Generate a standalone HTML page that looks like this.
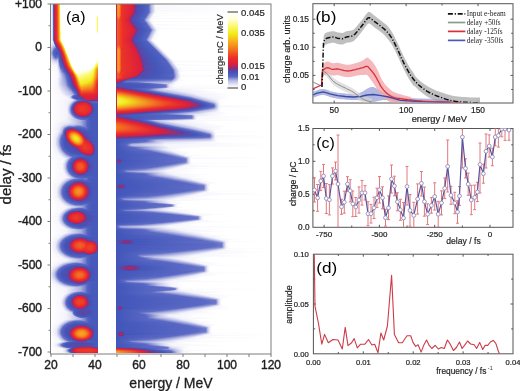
<!DOCTYPE html>
<html><head><meta charset="utf-8"><title>figure</title>
<style>
html,body{margin:0;padding:0;background:#fff}
body{width:520px;height:391px;overflow:hidden;position:relative;font-family:"Liberation Sans",Arial,sans-serif}
#hm{position:absolute;left:51px;top:4px;width:220px;height:349px;filter:blur(0.6px)}
#hm i{display:block;height:1px}
#ov{position:absolute;left:0;top:0}
</style></head><body>
<div id="hm">
<i style="background:linear-gradient(90deg,#ffffff 0px,#d0d2ee 1.5px,#485abc 2.5px,#b82559 3.5px,#e12436 4.5px,#eb2f29 5.5px,#f05224 6.5px,#f5d41d 8.5px,#ffffff 9.5px,#ffffff 64.5px,#bb2557 65.5px,#f6911f 66.5px,#f7a01f 67.5px,#f6911f 68.5px,#ec3428 70.5px,#dd1f3b 81.5px,#c32350 82.5px,#683d9a 84.5px,#514cad 86.5px,#4559bb 91.5px,#5565c2 97.5px,#b6bae4 100.5px,#f9f9fd 104.5px,#ffffff 220px)"></i>
<i style="background:linear-gradient(90deg,#ffffff 0px,#d0d2ee 1.5px,#485abc 2.5px,#b82559 3.5px,#e12436 4.5px,#eb2f29 5.5px,#f05224 6.5px,#f5d41d 8.5px,#fffffc 9.5px,#ffffff 64.5px,#bb2557 65.5px,#f68f1f 66.5px,#f79f1f 67.5px,#f68f1f 68.5px,#ec3428 70.5px,#dd1f3b 81.5px,#c32350 82.5px,#683d9a 84.5px,#514cad 86.5px,#4559bb 91.5px,#5565c2 97.5px,#b6bae4 100.5px,#f9f9fd 104.5px,#ffffff 220px)"></i>
<i style="background:linear-gradient(90deg,#ffffff 0px,#d0d2ee 1.5px,#485bbd 2.5px,#b72559 3.5px,#e12436 4.5px,#eb2f29 5.5px,#f05124 6.5px,#f5d31d 8.5px,#fffffa 9.5px,#ffffff 64.5px,#bb2557 65.5px,#f58e1f 66.5px,#f79e1f 67.5px,#f58e1f 68.5px,#ec3428 70.5px,#dd1f3b 81.5px,#c32350 82.5px,#683d9a 84.5px,#514cad 86.5px,#4559bb 91.5px,#5565c2 97.5px,#b6bae4 100.5px,#f9f9fd 104.5px,#ffffff 220px)"></i>
<i style="background:linear-gradient(90deg,#ffffff 0px,#d1d3ee 1.5px,#495bbd 2.5px,#b7255a 3.5px,#e12336 4.5px,#eb2f29 5.5px,#f05124 6.5px,#f5d21d 8.5px,#fffff7 9.5px,#ffffff 17.5px,#ffffff 64.5px,#bb2557 65.5px,#f58d1f 66.5px,#f69c1f 67.5px,#f58d1f 68.5px,#ec3428 70.5px,#dd1f3b 81.5px,#c32350 82.5px,#683d9a 84.5px,#514cad 86.5px,#4559bb 91.5px,#5565c2 97.5px,#b6bae4 100.5px,#f9f9fd 104.5px,#ffffff 220px)"></i>
<i style="background:linear-gradient(90deg,#ffffff 0px,#d1d3ee 1.5px,#495bbd 2.5px,#b6265a 3.5px,#e12336 4.5px,#eb2f29 5.5px,#f05124 6.5px,#f5d11d 8.5px,#fffff4 9.5px,#ffffff 11.5px,#ffffff 64.5px,#bb2557 65.5px,#f58b1f 66.5px,#f69b1f 67.5px,#f58b1f 68.5px,#ec3428 70.5px,#dd1f3b 81.5px,#c32350 82.5px,#683d9a 84.5px,#514cad 86.5px,#4559bb 91.5px,#5565c2 97.5px,#b6bae4 100.5px,#f9f9fd 104.5px,#ffffff 220px)"></i>
<i style="background:linear-gradient(90deg,#ffffff 0px,#d2d3ee 1.5px,#495bbd 2.5px,#b6265b 3.5px,#e12336 4.5px,#eb2f2a 5.5px,#ef5025 6.5px,#f5d01d 8.5px,#fffff2 9.5px,#ffffff 11.5px,#ffffff 64.5px,#bb2557 65.5px,#f58a1f 66.5px,#f69a1f 67.5px,#f58a1f 68.5px,#ec3428 70.5px,#dd1f3b 81.5px,#c32350 82.5px,#683d9a 84.5px,#514cad 86.5px,#4559bb 91.5px,#5565c2 97.5px,#b6bae4 100.5px,#f9f9fd 104.5px,#ffffff 220px)"></i>
<i style="background:linear-gradient(90deg,#ffffff 0px,#d2d4ef 1.5px,#495cbd 2.5px,#b5265b 3.5px,#e12336 4.5px,#eb2e2a 5.5px,#ef5025 6.5px,#f5cf1d 8.5px,#ffffef 9.5px,#ffffff 10.5px,#ffffff 64.5px,#bb2557 65.5px,#f5891f 66.5px,#f6981f 67.5px,#f5891f 68.5px,#ec3428 70.5px,#dd1f3b 81.5px,#c32350 82.5px,#683d9a 84.5px,#514cad 86.5px,#4559bb 91.5px,#5565c2 97.5px,#b6bae4 100.5px,#f9f9fd 104.5px,#ffffff 220px)"></i>
<i style="background:linear-gradient(90deg,#ffffff 0px,#d2d4ef 1.5px,#4a5cbd 2.5px,#b5265c 3.5px,#e12336 4.5px,#eb2e2a 5.5px,#ef4f25 6.5px,#f5ce1d 8.5px,#ffffec 9.5px,#ffffff 10.5px,#ffffff 64.5px,#bb2557 65.5px,#f58720 66.5px,#f6971f 67.5px,#f58720 68.5px,#ec3428 70.5px,#dd1f3b 81.5px,#c32350 82.5px,#683d9a 84.5px,#514cad 86.5px,#4559bb 91.5px,#5565c2 97.5px,#b6bae4 100.5px,#f9f9fd 104.5px,#ffffff 220px)"></i>
<i style="background:linear-gradient(90deg,#ffffff 0px,#d3d4ef 1.5px,#4a5cbd 2.5px,#b4265c 3.5px,#e02336 4.5px,#ea2e2a 5.5px,#ef4f25 6.5px,#f5cd1d 8.5px,#ffffe9 9.5px,#ffffff 10.5px,#ffffff 64.5px,#bb2557 65.5px,#f58620 66.5px,#f6951f 67.5px,#f58620 68.5px,#ec3428 70.5px,#dc1e3c 81.5px,#813084 83.5px,#5e44a2 84.5px,#4458bb 90.5px,#5967c3 97.5px,#bcc0e6 100.5px,#f2f2fb 103.5px,#ffffff 106.5px,#ffffff 220px)"></i>
<i style="background:linear-gradient(90deg,#ffffff 0px,#d3d5ef 1.5px,#4a5cbe 2.5px,#b3265c 3.5px,#e02336 4.5px,#ea2e2a 5.5px,#ef4f25 6.5px,#f5cc1d 8.5px,#ffffe7 9.5px,#ffffff 10.5px,#ffffff 64.5px,#bb2557 65.5px,#f58520 66.5px,#f6941f 67.5px,#f58520 68.5px,#ec3328 70.5px,#dd1f3b 80.5px,#c6224e 81.5px,#6a3b98 83.5px,#5649a9 84.5px,#4357bb 89.5px,#5564c2 96.5px,#929ad7 98.5px,#b5b9e3 99.5px,#f9f9fd 103.5px,#ffffff 220px)"></i>
<i style="background:linear-gradient(90deg,#ffffff 0px,#d3d5ef 1.5px,#4b5dbe 2.5px,#b3265d 3.5px,#e02337 4.5px,#ea2e2a 5.5px,#ef4e25 6.5px,#f5cc1d 8.5px,#ffffe4 9.5px,#ffffff 10.5px,#ffffff 45.5px,#ffffee 46.5px,#ffffff 47.5px,#ffffff 64.5px,#bb2557 65.5px,#f58320 66.5px,#f6931f 67.5px,#f58320 68.5px,#ec3328 70.5px,#d91f3f 80.5px,#76338e 82.5px,#5748a8 83.5px,#4558bb 89.5px,#5161c0 95.5px,#5f6cc6 96.5px,#a9aedf 98.5px,#e9e9f8 101.5px,#ffffff 103.5px,#ffffff 220px)"></i>
<i style="background:linear-gradient(90deg,#ffffff 0px,#d4d5ef 1.5px,#4b5dbe 2.5px,#b2265d 3.5px,#e02337 4.5px,#ea2e2a 5.5px,#ef4e25 6.5px,#f6cb1d 8.5px,#ffffe1 9.5px,#ffffff 10.5px,#fffffc 45.5px,#ffffda 46.5px,#ffffff 47.5px,#ffffff 64.5px,#bb2557 65.5px,#f58220 66.5px,#f6911f 67.5px,#f58220 68.5px,#ec3328 70.5px,#dd1f3b 79.5px,#ba2558 80.5px,#62419f 82.5px,#4356ba 87.5px,#5766c3 95.5px,#babde5 98.5px,#fcfcfe 102.5px,#ffffff 220px)"></i>
<i style="background:linear-gradient(90deg,#ffffff 0px,#d4d6ef 1.5px,#4b5dbe 2.5px,#b2265e 3.5px,#e02337 4.5px,#ea2e2a 5.5px,#ef4e25 6.5px,#f6ca1d 8.5px,#ffffdf 9.5px,#ffffff 10.5px,#ffffff 44.5px,#ffffe9 45.5px,#fefdb2 46.5px,#ffffff 47.5px,#ffffff 64.5px,#bb2557 65.5px,#f47b20 66.5px,#f58a1f 67.5px,#f47b20 68.5px,#ef4f25 69.5px,#ec3328 70.5px,#dd1f3a 78.5px,#cc2149 79.5px,#6e3995 81.5px,#5649a9 82.5px,#4558bb 88.5px,#5463c1 94.5px,#6874c9 95.5px,#b2b6e2 97.5px,#f7f7fc 101.5px,#ffffff 112.5px,#ffffff 220px)"></i>
<i style="background:linear-gradient(90deg,#ffffff 0px,#d4d6f0 1.5px,#4c5dbe 2.5px,#b1275e 3.5px,#e02337 4.5px,#ea2e2a 5.5px,#ef4d25 6.5px,#f6c91d 8.5px,#ffffdc 9.5px,#ffffff 10.5px,#ffffff 44.5px,#ffffd7 45.5px,#fcf97f 46.5px,#ffffff 47.5px,#ffffff 64.5px,#bb2557 65.5px,#f36e21 66.5px,#f47d20 67.5px,#f36e21 68.5px,#ee4426 69.5px,#eb2e2a 71.5px,#dc1e3c 78.5px,#7b3189 80.5px,#5a46a6 81.5px,#4458bb 87.5px,#5a68c4 94.5px,#a5aadd 96.5px,#f3f3fb 100.5px,#ffffff 102.5px,#ffffff 220px)"></i>
<i style="background:linear-gradient(90deg,#ffffff 0px,#d5d6f0 1.5px,#4c5ebe 2.5px,#b1275f 3.5px,#e02337 4.5px,#ea2e2b 5.5px,#ef4d25 6.5px,#f6c81d 8.5px,#ffffd9 9.5px,#ffffff 10.5px,#ffffff 44.5px,#fffec9 45.5px,#faf669 46.5px,#ffffff 47.5px,#ffffff 64.5px,#bb2557 65.5px,#f16023 66.5px,#f36f21 67.5px,#f16023 68.5px,#ed3c27 69.5px,#dd1f3b 77.5px,#c02453 78.5px,#663e9c 80.5px,#514cae 82.5px,#4659bb 87.5px,#5665c2 93.5px,#b7bbe4 96.5px,#fafafd 100.5px,#ffffff 220px)"></i>
<i style="background:linear-gradient(90deg,#ffffff 0px,#d5d7f0 1.5px,#4c5ebe 2.5px,#b0275f 3.5px,#e02337 4.5px,#ea2e2b 5.5px,#ef4d25 6.5px,#f6c71d 8.5px,#ffffd7 9.5px,#ffffff 10.5px,#ffffff 44.5px,#fffec9 45.5px,#faf669 46.5px,#ffffff 47.5px,#ffffff 64.5px,#bb2557 65.5px,#f15d23 66.5px,#f16023 67.5px,#ec3228 70.5px,#de203a 76.5px,#d32043 77.5px,#723691 79.5px,#5748a8 80.5px,#4558bb 86.5px,#5262c1 92.5px,#6370c7 93.5px,#aeb2e1 95.5px,#f6f6fc 99.5px,#ffffff 103.5px,#ffffff 220px)"></i>
<i style="background:linear-gradient(90deg,#ffffff 0px,#d5d7f0 1.5px,#4d5ebe 2.5px,#b0275f 3.5px,#e02237 4.5px,#ea2d2b 5.5px,#ef4c25 6.5px,#f6c61d 8.5px,#ffffd4 9.5px,#ffffff 10.5px,#ffffff 44.5px,#fffec9 45.5px,#faf669 46.5px,#ffffff 47.5px,#ffffff 64.5px,#bb2557 65.5px,#f15d23 66.5px,#ea2e2a 71.5px,#d42042 77.5px,#733590 79.5px,#5748a8 80.5px,#4558bb 86.5px,#5262c1 92.5px,#626fc7 93.5px,#adb1e0 95.5px,#eaeaf8 98.5px,#ffffff 101.5px,#ffffff 220px)"></i>
<i style="background:linear-gradient(90deg,#ffffff 0px,#d6d7f0 1.5px,#4d5ebf 2.5px,#af2760 3.5px,#e02237 4.5px,#ea2d2b 5.5px,#ef4c25 6.5px,#f6c61d 8.5px,#ffffd1 9.5px,#ffffff 10.5px,#ffffff 44.5px,#fffec9 45.5px,#faf669 46.5px,#ffffff 47.5px,#ffffff 64.5px,#bb2557 65.5px,#f15d23 66.5px,#ea2e2a 71.5px,#dd1f3a 77.5px,#c6224e 78.5px,#693c98 80.5px,#5649a9 81.5px,#4357bb 86.5px,#5564c2 93.5px,#929ad7 95.5px,#b5b9e3 96.5px,#f9f9fd 100.5px,#ffffff 220px)"></i>
<i style="background:linear-gradient(90deg,#ffffff 0px,#d6d8f0 1.5px,#4d5ebf 2.5px,#af2760 3.5px,#e02237 4.5px,#ea2d2b 5.5px,#ef4b25 6.5px,#f6c51d 8.5px,#fffeca 9.5px,#ffffff 10.5px,#ffffff 44.5px,#fffec9 45.5px,#faf669 46.5px,#ffffff 47.5px,#ffffff 64.5px,#bb2557 65.5px,#f15d23 66.5px,#eb2f2a 71.5px,#dd1f3b 78.5px,#6042a1 81.5px,#4457bb 87.5px,#5867c3 94.5px,#bbbee6 97.5px,#f1f1fa 100.5px,#ffffff 103.5px,#ffffff 220px)"></i>
<i style="background:linear-gradient(90deg,#ffffff 0px,#d7d8f0 1.5px,#4e5fbf 2.5px,#ae2761 3.5px,#e02237 4.5px,#e92d2b 5.5px,#ef4b25 6.5px,#f6c41d 8.5px,#fffec4 9.5px,#ffffff 10.5px,#ffffff 44.5px,#fffec9 45.5px,#faf669 46.5px,#ffffff 47.5px,#ffffff 64.5px,#bb2557 65.5px,#f15d23 66.5px,#eb2f29 71.5px,#d91f3e 79.5px,#76338d 81.5px,#5748a8 82.5px,#4558bb 88.5px,#5161c0 94.5px,#5e6cc5 95.5px,#a9aedf 97.5px,#e9e9f7 100.5px,#ffffff 102.5px,#ffffff 220px)"></i>
<i style="background:linear-gradient(90deg,#ffffff 0px,#d7d8f0 1.5px,#4e5fbf 2.5px,#ae2761 3.5px,#e02237 4.5px,#e92d2b 5.5px,#ef4b25 6.5px,#f6c31d 8.5px,#fefdbd 9.5px,#ffffff 10.5px,#ffffff 44.5px,#fffec9 45.5px,#faf669 46.5px,#ffffff 47.5px,#ffffff 64.5px,#bb2557 65.5px,#f15d23 66.5px,#eb2f29 71.5px,#dd1f3b 79.5px,#cb214a 80.5px,#6d3a96 82.5px,#5649a9 83.5px,#4558bb 89.5px,#5463c1 95.5px,#6976c9 96.5px,#b3b7e2 98.5px,#f8f8fd 102.5px,#ffffff 130.5px,#ffffff 220px)"></i>
<i style="background:linear-gradient(90deg,#ffffff 0px,#d7d9f1 1.5px,#4e5fbf 2.5px,#ad2761 3.5px,#e02237 4.5px,#e92d2b 5.5px,#ef4a25 6.5px,#f6c21d 8.5px,#fefdb7 9.5px,#ffffff 10.5px,#ffffff 44.5px,#fffec9 45.5px,#faf669 46.5px,#ffffff 47.5px,#ffffff 64.5px,#bb2557 65.5px,#f15d23 66.5px,#eb2f29 71.5px,#dd1f3b 80.5px,#bb2556 81.5px,#63409e 83.5px,#4c50b2 86.5px,#4659bc 90.5px,#5766c3 96.5px,#b9bde5 99.5px,#fbfbfe 103.5px,#ffffff 220px)"></i>
<i style="background:linear-gradient(90deg,#ffffff 0px,#d8d9f1 1.5px,#4f5fbf 2.5px,#ad2762 3.5px,#e02238 4.5px,#e92d2c 5.5px,#ef4a25 6.5px,#f6c11d 8.5px,#fefcb0 9.5px,#ffffff 10.5px,#ffffff 44.5px,#fffec9 45.5px,#faf669 46.5px,#ffffff 47.5px,#ffffff 64.5px,#bb2557 65.5px,#f15d23 66.5px,#eb2f29 71.5px,#dc1e3c 81.5px,#7b318a 83.5px,#5947a6 84.5px,#4458bb 90.5px,#5a68c4 97.5px,#a5abde 99.5px,#f3f3fb 103.5px,#ffffff 105.5px,#ffffff 220px)"></i>
<i style="background:linear-gradient(90deg,#ffffff 0px,#d8d9f1 1.5px,#4f60bf 2.5px,#ac2862 3.5px,#e02238 4.5px,#e92d2c 5.5px,#ef4a25 6.5px,#f7c01e 8.5px,#fefcaa 9.5px,#ffffff 10.5px,#ffffff 44.5px,#fffec9 45.5px,#faf669 46.5px,#ffffff 47.5px,#ffffff 64.5px,#bb2557 65.5px,#f15d23 66.5px,#ec3028 71.5px,#dd1f3b 81.5px,#d02046 82.5px,#703793 84.5px,#5648a9 85.5px,#4558bb 91.5px,#5363c1 97.5px,#6672c8 98.5px,#b0b5e1 100.5px,#f7f7fc 104.5px,#ffffff 110.5px,#ffffff 220px)"></i>
<i style="background:linear-gradient(90deg,#ffffff 0px,#d8daf1 1.5px,#4f60bf 2.5px,#ac2863 3.5px,#df2238 4.5px,#e92d2c 5.5px,#ef4925 6.5px,#f7c01e 8.5px,#fdfba3 9.5px,#ffffff 10.5px,#ffffff 44.5px,#fffec9 45.5px,#faf669 46.5px,#ffffff 47.5px,#ffffff 64.5px,#bb2557 65.5px,#f15d23 66.5px,#ec3028 71.5px,#dd1f3b 82.5px,#c02452 83.5px,#663e9b 85.5px,#514cae 87.5px,#4659bb 92.5px,#5665c2 98.5px,#b7bbe4 101.5px,#fafafd 105.5px,#ffffff 220px)"></i>
<i style="background:linear-gradient(90deg,#ffffff 0px,#d9daf1 1.5px,#4f60c0 2.5px,#ab2863 3.5px,#df2238 4.5px,#e92d2c 5.5px,#ef4925 6.5px,#f7bf1e 8.5px,#fdfb9d 9.5px,#ffffff 10.5px,#ffffff 44.5px,#fffec9 45.5px,#faf669 46.5px,#ffffff 47.5px,#ffffff 64.5px,#bb2557 65.5px,#f15d23 66.5px,#ec3028 71.5px,#dc1e3c 83.5px,#803086 85.5px,#5c44a3 86.5px,#4458bb 92.5px,#5967c4 99.5px,#bdc0e6 102.5px,#f2f2fb 105.5px,#ffffff 108.5px,#ffffff 220px)"></i>
<i style="background:linear-gradient(90deg,#ffffff 0px,#d9daf1 1.5px,#5060c0 2.5px,#ab2863 3.5px,#df2238 4.5px,#e92c2c 5.5px,#ef4925 6.5px,#f7be1e 8.5px,#fdfa96 9.5px,#ffffff 10.5px,#ffffff 44.5px,#fffec9 45.5px,#faf669 46.5px,#ffffff 47.5px,#ffffff 64.5px,#bb2557 65.5px,#f15d23 66.5px,#ec3028 71.5px,#dc1e3c 83.5px,#6042a1 86.5px,#4457bb 92.5px,#5867c3 99.5px,#bbbee6 102.5px,#f1f1fa 105.5px,#ffffff 108.5px,#ffffff 220px)"></i>
<i style="background:linear-gradient(90deg,#ffffff 0px,#d9dbf1 1.5px,#5061c0 2.5px,#aa2864 3.5px,#df2238 4.5px,#e92c2c 5.5px,#ef4825 6.5px,#f7bd1e 8.5px,#fdfa90 9.5px,#ffffff 10.5px,#ffffff 44.5px,#ffffd9 45.5px,#fcf983 46.5px,#ffffff 47.5px,#ffffff 64.5px,#bb2557 65.5px,#f15d23 66.5px,#ec3028 71.5px,#dd1f3b 82.5px,#d02046 83.5px,#703793 85.5px,#5648a9 86.5px,#4558bb 92.5px,#5363c1 98.5px,#6672c8 99.5px,#b0b5e1 101.5px,#f7f7fc 105.5px,#ffffff 111.5px,#ffffff 220px)"></i>
<i style="background:linear-gradient(90deg,#ffffff 0px,#dadbf2 1.5px,#5061c0 2.5px,#aa2864 3.5px,#df2238 4.5px,#e92c2c 5.5px,#ef4825 6.5px,#f7bc1e 8.5px,#fdf98a 9.5px,#ffffff 10.5px,#ffffff 44.5px,#ffffed 45.5px,#fefdbd 46.5px,#ffffff 47.5px,#ffffff 64.5px,#bb2557 65.5px,#f15d23 66.5px,#ec3028 71.5px,#dc1e3c 82.5px,#6042a1 85.5px,#4457bb 91.5px,#5867c3 98.5px,#bbbee6 101.5px,#f1f1fa 104.5px,#ffffff 107.5px,#ffffff 220px)"></i>
<i style="background:linear-gradient(90deg,#ffffff 0px,#dadbf2 1.5px,#5161c0 2.5px,#a92865 3.5px,#df2238 4.5px,#e92c2c 5.5px,#ef4825 6.5px,#f7bb1e 8.5px,#fcf983 9.5px,#ffffff 10.5px,#ffffff 45.5px,#ffffe1 46.5px,#ffffff 47.5px,#ffffff 64.5px,#bb2557 65.5px,#f15d23 66.5px,#ec3028 71.5px,#dd1f3b 81.5px,#d02046 82.5px,#703793 84.5px,#5648a9 85.5px,#4558bb 91.5px,#5363c1 97.5px,#6672c8 98.5px,#b0b5e1 100.5px,#f7f7fc 104.5px,#ffffff 110.5px,#ffffff 220px)"></i>
<i style="background:linear-gradient(90deg,#ffffff 0px,#dadbf2 1.5px,#5161c0 2.5px,#a92865 3.5px,#df2138 4.5px,#e82c2c 5.5px,#ef4725 6.5px,#f7ba1e 8.5px,#fcf87d 9.5px,#ffffff 10.5px,#ffffff 64.5px,#bb2557 65.5px,#f15d23 66.5px,#ec2f29 71.5px,#dc1e3c 81.5px,#6042a1 84.5px,#4457bb 90.5px,#5867c3 97.5px,#bbbee6 100.5px,#f1f1fa 103.5px,#ffffff 106.5px,#ffffff 220px)"></i>
<i style="background:linear-gradient(90deg,#fefeff 0px,#dbdcf2 1.5px,#5161c0 2.5px,#a82865 3.5px,#df2138 4.5px,#e82c2d 5.5px,#ee4726 6.5px,#f47920 7.5px,#f7ba1e 8.5px,#fcf877 9.5px,#ffffff 10.5px,#ffffff 64.5px,#bb2557 65.5px,#f15d23 66.5px,#eb2f29 71.5px,#dd1f3b 80.5px,#d02046 81.5px,#703793 83.5px,#5648a9 84.5px,#4558bb 90.5px,#5363c1 96.5px,#6672c8 97.5px,#b0b5e1 99.5px,#f7f7fc 103.5px,#ffffff 109.5px,#ffffff 220px)"></i>
<i style="background:linear-gradient(90deg,#fefeff 0px,#dbdcf2 1.5px,#5262c0 2.5px,#a82866 3.5px,#df2138 4.5px,#e82c2d 5.5px,#ee4726 6.5px,#f47820 7.5px,#f7b91e 8.5px,#fbf772 9.5px,#ffffff 10.5px,#ffffff 64.5px,#bb2557 65.5px,#f15d23 66.5px,#eb2f29 71.5px,#dc1e3b 80.5px,#6042a1 83.5px,#4457bb 89.5px,#5867c3 96.5px,#bbbee6 99.5px,#f1f1fa 102.5px,#ffffff 105.5px,#ffffff 220px)"></i>
<i style="background:linear-gradient(90deg,#fdfdfe 0px,#dbdcf2 1.5px,#5262c1 2.5px,#a72966 3.5px,#df2138 4.5px,#e82c2d 5.5px,#ee4626 6.5px,#f47820 7.5px,#f7b81e 8.5px,#fbf76c 9.5px,#ffffff 10.5px,#ffffff 64.5px,#bb2557 65.5px,#f15d23 66.5px,#eb2f29 71.5px,#dd1f3a 79.5px,#d02046 80.5px,#703793 82.5px,#5648a9 83.5px,#4558bb 89.5px,#5363c1 95.5px,#6672c8 96.5px,#b0b5e1 98.5px,#f7f7fc 102.5px,#ffffff 108.5px,#ffffff 220px)"></i>
<i style="background:linear-gradient(90deg,#fdfdfe 0px,#dcddf2 1.5px,#5262c1 2.5px,#a72967 3.5px,#df2138 4.5px,#e82c2d 5.5px,#ee4626 6.5px,#f47720 7.5px,#f7b71e 8.5px,#faf667 9.5px,#ffffff 10.5px,#ffffff 64.5px,#bb2557 65.5px,#f15d23 66.5px,#eb2f29 71.5px,#dc1f3b 79.5px,#6042a1 82.5px,#4457bb 88.5px,#5867c3 95.5px,#bbbee6 98.5px,#f1f1fa 101.5px,#ffffff 104.5px,#ffffff 220px)"></i>
<i style="background:linear-gradient(90deg,#fbfbfe 0px,#dcddf3 1.5px,#5262c1 2.5px,#a62967 3.5px,#df2139 4.5px,#e82c2d 5.5px,#ee4526 6.5px,#f47620 7.5px,#f8b61e 8.5px,#faf662 9.5px,#ffffff 10.5px,#ffffff 64.5px,#bb2557 65.5px,#f15d23 66.5px,#eb2f29 71.5px,#dd203a 78.5px,#d02046 79.5px,#703793 81.5px,#5648a9 82.5px,#4558bb 88.5px,#5363c1 94.5px,#6672c8 95.5px,#b0b5e1 97.5px,#f7f7fc 101.5px,#ffffff 107.5px,#ffffff 220px)"></i>
<i style="background:linear-gradient(90deg,#fafafd 0px,#e8e8f7 1.5px,#5f6dc6 2.5px,#992b72 3.5px,#dd1f3b 4.5px,#ee3e26 6.5px,#f26622 7.5px,#f3e81c 9.5px,#ffffff 10.5px,#ffffff 64.5px,#bb2557 65.5px,#f15d23 66.5px,#eb2f29 71.5px,#de203a 78.5px,#d22044 79.5px,#723692 81.5px,#5748a8 82.5px,#4558bb 88.5px,#5061c0 94.5px,#5c6ac5 95.5px,#a7acde 97.5px,#e8e8f7 100.5px,#ffffff 102.5px,#ffffff 220px)"></i>
<i style="background:linear-gradient(90deg,#f8f8fd 0px,#f5f5fc 1.5px,#9da3db 2.5px,#63409e 3.5px,#cc2149 4.5px,#ec3028 6.5px,#f05124 7.5px,#f6c71d 9.5px,#fefdbb 10.5px,#ffffff 11.5px,#ffffff 64.5px,#bb2557 65.5px,#f15d23 66.5px,#eb2f29 71.5px,#dd1f3b 79.5px,#be2454 80.5px,#653f9d 82.5px,#514cad 84.5px,#4558bb 89.5px,#5061c0 95.5px,#5c6ac5 96.5px,#a7acde 98.5px,#e8e8f7 101.5px,#ffffff 103.5px,#ffffff 220px)"></i>
<i style="background:linear-gradient(90deg,#f5f5fc 0px,#f1f1fa 1.5px,#c3c5e9 2.5px,#4659bc 3.5px,#ab2863 4.5px,#de2139 5.5px,#ee4126 7.5px,#f26a22 8.5px,#f3e71c 10.5px,#ffffff 11.5px,#ffffff 64.5px,#bb2557 65.5px,#f15d23 66.5px,#eb2f29 71.5px,#dc1e3c 80.5px,#78328c 82.5px,#5848a8 83.5px,#4357bb 89.5px,#5061c0 96.5px,#5c6ac5 97.5px,#a7acde 99.5px,#e8e8f7 102.5px,#ffffff 104.5px,#ffffff 220px)"></i>
<i style="background:linear-gradient(90deg,#f2f2fb 0px,#dbdcf2 2.5px,#5968c4 3.5px,#843082 4.5px,#c9224b 5.5px,#e22435 6.5px,#eb2f29 7.5px,#ef4f25 8.5px,#f6c61d 10.5px,#fdfba3 11.5px,#ffffff 12.5px,#ffffff 64.5px,#bb2557 65.5px,#f15d23 66.5px,#eb2f29 71.5px,#dd1f3b 80.5px,#c8224c 81.5px,#6b3b97 83.5px,#5649a9 84.5px,#4457bb 90.5px,#5061c0 97.5px,#5c6ac5 98.5px,#a7acde 100.5px,#e8e8f7 103.5px,#ffffff 105.5px,#ffffff 220px)"></i>
<i style="background:linear-gradient(90deg,#eeeef9 0px,#dadbf2 2.5px,#979ed9 3.5px,#534aab 4.5px,#a12a6b 5.5px,#dd1f3b 6.5px,#ed3b27 8.5px,#f26922 9.5px,#f3e41c 11.5px,#ffffff 12.5px,#ffffff 64.5px,#bb2557 65.5px,#f15d23 66.5px,#eb2f29 71.5px,#dc1e3c 81.5px,#5e43a2 84.5px,#4458bb 91.5px,#5061c0 98.5px,#5c6ac5 99.5px,#a7acde 101.5px,#e8e8f7 104.5px,#ffffff 106.5px,#ffffff 220px)"></i>
<i style="background:linear-gradient(90deg,#eaeaf8 0px,#c1c4e8 3.5px,#4d5ebe 4.5px,#7a328a 5.5px,#b82559 6.5px,#e02237 7.5px,#ea2d2b 8.5px,#ef4925 9.5px,#f6c31d 11.5px,#fdfa8b 12.5px,#ffffff 13.5px,#ffffff 64.5px,#bb2557 65.5px,#f15d23 66.5px,#f15e23 67.5px,#ec3428 70.5px,#dd1f3b 81.5px,#d22044 82.5px,#723692 84.5px,#5748a8 85.5px,#4558bb 92.5px,#5061c0 99.5px,#5c6ac5 100.5px,#a7acde 102.5px,#e8e8f7 105.5px,#ffffff 107.5px,#ffffff 220px)"></i>
<i style="background:linear-gradient(90deg,#e2e2f5 0px,#afb4e1 3.5px,#616ec6 4.5px,#63409e 5.5px,#ce2147 7.5px,#ed3627 9.5px,#f7a61e 11.5px,#f3e41c 12.5px,#ffffff 13.5px,#ffffff 64.5px,#bb2557 65.5px,#f15e23 66.5px,#f36d21 67.5px,#f15e23 68.5px,#ed3c27 69.5px,#e22534 78.5px,#dd1f3b 82.5px,#be2454 83.5px,#653f9d 85.5px,#524cad 87.5px,#4558bb 93.5px,#5061c0 100.5px,#5c6ac5 101.5px,#a7acde 103.5px,#e8e8f7 106.5px,#ffffff 108.5px,#ffffff 220px)"></i>
<i style="background:linear-gradient(90deg,#dadbf2 0px,#7d87d0 4.5px,#4753b6 5.5px,#743590 6.5px,#df2238 8.5px,#e92d2c 9.5px,#ef4e25 10.5px,#f6ca1d 12.5px,#fefdbe 13.5px,#ffffff 14.5px,#ffffff 64.5px,#bb2557 65.5px,#f26c22 66.5px,#f47b20 67.5px,#f26c22 68.5px,#ee4226 69.5px,#ec3028 71.5px,#dc1e3c 83.5px,#78328c 85.5px,#5848a8 86.5px,#4457bb 93.5px,#5061c0 101.5px,#5c6ac5 102.5px,#a7acde 104.5px,#e8e8f7 107.5px,#ffffff 109.5px,#ffffff 220px)"></i>
<i style="background:linear-gradient(90deg,#d2d3ee 0px,#949cd8 2.5px,#707bcb 3.5px,#4d5ebf 5.5px,#5f42a1 6.5px,#872f80 7.5px,#ce2147 8.5px,#ed3727 10.5px,#f8b01e 12.5px,#f5f136 13.5px,#ffffff 14.5px,#ffffff 64.5px,#bb2557 65.5px,#f47920 66.5px,#f58820 67.5px,#f47920 68.5px,#ef4e25 69.5px,#ec3428 70.5px,#dd1f3b 83.5px,#c8224c 84.5px,#6b3b97 86.5px,#5649a9 87.5px,#4457bb 94.5px,#5061c0 102.5px,#5c6ac5 103.5px,#a7acde 105.5px,#e8e8f7 108.5px,#ffffff 110.5px,#ffffff 220px)"></i>
<i style="background:linear-gradient(90deg,#cacdec 0px,#aeb2e1 1.5px,#7c86d0 2.5px,#5867c3 3.5px,#5262c1 5.5px,#4c4fb1 6.5px,#6c3a96 7.5px,#df2238 9.5px,#e92d2b 10.5px,#f05924 11.5px,#f4d51d 13.5px,#ffffe6 14.5px,#ffffff 15.5px,#ffffff 64.5px,#bb2557 65.5px,#f58620 66.5px,#f6951f 67.5px,#f58620 68.5px,#ec3428 70.5px,#dc1e3c 84.5px,#5e43a2 87.5px,#4458bb 95.5px,#5061c0 103.5px,#5c6ac5 104.5px,#a7acde 106.5px,#e8e8f7 109.5px,#ffffff 111.5px,#ffffff 220px)"></i>
<i style="background:linear-gradient(90deg,#c4c7e9 0px,#9ea4db 1.5px,#6874c9 2.5px,#5262c1 3.5px,#4659bc 6.5px,#77338d 8.5px,#d02046 9.5px,#e42831 10.5px,#ee3f26 11.5px,#f7bb1e 13.5px,#fcf874 14.5px,#ffffff 15.5px,#ffffff 64.5px,#bb2557 65.5px,#f58c1f 66.5px,#f69c1f 67.5px,#f58c1f 68.5px,#ec3428 70.5px,#dd1f3b 84.5px,#cd2148 85.5px,#6e3894 87.5px,#5748a8 88.5px,#4558bb 96.5px,#5061c0 104.5px,#5c6ac5 105.5px,#a7acde 107.5px,#e8e8f7 110.5px,#ffffff 112.5px,#ffffff 220px)"></i>
<i style="background:linear-gradient(90deg,#c0c3e8 0px,#5a68c4 2.5px,#4659bc 5.5px,#4d5ebf 6.5px,#4554b7 7.5px,#62419f 8.5px,#a22a6a 9.5px,#e02237 10.5px,#ea2d2b 11.5px,#f3e01c 14.5px,#ffffff 15.5px,#ffffff 64.5px,#bb2557 65.5px,#f58c1f 66.5px,#f69c1f 67.5px,#f58c1f 68.5px,#ec3428 70.5px,#dc1e3c 85.5px,#7d3188 87.5px,#5b45a5 88.5px,#4457bb 96.5px,#5061c0 105.5px,#5c6ac5 106.5px,#a7acde 108.5px,#e8e8f7 111.5px,#ffffff 113.5px,#ffffff 220px)"></i>
<i style="background:linear-gradient(90deg,#bec1e7 0px,#5866c3 2.5px,#4357bb 5.5px,#4659bc 7.5px,#544aab 8.5px,#7e3188 9.5px,#d91f3e 10.5px,#e52930 11.5px,#ef4c25 12.5px,#f6c71d 14.5px,#fefdb6 15.5px,#ffffff 16.5px,#ffffff 64.5px,#bb2557 65.5px,#f58c1f 66.5px,#f69c1f 67.5px,#f58c1f 68.5px,#ec3428 70.5px,#dd1f3b 85.5px,#c32350 86.5px,#683d9a 88.5px,#5649a9 89.5px,#4458bb 97.5px,#5061c0 106.5px,#5c6ac5 107.5px,#a7acde 109.5px,#e8e8f7 112.5px,#ffffff 114.5px,#ffffff 220px)"></i>
<i style="background:linear-gradient(90deg,#bec1e7 0px,#5866c3 2.5px,#4357bb 5.5px,#4a5cbd 7.5px,#4c50b2 8.5px,#6a3b98 9.5px,#bc2456 10.5px,#e22534 11.5px,#ed3527 12.5px,#f8ae1e 14.5px,#f6f23d 15.5px,#ffffff 16.5px,#ffffff 64.5px,#bb2557 65.5px,#f58c1f 66.5px,#f69c1f 67.5px,#f58c1f 68.5px,#ec3428 70.5px,#d71f40 86.5px,#75348f 88.5px,#5748a8 89.5px,#4458bb 98.5px,#5061c0 107.5px,#5c6ac5 108.5px,#a7acde 110.5px,#e8e8f7 113.5px,#ffffff 115.5px,#ffffff 220px)"></i>
<i style="background:linear-gradient(90deg,#c0c3e8 0px,#5a68c4 2.5px,#4659bc 5.5px,#4d5ebf 7.5px,#4455b9 8.5px,#5e43a2 9.5px,#9f2a6d 10.5px,#df2138 11.5px,#e82c2d 12.5px,#f5d21d 15.5px,#ffffdf 16.5px,#ffffff 17.5px,#ffffff 64.5px,#bb2557 65.5px,#f58c1f 66.5px,#f69c1f 67.5px,#f58c1f 68.5px,#ec3428 70.5px,#dc1e3c 86.5px,#b92558 87.5px,#61419f 89.5px,#4d4fb1 93.5px,#4659bc 100.5px,#5061c0 108.5px,#5c6ac5 109.5px,#a7acde 111.5px,#e8e8f7 114.5px,#ffffff 116.5px,#ffffff 220px)"></i>
<i style="background:linear-gradient(90deg,#c4c7e9 0px,#9ea4db 1.5px,#6874c9 2.5px,#5262c1 3.5px,#5262c1 7.5px,#4558bb 8.5px,#5649a9 9.5px,#843082 10.5px,#da1e3e 11.5px,#e52831 12.5px,#ef4725 13.5px,#f7ba1e 15.5px,#fbf772 16.5px,#ffffff 17.5px,#ffffff 64.5px,#bb2557 65.5px,#f58c1f 66.5px,#f69c1f 67.5px,#f58c1f 68.5px,#ec3428 70.5px,#dd1f3b 86.5px,#cd2148 87.5px,#6e3894 89.5px,#5748a8 90.5px,#4457bb 99.5px,#5061c0 109.5px,#5c6ac5 110.5px,#a7acde 112.5px,#e8e8f7 115.5px,#ffffff 117.5px,#ffffff 220px)"></i>
<i style="background:linear-gradient(90deg,#cacdec 0px,#aeb2e1 1.5px,#7c86d0 2.5px,#5867c3 3.5px,#5766c3 7.5px,#485abc 8.5px,#4f4daf 9.5px,#713692 10.5px,#c12351 11.5px,#e22534 12.5px,#ec3428 13.5px,#f3e91c 16.5px,#fffff9 17.5px,#ffffff 64.5px,#bb2557 65.5px,#f58c1f 66.5px,#f69c1f 67.5px,#f58c1f 68.5px,#ec3428 70.5px,#dc1e3c 87.5px,#7d3188 89.5px,#5b45a5 90.5px,#4458bb 100.5px,#5061c0 110.5px,#5c6ac5 111.5px,#a7acde 113.5px,#e8e8f7 116.5px,#ffffff 118.5px,#ffffff 220px)"></i>
<i style="background:linear-gradient(90deg,#d2d3ee 0px,#949cd8 2.5px,#707bcb 3.5px,#5b69c4 4.5px,#5b69c4 5.5px,#707bcb 6.5px,#4a5cbd 8.5px,#4a51b3 9.5px,#663e9c 10.5px,#ad2761 11.5px,#e02237 12.5px,#e92c2c 13.5px,#f5cb1d 16.5px,#fffec9 17.5px,#ffffff 18.5px,#ffffff 64.5px,#bb2557 65.5px,#f58c1f 66.5px,#f69c1f 67.5px,#f58c1f 68.5px,#ec3428 70.5px,#dc1f3b 87.5px,#c32350 88.5px,#683d9a 90.5px,#5648a9 91.5px,#4558bb 101.5px,#5061c0 111.5px,#5c6ac5 112.5px,#a7acde 114.5px,#e8e8f7 117.5px,#ffffff 119.5px,#ffffff 220px)"></i>
<i style="background:linear-gradient(90deg,#dadbf2 0px,#7d87d0 4.5px,#7d87d0 5.5px,#8f97d6 6.5px,#4c5dbe 8.5px,#4454b8 9.5px,#5d44a3 10.5px,#de203a 12.5px,#e6292f 13.5px,#ef4d25 14.5px,#f7b81e 16.5px,#faf667 17.5px,#ffffff 18.5px,#ffffff 64.5px,#bb2557 65.5px,#f58c1f 66.5px,#f69c1f 67.5px,#f58c1f 68.5px,#ec3428 70.5px,#d71f40 88.5px,#75348f 90.5px,#5748a8 91.5px,#4457bb 101.5px,#5061c0 112.5px,#5c6ac5 113.5px,#a7acde 115.5px,#e8e8f7 118.5px,#ffffff 120.5px,#ffffff 220px)"></i>
<i style="background:linear-gradient(90deg,#e2e2f5 0px,#a0a6dc 4.5px,#a0a6dc 5.5px,#afb4e1 6.5px,#4e5fbf 8.5px,#4357ba 9.5px,#5748a8 10.5px,#882f7f 11.5px,#d61f41 12.5px,#e42732 13.5px,#ed3e27 14.5px,#f7a71e 16.5px,#f2eb1c 17.5px,#fffff2 18.5px,#ffffff 20.5px,#ffffff 64.5px,#bb2557 65.5px,#f58c1f 66.5px,#f69c1f 67.5px,#f58c1f 68.5px,#ec3528 70.5px,#dc1e3c 88.5px,#b92558 89.5px,#61419f 91.5px,#4e4eaf 95.5px,#4559bb 103.5px,#5061c0 113.5px,#5c6ac5 114.5px,#a7acde 116.5px,#e8e8f7 119.5px,#ffffff 121.5px,#ffffff 220px)"></i>
<i style="background:linear-gradient(90deg,#eaeaf8 0px,#bbbee5 4.5px,#c1c4e8 6.5px,#5061c0 8.5px,#4659bc 9.5px,#504cae 10.5px,#75348e 11.5px,#c02453 12.5px,#e12436 13.5px,#eb2f29 14.5px,#f6c71d 17.5px,#fefdb9 18.5px,#ffffff 19.5px,#fffffc 45.5px,#ffffe5 46.5px,#ffffff 47.5px,#ffffff 64.5px,#bb2557 65.5px,#f58c1f 66.5px,#f69c1f 67.5px,#f58c1f 68.5px,#ec3528 70.5px,#dd1f3b 88.5px,#c8224c 89.5px,#6b3b97 91.5px,#5748a8 92.5px,#4558bb 103.5px,#5262c1 114.5px,#626fc7 115.5px,#adb1e0 117.5px,#eaeaf8 120.5px,#ffffff 123.5px,#ffffff 220px)"></i>
<i style="background:linear-gradient(90deg,#eeeef9 0px,#ccceec 4.5px,#d1d3ee 6.5px,#5363c1 8.5px,#4852b5 10.5px,#673d9a 11.5px,#de2039 13.5px,#e6292f 14.5px,#f58220 16.5px,#f8b11e 17.5px,#f8f456 18.5px,#ffffff 19.5px,#ffffff 44.5px,#ffffcd 46.5px,#ffffff 47.5px,#ffffff 64.5px,#bb2557 65.5px,#f58c1f 66.5px,#f69c1f 67.5px,#f58c1f 68.5px,#ec3528 70.5px,#dd1f3b 88.5px,#d22044 89.5px,#723692 91.5px,#5748a8 92.5px,#4458bb 103.5px,#5564c2 115.5px,#929ad7 117.5px,#b5b9e3 118.5px,#f9f9fd 122.5px,#ffffff 220px)"></i>
<i style="background:linear-gradient(90deg,#f2f2fb 0px,#dbdcf2 5.5px,#dadbf2 6.5px,#a7acde 7.5px,#5866c3 8.5px,#4356ba 10.5px,#5a46a6 11.5px,#902d79 12.5px,#d71f40 13.5px,#e32633 14.5px,#ed3d27 15.5px,#f69d1f 17.5px,#f4de1d 18.5px,#ffffde 19.5px,#ffffff 20.5px,#ffffff 43.5px,#fffff4 44.5px,#ffffd1 45.5px,#fdfb99 46.5px,#ffffff 47.5px,#ffffff 64.5px,#bb2557 65.5px,#f58c1f 66.5px,#f69c1f 67.5px,#f58c1f 68.5px,#ec3528 70.5px,#dc1e3c 89.5px,#78328c 91.5px,#5848a8 92.5px,#4558bb 104.5px,#5867c3 116.5px,#bbbee6 119.5px,#f1f1fa 122.5px,#ffffff 125.5px,#ffffff 220px)"></i>
<i style="background:linear-gradient(90deg,#f5f5fc 0px,#dfe0f4 6.5px,#b3b7e3 7.5px,#626fc7 8.5px,#4659bc 10.5px,#4e4eb0 11.5px,#7a328a 12.5px,#be2454 13.5px,#e02337 14.5px,#eb2f2a 15.5px,#f8b61e 18.5px,#fdf989 19.5px,#ffffff 20.5px,#ffffff 43.5px,#ffffdf 44.5px,#faf669 46.5px,#ffffff 47.5px,#ffffff 64.5px,#bb2557 65.5px,#f58c1f 66.5px,#f69c1f 67.5px,#f58c1f 68.5px,#ec3528 70.5px,#dc1e3c 89.5px,#5e43a2 92.5px,#4357bb 103.5px,#5161c0 116.5px,#5e6cc5 117.5px,#a9aedf 119.5px,#e9e9f7 122.5px,#ffffff 124.5px,#ffffff 220px)"></i>
<i style="background:linear-gradient(90deg,#f8f8fd 0px,#eeeef9 5.5px,#e3e3f5 6.5px,#babee5 7.5px,#717dcc 8.5px,#5262c1 9.5px,#4653b6 11.5px,#6c3a97 12.5px,#dd203a 14.5px,#e6292f 15.5px,#ef4a25 16.5px,#f7a21f 18.5px,#f5f137 19.5px,#fffff0 20.5px,#ffffff 21.5px,#ffffff 42.5px,#fffff3 43.5px,#fefdbd 44.5px,#fbf76c 45.5px,#f6f23f 46.5px,#ffffff 47.5px,#ffffff 64.5px,#bb2557 65.5px,#f58c1f 66.5px,#f69c1f 67.5px,#f58c1f 68.5px,#ec3528 70.5px,#dc1e3c 89.5px,#be2454 90.5px,#653f9d 92.5px,#544aab 94.5px,#4558bb 105.5px,#5463c1 117.5px,#6976c9 118.5px,#b3b7e2 120.5px,#f8f8fd 124.5px,#ffffff 152.5px,#ffffff 220px)"></i>
<i style="background:linear-gradient(90deg,#fafafd 0px,#f3f3fb 5.5px,#e6e7f7 6.5px,#c1c4e8 7.5px,#808ad1 8.5px,#5564c2 9.5px,#4457bb 11.5px,#5e43a2 12.5px,#d02046 14.5px,#e22435 15.5px,#ed3827 16.5px,#f6901f 18.5px,#f5ce1d 19.5px,#fefdb8 20.5px,#ffffff 21.5px,#ffffff 42.5px,#ffffde 43.5px,#fdf988 44.5px,#f6f241 45.5px,#f3e91c 46.5px,#ffffff 47.5px,#ffffff 64.5px,#bb2557 65.5px,#f58c1f 66.5px,#f69c1f 67.5px,#f58c1f 68.5px,#ed3527 70.5px,#dd1f3b 89.5px,#c8224c 90.5px,#6b3b97 92.5px,#5748a8 93.5px,#4458bb 105.5px,#5766c3 118.5px,#b9bde5 121.5px,#fbfbfe 125.5px,#ffffff 220px)"></i>
<i style="background:linear-gradient(90deg,#fbfbfe 0px,#f7f7fc 5.5px,#eaeaf8 6.5px,#c9cbeb 7.5px,#5867c3 9.5px,#485abc 11.5px,#4f4eaf 12.5px,#76338e 13.5px,#b2265e 14.5px,#de203a 15.5px,#e92c2c 16.5px,#f7a11f 19.5px,#f8f453 20.5px,#fffff6 21.5px,#ffffff 26.5px,#ffffff 41.5px,#ffffed 42.5px,#fefdb7 43.5px,#f9f558 44.5px,#f2ea1c 45.5px,#f5cd1d 46.5px,#ffffff 47.5px,#ffffff 64.5px,#bb2557 65.5px,#f58c1f 66.5px,#f69c1f 67.5px,#f58c1f 68.5px,#ed3527 70.5px,#dd1f3b 89.5px,#d22044 90.5px,#723692 92.5px,#5748a8 93.5px,#4457bb 105.5px,#5061c0 118.5px,#5a68c4 119.5px,#a5abde 121.5px,#f3f3fb 125.5px,#ffffff 127.5px,#ffffff 220px)"></i>
<i style="background:linear-gradient(90deg,#fdfdfe 0px,#f9f9fd 5.5px,#ededf9 6.5px,#d2d4ef 7.5px,#a8aedf 8.5px,#6471c7 9.5px,#4558bb 12.5px,#62419f 13.5px,#c9224b 15.5px,#e22534 16.5px,#ed3727 17.5px,#f58720 19.5px,#f5d41d 20.5px,#fefcad 21.5px,#ffffff 22.5px,#ffffff 40.5px,#fffff2 41.5px,#ffffd6 42.5px,#f4f02c 44.5px,#f5ce1d 45.5px,#f8b21e 46.5px,#ffffff 47.5px,#ffffff 64.5px,#bb2557 65.5px,#f58c1f 66.5px,#f69c1f 67.5px,#f58c1f 68.5px,#ed3527 70.5px,#dc1e3c 90.5px,#78328c 92.5px,#5848a8 93.5px,#4558bb 106.5px,#5363c1 119.5px,#6672c8 120.5px,#b0b5e1 122.5px,#f7f7fc 126.5px,#ffffff 132.5px,#ffffff 220px)"></i>
<i style="background:linear-gradient(90deg,#fdfdfe 0px,#fbfbfe 5.5px,#dbdcf2 7.5px,#b8bbe4 8.5px,#7a85cf 9.5px,#5a68c4 10.5px,#4b5dbe 12.5px,#4e4eb0 13.5px,#723691 14.5px,#dc1f3b 16.5px,#e82b2e 17.5px,#f36d21 19.5px,#f69d1f 20.5px,#f6f243 21.5px,#ffffe5 22.5px,#ffffff 23.5px,#fffffa 39.5px,#ffffda 41.5px,#fdfba1 42.5px,#f8f44f 43.5px,#f4dc1d 44.5px,#f8b21e 45.5px,#f6991f 46.5px,#ffffff 47.5px,#ffffff 64.5px,#bb2557 65.5px,#f58c1f 66.5px,#f69c1f 67.5px,#f58c1f 68.5px,#ed3527 70.5px,#dc1e3c 90.5px,#5e43a2 93.5px,#4458bb 106.5px,#5665c2 120.5px,#b7bbe4 123.5px,#fafafd 127.5px,#ffffff 220px)"></i>
<i style="background:linear-gradient(90deg,#fefeff 0px,#fdfdfe 5.5px,#e3e3f5 7.5px,#c2c4e8 8.5px,#6976c9 10.5px,#4558bb 13.5px,#833084 15.5px,#e12435 17.5px,#ec3028 18.5px,#f47820 20.5px,#f5cd1d 21.5px,#fdf989 22.5px,#ffffff 23.5px,#fffffb 36.5px,#ffffd4 40.5px,#fefcaa 41.5px,#f3ef23 43.5px,#f7a31f 45.5px,#f58e1f 46.5px,#ffffff 47.5px,#ffffff 64.5px,#bb2557 65.5px,#f58c1f 66.5px,#f69c1f 67.5px,#f58c1f 68.5px,#ed3527 70.5px,#dc1e3c 90.5px,#be2454 91.5px,#653f9d 93.5px,#544aaa 95.5px,#4558bb 107.5px,#5061c0 120.5px,#5967c4 121.5px,#bdc0e6 124.5px,#f2f2fb 127.5px,#ffffff 130.5px,#ffffff 220px)"></i>
<i style="background:linear-gradient(90deg,#fefeff 0px,#f5f5fc 6.5px,#e9e9f8 7.5px,#7984cf 10.5px,#5565c2 12.5px,#4a50b3 14.5px,#932d77 16.5px,#d81f3f 17.5px,#ed3c27 19.5px,#f15e23 20.5px,#f6991f 21.5px,#f4f02a 22.5px,#ffffcd 23.5px,#ffffff 24.5px,#fffff9 33.5px,#ffffd2 38.5px,#fcf981 41.5px,#f2e91c 43.5px,#f69b1f 45.5px,#f58620 46.5px,#ffffff 47.5px,#ffffff 64.5px,#bb2557 65.5px,#f58520 66.5px,#f6941f 67.5px,#f58520 68.5px,#ed3527 70.5px,#dc1e3c 90.5px,#78328c 92.5px,#5848a8 93.5px,#4558bb 107.5px,#5564c2 121.5px,#6c78ca 122.5px,#b4b8e3 124.5px,#f8f8fd 128.5px,#ffffff 220px)"></i>
<i style="background:linear-gradient(90deg,#ffffff 0px,#f7f7fc 6.5px,#ededf9 7.5px,#b6bae4 9.5px,#8992d4 10.5px,#5c69c5 12.5px,#4759bc 14.5px,#5549aa 15.5px,#733590 16.5px,#df2238 18.5px,#ee4526 20.5px,#f26822 21.5px,#f7bf1e 22.5px,#f9f55f 23.5px,#ffffe5 24.5px,#ffffff 25.5px,#fffff7 30.5px,#ffffd1 35.5px,#fefdb5 37.5px,#fdfa90 40.5px,#f7f347 42.5px,#f3e21c 43.5px,#f6961f 45.5px,#f58120 46.5px,#ffffff 47.5px,#ffffff 64.5px,#bb2557 65.5px,#f47620 66.5px,#f58520 67.5px,#f47620 68.5px,#ef4b25 69.5px,#ec3528 70.5px,#dc1e3c 89.5px,#78328c 91.5px,#5848a8 92.5px,#4558bb 107.5px,#5363c1 121.5px,#6672c8 122.5px,#b0b5e1 124.5px,#f7f7fc 128.5px,#ffffff 134.5px,#ffffff 220px)"></i>
<i style="background:linear-gradient(90deg,#ffffff 0px,#f9f9fd 6.5px,#dcddf2 8.5px,#989fd9 10.5px,#5a68c4 13.5px,#4256ba 15.5px,#79328b 17.5px,#c5234e 18.5px,#e22534 19.5px,#eb2f29 20.5px,#ef4a25 21.5px,#f58d1f 22.5px,#f3df1c 23.5px,#fdf98a 24.5px,#fffff1 25.5px,#fffffc 26.5px,#fffecb 32.5px,#fefdb5 34.5px,#fdfa90 39.5px,#faf664 41.5px,#f5f13a 42.5px,#f4da1d 43.5px,#f6901f 45.5px,#f47c20 46.5px,#ffffff 47.5px,#ffffff 64.5px,#bb2557 65.5px,#f26722 66.5px,#f47620 67.5px,#f26722 68.5px,#ed3e27 69.5px,#e82c2c 75.5px,#dc1e3c 88.5px,#78328c 90.5px,#5848a8 91.5px,#4458bb 106.5px,#5161c0 121.5px,#5f6dc6 122.5px,#aaafdf 124.5px,#e9e9f8 127.5px,#ffffff 129.5px,#ffffff 220px)"></i>
<i style="background:linear-gradient(90deg,#ffffff 0px,#fafafd 6.5px,#e1e1f4 8.5px,#7f88d0 12.5px,#4a5cbd 15.5px,#4a51b3 16.5px,#63409e 17.5px,#952c75 18.5px,#dc1f3b 19.5px,#ec3228 21.5px,#f16023 22.5px,#f8ab1e 23.5px,#f4f02d 24.5px,#fefca7 25.5px,#ffffe3 26.5px,#fefcae 32.5px,#fcf87e 39.5px,#f8f456 41.5px,#f4f02d 42.5px,#f5d21d 43.5px,#f58a1f 45.5px,#f47720 46.5px,#ffffff 47.5px,#ffffff 64.5px,#bb2557 65.5px,#f15d23 66.5px,#f26522 67.5px,#ed3c27 69.5px,#e32633 80.5px,#dc1e3c 87.5px,#78328c 89.5px,#5848a8 90.5px,#4558bb 106.5px,#5061c0 121.5px,#5a68c4 122.5px,#a4a9dd 124.5px,#f3f3fb 128.5px,#ffffff 130.5px,#ffffff 220px)"></i>
<i style="background:linear-gradient(90deg,#ffffff 0px,#fafafd 6.5px,#e3e3f5 8.5px,#5e6cc6 14.5px,#4659bc 16.5px,#504dae 17.5px,#703893 18.5px,#b1275f 19.5px,#df2139 20.5px,#ed3627 22.5px,#f6c41d 24.5px,#f6f244 25.5px,#fefcac 26.5px,#fefdb7 27.5px,#fbf76f 39.5px,#f7f348 41.5px,#f2ee20 42.5px,#f58520 45.5px,#f37121 46.5px,#ffffff 47.5px,#ffffff 64.5px,#bb2557 65.5px,#f15d23 66.5px,#ec3128 71.5px,#dc1e3c 86.5px,#78328c 88.5px,#5848a8 89.5px,#4458bb 105.5px,#5867c3 122.5px,#bbbee6 125.5px,#f1f1fa 128.5px,#ffffff 131.5px,#ffffff 220px)"></i>
<i style="background:linear-gradient(90deg,#ffffff 0px,#f9f9fd 6.5px,#e4e5f6 8.5px,#6d79cb 14.5px,#5565c2 15.5px,#4356b9 17.5px,#5c45a4 18.5px,#8e2e7b 19.5px,#cf2147 20.5px,#e82c2c 22.5px,#f15b23 23.5px,#f4de1d 25.5px,#faf667 26.5px,#fdfba5 27.5px,#f9f560 39.5px,#f5f13a 41.5px,#f3e81c 42.5px,#f47f20 45.5px,#f26b22 46.5px,#ffffff 47.5px,#ffffff 64.5px,#bb2557 65.5px,#f15d23 66.5px,#ec3028 71.5px,#dc1e3c 85.5px,#78328c 87.5px,#5848a8 88.5px,#4558bb 105.5px,#5665c2 122.5px,#b8bbe4 125.5px,#fafafd 129.5px,#ffffff 220px)"></i>
<i style="background:linear-gradient(90deg,#ffffff 0px,#f9f9fd 6.5px,#e5e5f6 8.5px,#7681ce 14.5px,#5867c3 15.5px,#4559bb 17.5px,#504dae 18.5px,#77338d 19.5px,#b5265c 20.5px,#de2139 21.5px,#e52831 22.5px,#ee3f26 23.5px,#f7bd1e 25.5px,#f4f031 26.5px,#fdfa93 27.5px,#f8f451 39.5px,#f4f02c 41.5px,#f3df1c 42.5px,#f47920 45.5px,#f26522 46.5px,#ffffff 47.5px,#ffffff 64.5px,#bb2557 65.5px,#f15d23 66.5px,#ec3028 71.5px,#dc1e3c 83.5px,#78328c 85.5px,#5848a8 86.5px,#4558bb 104.5px,#5766c3 122.5px,#b9bce5 125.5px,#fbfbfe 129.5px,#ffffff 220px)"></i>
<i style="background:linear-gradient(90deg,#ffffff 0px,#f9f9fd 6.5px,#e5e6f6 8.5px,#a1a7dc 12.5px,#7f89d1 14.5px,#5e6bc5 15.5px,#4753b6 18.5px,#683c99 19.5px,#d81f3f 21.5px,#e92c2c 23.5px,#f4da1d 26.5px,#f9f559 27.5px,#fcf87c 28.5px,#f6f243 39.5px,#f2ee1f 41.5px,#f8b41e 43.5px,#f37321 45.5px,#f15f23 46.5px,#ffffff 47.5px,#ffffff 64.5px,#bb2557 65.5px,#f15d23 66.5px,#eb2f29 71.5px,#dc1e3c 80.5px,#78328c 82.5px,#5848a8 83.5px,#4458bb 102.5px,#5061c0 121.5px,#5967c4 122.5px,#bec1e7 125.5px,#f2f2fb 128.5px,#ffffff 131.5px,#ffffff 220px)"></i>
<i style="background:linear-gradient(90deg,#ffffff 0px,#f8f8fd 6.5px,#d2d3ee 9.5px,#868fd3 14.5px,#6672c8 15.5px,#4357ba 18.5px,#5d44a3 19.5px,#882f7f 20.5px,#c22351 21.5px,#df2238 22.5px,#e52930 23.5px,#ef4e25 24.5px,#f7c01e 26.5px,#f4f02c 27.5px,#fbf76c 28.5px,#f5f134 39.5px,#f3e71c 41.5px,#f36d21 45.5px,#f05a24 46.5px,#ffffff 47.5px,#ffffff 64.5px,#bb2557 65.5px,#ef4e25 66.5px,#e92d2c 70.5px,#d71f40 76.5px,#c22351 77.5px,#6a3b98 79.5px,#4c50b2 80.5px,#4659bc 95.5px,#5665c2 121.5px,#9199d7 123.5px,#b3b7e3 124.5px,#f6f6fc 128.5px,#ffffff 132.5px,#ffffff 220px)"></i>
<i style="background:linear-gradient(90deg,#ffffff 0px,#f7f7fc 6.5px,#d2d3ee 9.5px,#8a93d4 14.5px,#5665c3 16.5px,#4659bc 18.5px,#544aaa 19.5px,#78328c 20.5px,#dd1f3a 22.5px,#e32633 23.5px,#ed3d27 24.5px,#f3e11c 27.5px,#f9f55b 28.5px,#f3ef26 39.5px,#f4de1d 41.5px,#f7a51e 43.5px,#f16023 45.5px,#ef4b25 46.5px,#ffffff 47.5px,#ffffff 64.5px,#bb2557 65.5px,#ec3128 66.5px,#de203a 71.5px,#cd2148 72.5px,#6b3b97 75.5px,#4f4dae 76.5px,#495bbd 78.5px,#6370c7 120.5px,#707bcb 121.5px,#afb4e1 123.5px,#f0f0fa 127.5px,#ffffff 130.5px,#ffffff 220px)"></i>
<i style="background:linear-gradient(90deg,#ffffff 0px,#f7f7fc 6.5px,#d1d3ee 9.5px,#8f97d6 14.5px,#5867c3 16.5px,#485bbd 18.5px,#4c4fb2 19.5px,#9f2a6d 21.5px,#d42042 22.5px,#eb2f29 24.5px,#f5cb1d 27.5px,#f5f136 28.5px,#f7f34b 29.5px,#f2ed1c 39.5px,#f5d31d 41.5px,#f05424 45.5px,#ee3f26 46.5px,#ffffff 47.5px,#ffffff 64.5px,#bb2557 65.5px,#e42732 66.5px,#dd1f3b 69.5px,#c02452 70.5px,#6a3b98 72.5px,#514cad 73.5px,#4659bc 74.5px,#5463c1 77.5px,#6a76c9 104.5px,#828bd2 120.5px,#b6bae4 122.5px,#f7f7fc 127.5px,#ffffff 138.5px,#ffffff 220px)"></i>
<i style="background:linear-gradient(90deg,#ffffff 0px,#f6f6fc 6.5px,#d1d3ee 9.5px,#949bd8 14.5px,#5b69c4 16.5px,#4455b8 19.5px,#8e2e7a 21.5px,#c22351 22.5px,#df2139 23.5px,#e62a2f 24.5px,#f8b61e 27.5px,#f3e91c 28.5px,#f6f23e 29.5px,#f2eb1c 38.5px,#f6c61d 41.5px,#ef4c25 45.5px,#ed3827 46.5px,#ffffff 47.5px,#ffffff 64.5px,#bb2557 65.5px,#d81f3f 66.5px,#9d2b6e 69.5px,#78328c 70.5px,#5549aa 71.5px,#4659bc 72.5px,#6773c8 75.5px,#a0a6dc 119.5px,#dddef3 123.5px,#ffffff 127.5px,#ffffff 220px)"></i>
<i style="background:linear-gradient(90deg,#ffffff 0px,#f6f6fc 6.5px,#d2d3ee 9.5px,#99a0d9 14.5px,#626fc7 16.5px,#4558bb 19.5px,#7e3187 21.5px,#dd1f3b 23.5px,#e22534 24.5px,#ee4226 25.5px,#f5d31d 28.5px,#f4f031 29.5px,#f3e81c 36.5px,#f6c81d 40.5px,#f7a11f 42.5px,#ee4426 45.5px,#ec3128 46.5px,#ffffff 47.5px,#ffffff 64.5px,#992b71 65.5px,#63409e 69.5px,#4752b6 70.5px,#5060c0 72.5px,#616ec6 86.5px,#a6acde 97.5px,#b8bce4 118.5px,#f5f5fc 124.5px,#ffffff 131.5px,#ffffff 220px)"></i>
<i style="background:linear-gradient(90deg,#ffffff 0px,#f5f5fc 6.5px,#bbbee5 11.5px,#9da4db 14.5px,#5766c3 17.5px,#485bbd 19.5px,#534aab 20.5px,#9f2a6d 22.5px,#ce2147 23.5px,#e02237 24.5px,#ec3228 25.5px,#f2ee1c 29.5px,#f4dc1d 35.5px,#f7ba1e 40.5px,#f6961f 42.5px,#ed3c27 45.5px,#ea2e2a 46.5px,#ffffff 47.5px,#ffffff 64.5px,#5947a7 65.5px,#4256ba 69.5px,#5866c3 97.5px,#929ad7 106.5px,#c6c9ea 113.5px,#c8caeb 117.5px,#fdfdfe 124.5px,#ffffff 220px)"></i>
<i style="background:linear-gradient(90deg,#ffffff 0px,#f5f5fc 6.5px,#bdc0e6 11.5px,#a2a8dd 14.5px,#5967c4 17.5px,#4b50b2 20.5px,#8f2d7a 22.5px,#de203a 24.5px,#e92d2c 25.5px,#f4d81d 29.5px,#f4dd1d 31.5px,#f8ac1e 40.5px,#f58b1f 42.5px,#ec3428 45.5px,#e92c2c 46.5px,#ffffff 47.5px,#ffffff 64.5px,#4b50b2 65.5px,#485bbd 92.5px,#6370c7 109.5px,#7f89d1 114.5px,#d4d6ef 117.5px,#ededf9 119.5px,#fefeff 126.5px,#ffffff 220px)"></i>
<i style="background:linear-gradient(90deg,#ffffff 0px,#f6f6fc 6.5px,#d7d9f1 9.5px,#abb0e0 14.5px,#6370c7 17.5px,#4357ba 20.5px,#7a328b 22.5px,#d32044 24.5px,#e52831 25.5px,#ee4426 26.5px,#f7bf1e 29.5px,#f5cd1d 30.5px,#f79f1f 40.5px,#f48120 42.5px,#ec3028 45.5px,#e72b2e 46.5px,#ffffff 47.5px,#ffffff 64.5px,#4d4fb1 65.5px,#485abc 93.5px,#616fc7 112.5px,#6a76c9 114.5px,#858ed2 115.5px,#b4b8e3 116.5px,#e8e8f7 118.5px,#fcfcfe 123.5px,#ffffff 220px)"></i>
<i style="background:linear-gradient(90deg,#ffffff 0px,#f7f7fc 6.5px,#dcddf2 9.5px,#b4b8e3 14.5px,#5d6ac5 18.5px,#4a5cbd 20.5px,#4c50b2 21.5px,#872f80 23.5px,#e02237 25.5px,#ec3128 26.5px,#f7a71e 29.5px,#f7b81e 30.5px,#f6931f 40.5px,#f47720 42.5px,#eb2f29 45.5px,#e72a2e 46.5px,#ffffff 47.5px,#ffffff 64.5px,#4f4daf 65.5px,#475abc 92.5px,#616fc7 112.5px,#6a76c9 114.5px,#858ed2 115.5px,#b4b8e3 116.5px,#e8e8f7 118.5px,#fafafd 122.5px,#ffffff 220px)"></i>
<i style="background:linear-gradient(90deg,#ffffff 0px,#f3f3fb 7.5px,#c0c3e7 13.5px,#b0b4e1 15.5px,#5a68c4 19.5px,#4558bb 21.5px,#6f3894 23.5px,#912d78 24.5px,#d42042 25.5px,#e72a2f 26.5px,#f6911f 29.5px,#f7a41e 30.5px,#f58620 40.5px,#f05624 43.5px,#ea2e2a 45.5px,#e62a2f 46.5px,#ffffff 47.5px,#ffffff 64.5px,#7d3188 65.5px,#4b50b2 72.5px,#485bbd 92.5px,#6370c7 109.5px,#7f89d1 114.5px,#d4d6ef 117.5px,#ebebf8 118.5px,#f9f9fd 125.5px,#ffffff 220px)"></i>
<i style="background:linear-gradient(90deg,#ffffff 0px,#f4f4fb 7.5px,#c5c8ea 13.5px,#a9aedf 16.5px,#5665c3 20.5px,#4455b8 22.5px,#743590 24.5px,#e22435 26.5px,#ec3228 27.5px,#f47c20 29.5px,#f6921f 30.5px,#f47a20 40.5px,#ef4e25 43.5px,#e92d2c 45.5px,#e62930 46.5px,#ffffff 47.5px,#ffffff 64.5px,#bb2557 65.5px,#ac2862 67.5px,#693c99 73.5px,#4357bb 79.5px,#5f6cc6 99.5px,#e5e5f6 116.5px,#f5f5fc 123.5px,#ffffff 209.5px,#ffffff 220px)"></i>
<i style="background:linear-gradient(90deg,#ffffff 0px,#f7f7fc 7.5px,#b6b9e3 16.5px,#5363c1 21.5px,#4951b4 23.5px,#813085 25.5px,#dd1f3b 26.5px,#ee4326 28.5px,#f48020 30.5px,#f36d21 40.5px,#ee4626 43.5px,#e82c2d 45.5px,#e52831 46.5px,#ffffff 47.5px,#ffffff 64.5px,#bb2557 65.5px,#e12336 66.5px,#dc1e3c 69.5px,#6e3995 78.5px,#4357bb 84.5px,#5e6cc6 96.5px,#bcc0e6 107.5px,#e8e8f7 117.5px,#ffffff 154.5px,#ffffff 220px)"></i>
<i style="background:linear-gradient(90deg,#ffffff 0px,#f5f5fc 8.5px,#b6b9e3 17.5px,#7f89d1 20.5px,#5c6ac5 21.5px,#475abc 23.5px,#4b50b2 24.5px,#62409e 25.5px,#b5265b 26.5px,#e22535 27.5px,#ec3028 28.5px,#f36d21 30.5px,#f05924 41.5px,#eb2f29 44.5px,#e42732 46.5px,#ffffff 47.5px,#ffffff 64.5px,#bb2557 65.5px,#ea2d2b 66.5px,#da1e3d 75.5px,#713792 83.5px,#4256ba 89.5px,#626fc7 98.5px,#b9bce5 108.5px,#eeeef9 126.5px,#ffffff 165.5px,#ffffff 220px)"></i>
<i style="background:linear-gradient(90deg,#ffffff 0px,#f8f8fd 8.5px,#b6bae4 18.5px,#969ed9 20.5px,#5967c4 22.5px,#475abc 24.5px,#4c4fb2 25.5px,#892f7e 26.5px,#dd1f3b 27.5px,#ee3e26 29.5px,#f05924 30.5px,#ef4c25 41.5px,#e62930 45.5px,#e32633 46.5px,#ffffff 47.5px,#ffffff 64.5px,#bb2557 65.5px,#ef4825 66.5px,#e72b2e 73.5px,#dc1f3b 80.5px,#6c3a97 89.5px,#4357ba 95.5px,#5f6cc6 103.5px,#b7bae4 113.5px,#eeeef9 131.5px,#ffffff 165.5px,#ffffff 220px)"></i>
<i style="background:linear-gradient(90deg,#ffffff 0px,#f7f7fc 9.5px,#bfc2e7 18.5px,#a8addf 20.5px,#5766c3 23.5px,#4659bb 25.5px,#6a3b98 26.5px,#ba2557 27.5px,#e22435 28.5px,#ee4726 30.5px,#ee3f26 41.5px,#e22535 46.5px,#ffffff 47.5px,#ffffff 64.5px,#bb2557 65.5px,#f26822 66.5px,#e82c2d 78.5px,#d61f41 86.5px,#713792 94.5px,#4455b9 100.5px,#6672c8 109.5px,#b9bde5 119.5px,#efeffa 137.5px,#ffffff 168.5px,#ffffff 220px)"></i>
<i style="background:linear-gradient(90deg,#ffffff 0px,#f5f5fc 10.5px,#bdc1e6 19.5px,#a2a8dd 21.5px,#6471c8 23.5px,#4c5ebe 25.5px,#5549aa 26.5px,#972c74 27.5px,#de203a 28.5px,#ed3827 30.5px,#ea2e2a 42.5px,#e02238 46.5px,#ffffff 47.5px,#ffffff 64.5px,#bb2557 65.5px,#f58720 66.5px,#e82c2c 83.5px,#db1e3d 91.5px,#6e3995 100.5px,#4357bb 106.5px,#5f6dc6 114.5px,#b7bbe4 124.5px,#f3f3fb 143.5px,#ffffff 182.5px,#ffffff 220px)"></i>
<i style="background:linear-gradient(90deg,#ffffff 0px,#f8f8fd 10.5px,#c5c8e9 19.5px,#b4b8e3 21.5px,#5c6ac5 24.5px,#4357ba 26.5px,#75348e 27.5px,#c5234e 28.5px,#e22534 29.5px,#ea2d2b 32.5px,#e12336 44.5px,#dd1f3b 46.5px,#ffffff 47.5px,#ffffff 64.5px,#bb2557 65.5px,#f7a31f 66.5px,#ea2e2a 87.5px,#d51f41 97.5px,#713792 105.5px,#4356ba 111.5px,#6370c7 120.5px,#babde5 130.5px,#f2f2fb 146.5px,#ffffff 181.5px,#ffffff 220px)"></i>
<i style="background:linear-gradient(90deg,#ffffff 0px,#f9f9fd 11.5px,#d0d2ee 19.5px,#c5c8ea 20.5px,#6672c8 22.5px,#485bbd 24.5px,#4256ba 25.5px,#504cae 27.5px,#77338d 28.5px,#c4234f 29.5px,#e22435 30.5px,#e02337 43.5px,#cf2146 46.5px,#ffffff 47.5px,#ffffff 64.5px,#bb2557 65.5px,#f7bf1e 66.5px,#ea2e2a 92.5px,#da1e3e 102.5px,#743590 110.5px,#4357ba 117.5px,#5d6bc5 125.5px,#b8bbe4 135.5px,#f0f0fa 148.5px,#ffffff 176.5px,#ffffff 220px)"></i>
<i style="background:linear-gradient(90deg,#ffffff 0px,#f6f6fc 13.5px,#e2e2f5 18.5px,#c8cbeb 19.5px,#9da3db 20.5px,#626fc7 21.5px,#4659bc 23.5px,#6141a0 29.5px,#de203a 31.5px,#de203a 43.5px,#bf2454 46.5px,#ffffff 47.5px,#ffffff 64.5px,#bb2557 65.5px,#f4d81d 66.5px,#eb2f2a 97.5px,#db1e3d 107.5px,#713792 116.5px,#4457bb 123.5px,#626fc7 131.5px,#c1c4e8 141.5px,#f1f1fa 152.5px,#ffffff 180.5px,#ffffff 220px)"></i>
<i style="background:linear-gradient(90deg,#ffffff 0px,#f9f9fd 14.5px,#e7e7f7 18.5px,#9da3db 20.5px,#626fc7 21.5px,#4659bc 23.5px,#5748a8 29.5px,#5848a8 30.5px,#843082 31.5px,#cd2148 32.5px,#e02237 33.5px,#dc1e3c 43.5px,#b6265a 46.5px,#ffffff 47.5px,#ffffff 64.5px,#bb2557 65.5px,#f2ed1c 66.5px,#ef4f25 95.5px,#e72b2e 104.5px,#d32043 113.5px,#6e3995 122.5px,#4256ba 128.5px,#5e6bc5 136.5px,#bcbfe6 144.5px,#f0f0fa 155.5px,#ffffff 178.5px,#ffffff 220px)"></i>
<i style="background:linear-gradient(90deg,#ffffff 0px,#f6f6fc 16.5px,#e3e3f5 19.5px,#9ca2da 21.5px,#6672c8 22.5px,#485bbd 24.5px,#4256ba 25.5px,#5649a9 30.5px,#5748a8 31.5px,#6e3894 32.5px,#b1275f 33.5px,#de203a 34.5px,#d91f3e 42.5px,#ad2762 46.5px,#ffffff 47.5px,#ffffff 64.5px,#bb2557 65.5px,#f5f135 66.5px,#f2e91c 70.5px,#ee4226 102.5px,#e42731 111.5px,#d71f40 118.5px,#6a3c98 128.5px,#4457bb 134.5px,#5a68c4 140.5px,#b7bae4 147.5px,#eeeef9 158.5px,#ffffff 175.5px,#ffffff 220px)"></i>
<i style="background:linear-gradient(90deg,#ffffff 0px,#f3f3fb 18.5px,#e0e0f4 21.5px,#a8addf 23.5px,#5967c3 25.5px,#4454b8 30.5px,#4852b5 32.5px,#5d44a3 33.5px,#d61f41 35.5px,#c8224c 42.5px,#a32969 46.5px,#ffffff 47.5px,#ffffff 64.5px,#bb2557 65.5px,#f7f347 66.5px,#f2ec1c 72.5px,#ee4726 105.5px,#e82c2d 113.5px,#d91f3f 123.5px,#6b3a97 133.5px,#4355b9 138.5px,#5c6ac5 144.5px,#b9bce5 151.5px,#efeffa 162.5px,#ffffff 173.5px,#ffffff 220px)"></i>
<i style="background:linear-gradient(90deg,#ffffff 0px,#f0f0fa 19.5px,#e4e4f6 21.5px,#a6acde 24.5px,#6b77ca 26.5px,#5161c0 28.5px,#4256ba 34.5px,#8d2e7b 36.5px,#823084 42.5px,#6c3a96 46.5px,#ffffff 47.5px,#ffffff 64.5px,#bb2557 65.5px,#f8f451 66.5px,#f2ea1c 74.5px,#ee4026 110.5px,#e42732 121.5px,#d61f41 128.5px,#673d9a 138.5px,#4356ba 142.5px,#606ec6 148.5px,#b4b8e3 154.5px,#fefeff 168.5px,#ffffff 220px)"></i>
<i style="background:linear-gradient(90deg,#ffffff 0px,#f2f2fb 17.5px,#e1e2f4 20.5px,#b6bae4 22.5px,#5565c2 25.5px,#495bbd 26.5px,#4c4fb1 27.5px,#7f3187 30.5px,#872f80 32.5px,#61419f 35.5px,#4c4fb1 36.5px,#485bbd 38.5px,#5061c0 46.5px,#ffffff 47.5px,#ffffff 64.5px,#bb2557 65.5px,#f8f451 66.5px,#f3e91c 75.5px,#f05124 109.5px,#e72b2e 122.5px,#d91f3e 132.5px,#62419f 142.5px,#4558bb 146.5px,#5a68c4 151.5px,#b4b8e3 158.5px,#e4e4f6 164.5px,#ffffff 169.5px,#ffffff 220px)"></i>
<i style="background:linear-gradient(90deg,#ffffff 0px,#f2f2fb 16.5px,#e2e2f5 19.5px,#b3b7e2 21.5px,#626fc7 23.5px,#4d5ebf 24.5px,#4d4fb1 25.5px,#902d79 27.5px,#cb214a 29.5px,#db1e3d 30.5px,#db1e3d 33.5px,#b2265e 35.5px,#6c3a96 37.5px,#4d4fb1 38.5px,#4d5ebe 40.5px,#5866c3 45.5px,#5866c3 46.5px,#ffffff 47.5px,#ffffff 64.5px,#bb2557 65.5px,#f7f349 66.5px,#f2ea1c 74.5px,#f05824 109.5px,#e82c2d 124.5px,#dc1e3c 135.5px,#62419f 145.5px,#4458bb 149.5px,#606dc6 155.5px,#f5f5fc 167.5px,#ffffff 173.5px,#ffffff 220px)"></i>
<i style="background:linear-gradient(90deg,#ffffff 0px,#f4f4fb 15.5px,#e7e7f7 18.5px,#b6b9e3 20.5px,#606dc6 22.5px,#4a5cbd 23.5px,#5a46a6 24.5px,#b6265b 26.5px,#dc1e3c 27.5px,#e22534 34.5px,#dc1e3c 36.5px,#833083 38.5px,#5a46a6 39.5px,#4558bb 40.5px,#4c5ebe 46.5px,#ffffff 47.5px,#ffffff 64.5px,#bb2557 65.5px,#f5f138 66.5px,#f2e91c 72.5px,#f05624 110.5px,#e82c2d 126.5px,#dc1f3b 137.5px,#663e9c 147.5px,#4356ba 151.5px,#5b69c4 158.5px,#8b94d5 162.5px,#e5e5f6 166.5px,#ffffff 169.5px,#ffffff 220px)"></i>
<i style="background:linear-gradient(90deg,#ffffff 0px,#f3f3fb 15.5px,#ececf9 17.5px,#bec1e7 19.5px,#6773c8 21.5px,#4c5ebe 22.5px,#5947a6 23.5px,#c6224e 25.5px,#df2138 26.5px,#e92d2b 33.5px,#df2138 37.5px,#c6224e 38.5px,#5947a6 40.5px,#4458bb 41.5px,#475abc 46.5px,#ffffff 47.5px,#ffffff 64.5px,#bb2557 65.5px,#f2ee1f 66.5px,#ee4426 115.5px,#e52831 130.5px,#dc1e3c 138.5px,#6a3b98 148.5px,#4356ba 153.5px,#5d6bc5 161.5px,#6975c9 162.5px,#848dd2 163.5px,#aeb2e1 164.5px,#eeeef9 167.5px,#ffffff 170.5px,#ffffff 220px)"></i>
<i style="background:linear-gradient(90deg,#ffffff 0px,#f3f3fb 15.5px,#e4e5f6 17.5px,#abb0e0 19.5px,#7883ce 20.5px,#5463c1 21.5px,#4b50b2 22.5px,#7d3188 23.5px,#c02452 24.5px,#df2238 25.5px,#ec3428 32.5px,#df2238 38.5px,#c02452 39.5px,#7d3188 40.5px,#4b50b2 41.5px,#475abc 45.5px,#475abc 46.5px,#ffffff 47.5px,#ffffff 64.5px,#bb2557 65.5px,#f4db1d 66.5px,#ed3627 117.5px,#d91f3e 138.5px,#6c3a96 148.5px,#4357bb 154.5px,#5967c4 162.5px,#727dcc 163.5px,#bfc2e7 165.5px,#f9f9fd 168.5px,#ffffff 220px)"></i>
<i style="background:linear-gradient(90deg,#ffffff 0px,#f3f3fb 15.5px,#efeffa 16.5px,#bfc2e7 18.5px,#626fc7 20.5px,#4a5cbd 21.5px,#643f9d 22.5px,#dd1f3b 24.5px,#ed3727 29.5px,#eb2e2a 36.5px,#dd1f3b 39.5px,#643f9d 41.5px,#4256ba 42.5px,#475abc 46.5px,#ffffff 47.5px,#ffffff 64.5px,#bb2557 65.5px,#f6c31d 66.5px,#eb2f29 115.5px,#d81f3f 136.5px,#6a3b98 147.5px,#4357bb 153.5px,#5a68c4 162.5px,#737ecd 163.5px,#bfc2e7 165.5px,#f8f8fd 168.5px,#ffffff 220px)"></i>
<i style="background:linear-gradient(90deg,#ffffff 0px,#f3f3fb 15.5px,#ececf9 16.5px,#b7bbe4 18.5px,#5867c3 20.5px,#4357ba 21.5px,#75348e 22.5px,#bf2453 23.5px,#e02237 24.5px,#ed3a27 29.5px,#ec3128 36.5px,#e02237 39.5px,#bf2453 40.5px,#75348e 41.5px,#4653b6 42.5px,#475abc 46.5px,#ffffff 47.5px,#ffffff 64.5px,#bb2557 65.5px,#f7a81e 66.5px,#ea2d2b 109.5px,#d42042 131.5px,#8b2e7d 140.5px,#4256ba 150.5px,#5f6dc6 160.5px,#707bcb 162.5px,#8891d4 163.5px,#afb4e1 164.5px,#f9f9fd 168.5px,#ffffff 220px)"></i>
<i style="background:linear-gradient(90deg,#ffffff 0px,#f3f3fb 15.5px,#eaeaf8 16.5px,#b2b6e2 18.5px,#7a85cf 19.5px,#5665c2 20.5px,#4852b5 21.5px,#813085 22.5px,#cd2148 23.5px,#e12436 24.5px,#ed3c27 30.5px,#ea2e2a 37.5px,#e12436 39.5px,#cd2148 40.5px,#813085 41.5px,#4951b4 42.5px,#475abc 46.5px,#ffffff 47.5px,#ffffff 64.5px,#bb2557 65.5px,#f58c1f 66.5px,#ea2e2a 100.5px,#d61f41 122.5px,#673e9b 140.5px,#4357ba 146.5px,#6673c8 156.5px,#969dd8 162.5px,#f0f0fa 167.5px,#ffffff 170.5px,#ffffff 220px)"></i>
<i style="background:linear-gradient(90deg,#ffffff 0px,#f3f3fb 15.5px,#e9e9f7 16.5px,#aeb3e1 18.5px,#7782ce 19.5px,#5564c2 20.5px,#4852b5 21.5px,#813085 22.5px,#cd2148 23.5px,#e12436 24.5px,#ed3c27 30.5px,#ea2e2a 37.5px,#e12436 39.5px,#cd2148 40.5px,#813085 41.5px,#4a51b4 42.5px,#475abc 46.5px,#ffffff 47.5px,#ffffff 64.5px,#bb2557 65.5px,#f36d21 66.5px,#e92d2c 91.5px,#d42042 111.5px,#693c99 132.5px,#4457bb 141.5px,#616ec6 150.5px,#b7bbe4 161.5px,#d2d4ef 164.5px,#fbfbfe 168.5px,#ffffff 220px)"></i>
<i style="background:linear-gradient(90deg,#ffffff 0px,#f3f3fb 15.5px,#eaeaf8 16.5px,#b2b6e2 18.5px,#7a85cf 19.5px,#5665c2 20.5px,#4357ba 21.5px,#75348e 22.5px,#bf2453 23.5px,#e02237 24.5px,#ed3a27 29.5px,#ec3128 36.5px,#e02237 39.5px,#bf2453 40.5px,#75348e 41.5px,#4951b4 42.5px,#475abc 46.5px,#ffffff 47.5px,#ffffff 64.5px,#bb2557 65.5px,#ef4d25 66.5px,#e62a2f 84.5px,#d51f42 100.5px,#74348f 117.5px,#4357bb 133.5px,#5f6cc6 144.5px,#b5b9e3 154.5px,#dadbf2 163.5px,#ffffff 169.5px,#ffffff 220px)"></i>
<i style="background:linear-gradient(90deg,#ffffff 0px,#f3f3fb 15.5px,#ececf9 16.5px,#b7bbe4 18.5px,#5867c3 20.5px,#4a5cbd 21.5px,#643f9d 22.5px,#dd1f3b 24.5px,#ed3727 29.5px,#eb2e2a 36.5px,#dd1f3b 39.5px,#643f9d 41.5px,#4653b6 42.5px,#475abc 46.5px,#ffffff 47.5px,#ffffff 64.5px,#bb2557 65.5px,#eb2f29 66.5px,#da1e3e 87.5px,#673d9a 108.5px,#4457bb 121.5px,#626fc7 138.5px,#b9bce5 149.5px,#ffffff 170.5px,#ffffff 220px)"></i>
<i style="background:linear-gradient(90deg,#ffffff 0px,#f3f3fb 15.5px,#efeffa 16.5px,#bfc2e7 18.5px,#626fc7 20.5px,#4b50b2 22.5px,#7d3188 23.5px,#c02452 24.5px,#df2238 25.5px,#ec3428 32.5px,#df2238 38.5px,#c02452 39.5px,#7d3188 40.5px,#4b50b2 41.5px,#475abc 43.5px,#475abc 46.5px,#ffffff 47.5px,#ffffff 64.5px,#bb2557 65.5px,#e22534 66.5px,#d81f3f 76.5px,#723691 93.5px,#4457bb 108.5px,#6370c7 127.5px,#a8adde 140.5px,#ececf9 158.5px,#ffffff 174.5px,#ffffff 220px)"></i>
<i style="background:linear-gradient(90deg,#ffffff 0px,#f3f3fb 15.5px,#e4e5f6 17.5px,#abb0e0 19.5px,#7883ce 20.5px,#5665c2 21.5px,#4c5ebe 22.5px,#5947a6 23.5px,#c6224e 25.5px,#df2138 26.5px,#e92d2b 33.5px,#df2138 37.5px,#c6224e 38.5px,#5947a6 40.5px,#4554b7 41.5px,#475abc 46.5px,#ffffff 47.5px,#ffffff 64.5px,#bb2557 65.5px,#c5234f 66.5px,#63409e 85.5px,#4457bb 96.5px,#626fc7 114.5px,#bbbfe6 137.5px,#f1f1fa 156.5px,#ffffff 180.5px,#ffffff 220px)"></i>
<i style="background:linear-gradient(90deg,#ffffff 0px,#f3f3fb 15.5px,#ececf9 17.5px,#bec1e7 19.5px,#6773c8 21.5px,#4a5cbd 23.5px,#5a46a6 24.5px,#b6265b 26.5px,#dc1e3c 27.5px,#e22534 34.5px,#dc1e3c 36.5px,#833083 38.5px,#5a46a6 39.5px,#4653b7 40.5px,#475abc 46.5px,#ffffff 47.5px,#ffffff 64.5px,#803085 65.5px,#4458bb 84.5px,#6370c7 117.5px,#ced0ed 141.5px,#e5e6f6 144.5px,#ffffff 174.5px,#ffffff 220px)"></i>
<i style="background:linear-gradient(90deg,#ffffff 0px,#f3f3fb 15.5px,#e7e7f7 18.5px,#b6b9e3 20.5px,#606dc6 22.5px,#4b5cbe 24.5px,#4d4fb1 25.5px,#902d79 27.5px,#cb214a 29.5px,#db1e3d 30.5px,#db1e3d 33.5px,#b2265e 35.5px,#6c3a96 37.5px,#4d4fb1 38.5px,#475abc 41.5px,#475abc 46.5px,#ffffff 47.5px,#ffffff 64.5px,#5e43a2 65.5px,#4256ba 70.5px,#5967c4 128.5px,#7c86d0 140.5px,#d3d4ef 143.5px,#ebebf8 144.5px,#ffffff 171.5px,#ffffff 220px)"></i>
<i style="background:linear-gradient(90deg,#ffffff 0px,#f3f3fb 15.5px,#e1e1f4 19.5px,#b3b7e2 21.5px,#626fc7 23.5px,#485abc 26.5px,#4c4fb1 27.5px,#7f3187 30.5px,#872f80 32.5px,#61419f 35.5px,#4455b8 37.5px,#475abc 46.5px,#ffffff 47.5px,#ffffff 64.5px,#882f7f 65.5px,#4256ba 73.5px,#5c6ac5 134.5px,#6b77ca 140.5px,#848ed2 141.5px,#b4b8e3 142.5px,#e8e8f7 144.5px,#f6f6fc 146.5px,#ffffff 220px)"></i>
<i style="background:linear-gradient(90deg,#ffffff 0px,#f3f3fb 15.5px,#dadcf2 20.5px,#b6bae4 22.5px,#6f7bcb 24.5px,#5866c3 25.5px,#4256ba 32.5px,#475abc 46.5px,#ffffff 47.5px,#ffffff 64.5px,#bb2557 65.5px,#5b45a4 74.5px,#4256ba 78.5px,#616ec6 136.5px,#6b77ca 140.5px,#848ed2 141.5px,#b4b8e3 142.5px,#e8e8f7 144.5px,#fafafd 146.5px,#ffffff 220px)"></i>
<i style="background:linear-gradient(90deg,#ffffff 0px,#f3f3fb 15.5px,#d0d2ee 22.5px,#a6acde 24.5px,#6b77ca 26.5px,#5967c3 27.5px,#4c5ebe 34.5px,#475abc 46.5px,#ffffff 47.5px,#ffffff 64.5px,#df2238 65.5px,#d32043 68.5px,#6f3894 76.5px,#4458bb 82.5px,#616ec6 130.5px,#7c86d0 140.5px,#d3d4ef 143.5px,#f8f8fd 145.5px,#ffffff 220px)"></i>
<i style="background:linear-gradient(90deg,#ffffff 0px,#f3f3fb 15.5px,#bcbfe6 25.5px,#6e7acb 29.5px,#5968c4 32.5px,#5d6bc5 35.5px,#475abc 38.5px,#475abc 46.5px,#ffffff 47.5px,#ffffff 64.5px,#e62930 65.5px,#d81f3f 72.5px,#693c99 81.5px,#4357ba 86.5px,#5463c1 95.5px,#6774c9 110.5px,#ced0ed 141.5px,#fbfbfe 145.5px,#ffffff 220px)"></i>
<i style="background:linear-gradient(90deg,#ffffff 0px,#efeffa 16.5px,#acb1e0 29.5px,#717dcc 34.5px,#5363c1 36.5px,#475abc 40.5px,#475abc 46.5px,#ffffff 47.5px,#ffffff 64.5px,#eb2f29 65.5px,#dc1e3c 76.5px,#6c3a96 85.5px,#4357ba 90.5px,#5f6dc6 96.5px,#b8bbe4 103.5px,#f8f8fd 141.5px,#ffffff 220px)"></i>
<i style="background:linear-gradient(90deg,#ffffff 0px,#ececf9 17.5px,#acb1e0 29.5px,#717dcc 34.5px,#5363c1 36.5px,#475abc 40.5px,#475abc 46.5px,#ffffff 47.5px,#ffffff 64.5px,#ee4126 65.5px,#e32633 75.5px,#d32043 81.5px,#643f9d 90.5px,#4458bb 94.5px,#6572c8 100.5px,#b5b9e3 106.5px,#ececf9 120.5px,#ffffff 157.5px,#ffffff 220px)"></i>
<i style="background:linear-gradient(90deg,#ffffff 0px,#e7e7f7 18.5px,#acb1e0 29.5px,#717dcc 34.5px,#5363c1 36.5px,#475abc 40.5px,#475abc 46.5px,#ffffff 47.5px,#ffffff 64.5px,#f05224 65.5px,#e82b2d 76.5px,#d61f41 85.5px,#61419f 94.5px,#4455b8 97.5px,#5c6ac5 103.5px,#afb3e1 109.5px,#ededf9 125.5px,#ffffff 161.5px,#ffffff 220px)"></i>
<i style="background:linear-gradient(90deg,#ffffff 0px,#e6e6f6 15.5px,#d5d6f0 21.5px,#acb1e0 29.5px,#717dcc 34.5px,#5363c1 36.5px,#475abc 40.5px,#475abc 46.5px,#ffffff 47.5px,#ffffff 64.5px,#f16123 65.5px,#e82b2d 80.5px,#d81f3f 89.5px,#683d99 97.5px,#4256ba 101.5px,#616ec6 107.5px,#b6bae4 115.5px,#ededf9 130.5px,#ffffff 163.5px,#ffffff 220px)"></i>
<i style="background:linear-gradient(90deg,#ffffff 0px,#ececf9 11.5px,#ccceec 18.5px,#c5c8ea 22.5px,#acb1e0 29.5px,#717dcc 34.5px,#5363c1 36.5px,#475abc 40.5px,#475abc 46.5px,#ffffff 47.5px,#ffffff 64.5px,#f26c22 65.5px,#e82b2e 84.5px,#dd1f3b 92.5px,#653f9c 101.5px,#4457bb 105.5px,#6874c9 112.5px,#b7bae4 120.5px,#eeeef9 136.5px,#ffffff 167.5px,#ffffff 220px)"></i>
<i style="background:linear-gradient(90deg,#ffffff 0px,#ececf9 10.5px,#afb3e1 18.5px,#b3b7e2 21.5px,#8f97d6 26.5px,#959cd8 31.5px,#5363c1 36.5px,#475abc 40.5px,#475abc 46.5px,#ffffff 47.5px,#ffffff 64.5px,#f37421 65.5px,#e82c2c 87.5px,#da1e3e 96.5px,#6c3a96 104.5px,#4554b8 108.5px,#5e6cc5 116.5px,#b7bbe4 125.5px,#f1f1fa 142.5px,#ffffff 176.5px,#ffffff 220px)"></i>
<i style="background:linear-gradient(90deg,#ffffff 0px,#ececf9 9.5px,#b3b6e2 14.5px,#7984cf 17.5px,#6e7acb 20.5px,#7b85cf 22.5px,#626fc7 27.5px,#7d87d0 33.5px,#5363c1 36.5px,#475abc 40.5px,#475abc 46.5px,#ffffff 47.5px,#ffffff 64.5px,#f47820 65.5px,#e72b2e 91.5px,#dc1e3c 99.5px,#683c99 108.5px,#4256ba 113.5px,#616ec6 121.5px,#b6bae4 130.5px,#f1f1fa 146.5px,#ffffff 178.5px,#ffffff 220px)"></i>
<i style="background:linear-gradient(90deg,#ffffff 0px,#efeffa 8.5px,#bdc0e6 12.5px,#6774c8 15.5px,#5060c0 17.5px,#4f60c0 22.5px,#5e6bc5 33.5px,#6b77ca 34.5px,#475abc 38.5px,#475abc 46.5px,#ffffff 47.5px,#ffffff 64.5px,#f47820 65.5px,#e62930 95.5px,#d51f41 103.5px,#723691 111.5px,#4357bb 118.5px,#616ec6 126.5px,#b6bae3 135.5px,#efeffa 149.5px,#ffffff 174.5px,#ffffff 220px)"></i>
<i style="background:linear-gradient(90deg,#ffffff 0px,#ececf9 8.5px,#c1c4e8 11.5px,#a9aedf 12.5px,#5967c4 14.5px,#4457bb 16.5px,#6b3b97 19.5px,#6141a0 22.5px,#4457bb 24.5px,#5967c3 35.5px,#475abc 39.5px,#475abc 46.5px,#ffffff 47.5px,#ffffff 64.5px,#f37521 65.5px,#e52831 98.5px,#d61f41 106.5px,#6d3995 116.5px,#4256ba 122.5px,#606dc6 131.5px,#bcbfe6 141.5px,#efeffa 153.5px,#ffffff 172.5px,#ffffff 220px)"></i>
<i style="background:linear-gradient(90deg,#ffffff 0px,#eaeaf8 8.5px,#b6bae4 11.5px,#5c69c5 13.5px,#4b50b3 15.5px,#aa2864 18.5px,#cd2148 20.5px,#c02453 22.5px,#663e9c 25.5px,#4752b5 26.5px,#5363c1 36.5px,#475abc 40.5px,#475abc 46.5px,#ffffff 47.5px,#ffffff 64.5px,#f36d21 65.5px,#e42732 101.5px,#dc1e3c 108.5px,#663e9b 121.5px,#4357ba 127.5px,#606dc6 136.5px,#b9bde5 145.5px,#efeffa 157.5px,#ffffff 170.5px,#ffffff 220px)"></i>
<i style="background:linear-gradient(90deg,#ffffff 0px,#f0f0fa 7.5px,#c5c7e9 10.5px,#a8addf 11.5px,#747fcd 12.5px,#5161c0 13.5px,#4653b7 14.5px,#a02a6c 16.5px,#d51f42 17.5px,#e62a2f 21.5px,#df2238 24.5px,#cb214a 25.5px,#653f9c 27.5px,#4852b5 28.5px,#495bbd 35.5px,#475abc 46.5px,#ffffff 47.5px,#ffffff 64.5px,#f16223 65.5px,#e42633 102.5px,#d51f41 111.5px,#653f9c 125.5px,#4457bb 132.5px,#6370c7 141.5px,#b7bbe4 149.5px,#fefeff 164.5px,#ffffff 220px)"></i>
<i style="background:linear-gradient(90deg,#ffffff 0px,#efeffa 7.5px,#d6d7f0 9.5px,#c0c3e8 10.5px,#9ba2da 11.5px,#606dc6 12.5px,#4a5cbd 13.5px,#5d44a3 14.5px,#db1e3d 16.5px,#ee4126 20.5px,#ee3e26 23.5px,#e12336 26.5px,#c6224d 27.5px,#803086 28.5px,#504dae 29.5px,#4458bb 35.5px,#475abc 46.5px,#ffffff 47.5px,#ffffff 64.5px,#f05424 65.5px,#e12435 104.5px,#d51f41 112.5px,#6d3996 127.5px,#4357ba 136.5px,#5f6cc6 145.5px,#bbbee6 154.5px,#dbdcf2 159.5px,#fdfdfe 164.5px,#ffffff 220px)"></i>
<i style="background:linear-gradient(90deg,#ffffff 0px,#f2f2fb 6.5px,#cbcdec 9.5px,#b8bce4 10.5px,#939bd7 11.5px,#5867c3 12.5px,#4458bb 13.5px,#6f3894 14.5px,#bb2556 15.5px,#e12436 16.5px,#ee4026 18.5px,#f36e21 21.5px,#f15f23 24.5px,#e6292f 27.5px,#de203a 28.5px,#9a2b71 29.5px,#5b46a5 30.5px,#4356ba 36.5px,#475abc 46.5px,#ffffff 47.5px,#ffffff 64.5px,#ee4326 65.5px,#dc1e3c 109.5px,#673d9b 131.5px,#4457bb 140.5px,#5d6bc5 149.5px,#d5d7f0 160.5px,#fcfcfe 164.5px,#ffffff 220px)"></i>
<i style="background:linear-gradient(90deg,#ffffff 0px,#eeeef9 6.5px,#bec1e7 9.5px,#828bd2 11.5px,#5765c3 12.5px,#4455b8 13.5px,#7b3189 14.5px,#d51f42 15.5px,#ed3827 17.5px,#f58320 20.5px,#f6921f 23.5px,#f47b20 25.5px,#ea2d2b 28.5px,#e02337 29.5px,#a72966 30.5px,#5e43a2 31.5px,#4f4eaf 34.5px,#4558bb 38.5px,#475abc 46.5px,#ffffff 47.5px,#ffffff 64.5px,#ec3028 65.5px,#d71f40 105.5px,#6d3995 130.5px,#4457bb 143.5px,#5e6cc6 153.5px,#9199d7 158.5px,#e8e8f7 162.5px,#ffffff 165.5px,#ffffff 220px)"></i>
<i style="background:linear-gradient(90deg,#ffffff 0px,#eaeaf8 6.5px,#b2b6e2 9.5px,#6c78ca 11.5px,#4455b8 13.5px,#803085 14.5px,#dc1f3b 15.5px,#ee4426 17.5px,#f6991f 20.5px,#f8b11e 22.5px,#f8ad1e 24.5px,#f37221 27.5px,#eb2f29 29.5px,#e12336 30.5px,#a62967 31.5px,#5a46a5 32.5px,#4559bb 39.5px,#475abc 46.5px,#ffffff 47.5px,#ffffff 64.5px,#e6292f 65.5px,#d42042 97.5px,#902d79 113.5px,#4458bb 145.5px,#6370c7 157.5px,#6c78ca 158.5px,#8790d3 159.5px,#b2b6e2 160.5px,#efeffa 163.5px,#ffffff 166.5px,#ffffff 220px)"></i>
<i style="background:linear-gradient(90deg,#ffffff 0px,#efeffa 5.5px,#bcc0e6 8.5px,#5a68c4 11.5px,#4457bb 13.5px,#79328b 14.5px,#dc1e3c 15.5px,#e82b2e 16.5px,#f7a81e 20.5px,#f6c91d 22.5px,#f6cb1d 24.5px,#f6961f 27.5px,#eb2f29 30.5px,#e02238 31.5px,#962c74 32.5px,#5549aa 33.5px,#4659bc 40.5px,#475abc 46.5px,#ffffff 47.5px,#ffffff 64.5px,#e02237 65.5px,#d32043 84.5px,#803085 104.5px,#62419f 119.5px,#4558bb 144.5px,#5a68c4 158.5px,#727ecc 159.5px,#bfc2e7 161.5px,#f9f9fd 164.5px,#ffffff 220px)"></i>
<i style="background:linear-gradient(90deg,#ffffff 0px,#ececf9 5.5px,#b4b8e3 8.5px,#6a76c9 10.5px,#4e5fbf 12.5px,#485bbd 13.5px,#6d3a96 14.5px,#cc2148 15.5px,#e6292f 16.5px,#f8ae1e 20.5px,#f4d71d 22.5px,#f3e01c 24.5px,#f6ca1d 26.5px,#f37521 29.5px,#e82c2c 31.5px,#dd1f3b 32.5px,#7a328a 33.5px,#5549a9 34.5px,#475abc 42.5px,#475abc 46.5px,#ffffff 47.5px,#ffffff 64.5px,#c7224d 65.5px,#803086 92.5px,#4a51b3 112.5px,#485abc 136.5px,#5b69c4 158.5px,#737ecd 159.5px,#bec1e7 161.5px,#f8f8fd 164.5px,#ffffff 220px)"></i>
<i style="background:linear-gradient(90deg,#fefeff 0px,#e8e9f7 5.5px,#a7acde 8.5px,#5d6bc5 10.5px,#4659bc 13.5px,#5a46a6 14.5px,#ae2761 15.5px,#e32633 16.5px,#ed3b27 17.5px,#f8ac1e 20.5px,#f4db1d 22.5px,#f2eb1c 24.5px,#f4dd1d 26.5px,#f68f1f 29.5px,#ee3f26 31.5px,#e42732 32.5px,#b82558 33.5px,#6042a0 34.5px,#4256ba 40.5px,#475abc 46.5px,#ffffff 47.5px,#ffffff 64.5px,#8d2e7b 65.5px,#4d4fb1 96.5px,#4659bc 103.5px,#6370c7 152.5px,#747fcd 158.5px,#8891d4 159.5px,#aeb2e1 160.5px,#f9f9fd 164.5px,#ffffff 220px)"></i>
<i style="background:linear-gradient(90deg,#fefeff 0px,#f0f0fa 4.5px,#bcbfe6 7.5px,#5866c3 10.5px,#4554b7 14.5px,#843082 15.5px,#de2039 16.5px,#ea2e2a 17.5px,#f7a11f 20.5px,#f4d71d 22.5px,#f2ed1c 24.5px,#f3e61c 26.5px,#f7bf1e 28.5px,#f05524 31.5px,#ea2e2a 32.5px,#de2039 33.5px,#843082 34.5px,#5947a6 35.5px,#475abc 42.5px,#475abc 46.5px,#ffffff 47.5px,#ffffff 64.5px,#62419f 65.5px,#4558bb 90.5px,#717dcc 124.5px,#838cd2 146.5px,#9ca2da 158.5px,#f0f0fa 163.5px,#ffffff 166.5px,#ffffff 220px)"></i>
<i style="background:linear-gradient(90deg,#fefeff 0px,#eeeef9 4.5px,#b8bbe4 7.5px,#6d79ca 9.5px,#5665c2 10.5px,#4357ba 13.5px,#4852b5 14.5px,#6042a0 15.5px,#b82558 16.5px,#e42732 17.5px,#ee3f26 18.5px,#f8af1e 21.5px,#f4dd1d 23.5px,#f2eb1c 25.5px,#f4db1d 27.5px,#f58c1f 30.5px,#ed3b27 32.5px,#e32633 33.5px,#9d2b6f 35.5px,#544aab 37.5px,#475abc 42.5px,#475abc 46.5px,#ffffff 47.5px,#ffffff 64.5px,#4256ba 65.5px,#5967c4 95.5px,#9aa0da 110.5px,#b7bbe4 150.5px,#c6c8ea 159.5px,#fbfbfe 164.5px,#ffffff 220px)"></i>
<i style="background:linear-gradient(90deg,#fefeff 0px,#ededf9 4.5px,#b5b8e3 7.5px,#6874c9 9.5px,#4d5ebf 11.5px,#4256ba 13.5px,#4e4eaf 15.5px,#7a328a 16.5px,#dd1f3b 17.5px,#e82c2c 18.5px,#f8b31e 22.5px,#f4d91d 24.5px,#f3df1c 26.5px,#f6c61d 28.5px,#f36e21 31.5px,#e6292f 33.5px,#dd203a 35.5px,#bf2453 36.5px,#5e43a2 38.5px,#4256ba 41.5px,#475abc 46.5px,#ffffff 47.5px,#ffffff 64.5px,#4256ba 65.5px,#5a68c4 95.5px,#b8bbe4 106.5px,#d7d8f1 158.5px,#ffffff 165.5px,#ffffff 220px)"></i>
<i style="background:linear-gradient(90deg,#fefeff 0px,#ededf9 4.5px,#b3b7e2 7.5px,#6572c8 9.5px,#4659bc 12.5px,#4a51b3 14.5px,#524bac 16.5px,#962c74 17.5px,#e02238 18.5px,#eb2f29 19.5px,#f6961f 22.5px,#f6cb1d 25.5px,#f6c91d 27.5px,#f58e1f 30.5px,#e82c2c 33.5px,#d42042 37.5px,#653f9c 39.5px,#4a51b3 40.5px,#475abc 46.5px,#ffffff 47.5px,#ffffff 64.5px,#4256ba 65.5px,#5f6dc6 94.5px,#bdc0e6 106.5px,#d3d5ef 112.5px,#ebebf8 158.5px,#ffffff 168.5px,#ffffff 220px)"></i>
<i style="background:linear-gradient(90deg,#fefeff 0px,#ededf9 4.5px,#b3b7e2 7.5px,#6572c8 9.5px,#4659bc 12.5px,#4a51b3 14.5px,#5a46a5 17.5px,#a62967 18.5px,#e12336 19.5px,#eb2f29 20.5px,#f58d1f 23.5px,#f8b31e 26.5px,#f7a91e 28.5px,#f26622 31.5px,#ee4426 32.5px,#ec3028 33.5px,#dc1e3c 38.5px,#63409e 40.5px,#4256ba 41.5px,#475abc 46.5px,#ffffff 47.5px,#ffffff 64.5px,#4256ba 65.5px,#6572c8 87.5px,#8f97d6 96.5px,#c3c5e9 105.5px,#e5e5f6 114.5px,#fcfcfe 163.5px,#ffffff 220px)"></i>
<i style="background:linear-gradient(90deg,#fefeff 0px,#ededf9 4.5px,#b5b8e3 7.5px,#6874c9 9.5px,#4d5ebf 11.5px,#4256ba 13.5px,#5e43a2 18.5px,#a72966 19.5px,#e02337 20.5px,#ea2d2b 21.5px,#f47b20 24.5px,#f6941f 27.5px,#f37021 30.5px,#ed3827 32.5px,#e22535 38.5px,#da1e3e 39.5px,#5a46a5 41.5px,#475abc 42.5px,#475abc 46.5px,#ffffff 47.5px,#ffffff 64.5px,#4256ba 65.5px,#5665c3 76.5px,#8e96d6 82.5px,#eeeef9 115.5px,#ffffff 201.5px,#ffffff 220px)"></i>
<i style="background:linear-gradient(90deg,#fefeff 0px,#eeeef9 4.5px,#b8bbe4 7.5px,#6d79ca 9.5px,#5665c2 10.5px,#4357ba 13.5px,#5b46a5 19.5px,#9a2b71 20.5px,#de203a 21.5px,#ed3727 23.5px,#f26b22 26.5px,#f36e21 28.5px,#ee4026 31.5px,#e6292f 38.5px,#e12336 39.5px,#c9224b 40.5px,#803086 41.5px,#4a51b4 42.5px,#475abc 46.5px,#ffffff 47.5px,#ffffff 64.5px,#4356ba 65.5px,#5766c3 75.5px,#adb2e0 80.5px,#f4f4fb 115.5px,#ffffff 220px)"></i>
<i style="background:linear-gradient(90deg,#fefeff 0px,#f0f0fa 4.5px,#bcbfe6 7.5px,#5866c3 10.5px,#4554b7 14.5px,#5748a8 20.5px,#803086 21.5px,#c6224d 22.5px,#e12336 23.5px,#ee4526 27.5px,#ed3a27 31.5px,#ec3128 37.5px,#de2139 40.5px,#ac2862 41.5px,#673d9a 42.5px,#475abc 43.5px,#475abc 46.5px,#ffffff 47.5px,#ffffff 64.5px,#4356ba 65.5px,#5766c3 75.5px,#adb2e0 80.5px,#f5f5fc 115.5px,#ffffff 220px)"></i>
<i style="background:linear-gradient(90deg,#fefeff 0px,#e8e9f7 5.5px,#a7acde 8.5px,#5d6bc5 10.5px,#4256ba 14.5px,#5748a8 21.5px,#653f9c 22.5px,#cb214a 24.5px,#df2238 25.5px,#ed3c27 34.5px,#e12435 40.5px,#cf2147 41.5px,#833083 42.5px,#4b50b3 43.5px,#475abc 46.5px,#ffffff 47.5px,#ffffff 64.5px,#4256ba 65.5px,#5665c3 76.5px,#8f97d6 82.5px,#f5f5fc 117.5px,#ffffff 220px)"></i>
<i style="background:linear-gradient(90deg,#ffffff 0px,#ececf9 5.5px,#b4b8e3 8.5px,#6a76c9 10.5px,#4e5fbf 12.5px,#4654b7 15.5px,#5748a8 23.5px,#663e9c 24.5px,#ac2862 26.5px,#de2139 27.5px,#ed3b27 32.5px,#ec3028 38.5px,#dd1f3b 41.5px,#9e2a6d 42.5px,#5d44a3 43.5px,#475abc 44.5px,#475abc 46.5px,#ffffff 47.5px,#ffffff 64.5px,#4256ba 65.5px,#606dc6 83.5px,#c9cbeb 105.5px,#f4f4fb 118.5px,#ffffff 152.5px,#ffffff 220px)"></i>
<i style="background:linear-gradient(90deg,#ffffff 0px,#efeffa 5.5px,#bcc0e6 8.5px,#5a68c4 11.5px,#4256ba 15.5px,#5748a8 24.5px,#5748a8 25.5px,#803086 26.5px,#c9224b 27.5px,#e12336 28.5px,#ed3b27 34.5px,#e42732 40.5px,#de2139 41.5px,#af2760 42.5px,#6a3b98 43.5px,#475abc 44.5px,#475abc 46.5px,#ffffff 47.5px,#ffffff 64.5px,#4256ba 65.5px,#5967c3 84.5px,#8a92d4 92.5px,#c5c7e9 104.5px,#f4f4fb 118.5px,#fefeff 138.5px,#ffffff 220px)"></i>
<i style="background:linear-gradient(90deg,#ffffff 0px,#eaeaf8 6.5px,#b2b6e2 9.5px,#6c78ca 11.5px,#5765c3 12.5px,#4256ba 16.5px,#5a46a5 26.5px,#da1e3e 28.5px,#ed3527 33.5px,#e82c2d 39.5px,#df2139 41.5px,#b4265c 42.5px,#703793 43.5px,#4457bb 44.5px,#475abc 46.5px,#ffffff 47.5px,#ffffff 64.5px,#4256ba 65.5px,#5f6cc6 89.5px,#ececf9 113.5px,#fefeff 129.5px,#ffffff 220px)"></i>
<i style="background:linear-gradient(90deg,#ffffff 0px,#eeeef9 6.5px,#bec1e7 9.5px,#626fc7 12.5px,#4558bb 16.5px,#5549aa 26.5px,#63409e 27.5px,#dc1e3c 29.5px,#ec3228 35.5px,#de203a 41.5px,#af2760 42.5px,#6f3894 43.5px,#4357bb 44.5px,#475abc 46.5px,#ffffff 47.5px,#ffffff 64.5px,#4256ba 65.5px,#616ec6 95.5px,#eeeef9 117.5px,#ffffff 129.5px,#ffffff 220px)"></i>
<i style="background:linear-gradient(90deg,#ffffff 0px,#f2f2fb 6.5px,#cbcdec 9.5px,#9ba2da 11.5px,#5d6bc5 13.5px,#4356ba 18.5px,#524bac 27.5px,#653f9c 28.5px,#d42042 30.5px,#e82c2c 34.5px,#e02336 40.5px,#d71f40 41.5px,#673d9a 43.5px,#4559bb 44.5px,#475abc 46.5px,#ffffff 47.5px,#ffffff 64.5px,#4256ba 65.5px,#5c6ac5 99.5px,#a9aedf 110.5px,#f4f4fb 122.5px,#ffffff 139.5px,#ffffff 220px)"></i>
<i style="background:linear-gradient(90deg,#ffffff 0px,#f0f0fa 7.5px,#b5b9e3 11.5px,#5d6bc5 14.5px,#4256ba 20.5px,#4e4eb0 28.5px,#5e43a2 29.5px,#bf2453 31.5px,#dd203a 32.5px,#e32633 38.5px,#dd1f3b 40.5px,#b92558 41.5px,#5947a6 43.5px,#475abc 44.5px,#475abc 46.5px,#ffffff 47.5px,#ffffff 64.5px,#4256ba 65.5px,#5d6bc5 104.5px,#a7acde 114.5px,#f4f4fb 125.5px,#ffffff 140.5px,#ffffff 220px)"></i>
<i style="background:linear-gradient(90deg,#ffffff 0px,#f4f4fb 7.5px,#d5d7f0 10.5px,#b4b8e3 12.5px,#616fc7 15.5px,#4458bb 21.5px,#4753b6 29.5px,#514cae 30.5px,#9d2b6f 32.5px,#dc1e3c 34.5px,#dd203a 38.5px,#d42042 39.5px,#683d99 42.5px,#4554b7 43.5px,#475abc 46.5px,#ffffff 47.5px,#ffffff 64.5px,#4256ba 65.5px,#5a68c4 108.5px,#9ba1da 117.5px,#f4f4fb 128.5px,#ffffff 141.5px,#ffffff 220px)"></i>
<i style="background:linear-gradient(90deg,#ffffff 0px,#f4f4fb 8.5px,#c5c8ea 12.5px,#828cd2 15.5px,#5967c4 17.5px,#4457bb 27.5px,#4558bb 31.5px,#8d2e7b 34.5px,#ae2761 36.5px,#a92865 38.5px,#663e9b 41.5px,#4b50b3 42.5px,#475abc 45.5px,#475abc 46.5px,#ffffff 47.5px,#ffffff 64.5px,#4256ba 65.5px,#5a68c4 112.5px,#8f97d6 120.5px,#efeffa 130.5px,#ffffff 137.5px,#ffffff 220px)"></i>
<i style="background:linear-gradient(90deg,#ffffff 0px,#f3f3fb 9.5px,#c8cbeb 13.5px,#5967c3 19.5px,#4b5cbe 29.5px,#4f60bf 32.5px,#4659bc 33.5px,#6a3b98 37.5px,#534bac 40.5px,#4357ba 41.5px,#475abc 46.5px,#ffffff 47.5px,#ffffff 64.5px,#4256ba 65.5px,#5a68c4 116.5px,#8d95d5 124.5px,#f6f6fc 134.5px,#ffffff 159.5px,#ffffff 220px)"></i>
<i style="background:linear-gradient(90deg,#ffffff 0px,#f4f4fb 10.5px,#cdd0ed 14.5px,#a0a6dc 17.5px,#5e6bc5 21.5px,#4559bb 31.5px,#475abc 46.5px,#ffffff 47.5px,#ffffff 64.5px,#4256ba 65.5px,#5e6bc5 121.5px,#8c94d5 128.5px,#ececf9 136.5px,#ffffff 142.5px,#ffffff 220px)"></i>
<i style="background:linear-gradient(90deg,#ffffff 0px,#f5f5fc 11.5px,#d5d6f0 15.5px,#b4b8e3 18.5px,#5c69c5 21.5px,#4256ba 27.5px,#475abc 46.5px,#ffffff 47.5px,#ffffff 64.5px,#4256ba 65.5px,#606dc6 125.5px,#8a92d4 132.5px,#cccfec 136.5px,#fafafd 139.5px,#ffffff 220px)"></i>
<i style="background:linear-gradient(90deg,#ffffff 0px,#f2f2fb 13.5px,#e6e7f7 15.5px,#bcc0e6 17.5px,#5967c3 20.5px,#4554b7 25.5px,#703792 28.5px,#703792 30.5px,#4e4eb0 33.5px,#475abc 40.5px,#475abc 46.5px,#ffffff 47.5px,#ffffff 64.5px,#4256ba 65.5px,#606ec6 128.5px,#7782ce 134.5px,#d2d4ef 137.5px,#f8f8fd 139.5px,#ffffff 220px)"></i>
<i style="background:linear-gradient(90deg,#ffffff 0px,#f4f4fb 13.5px,#d8daf1 15.5px,#a3a9dd 17.5px,#5967c3 19.5px,#4355b9 23.5px,#524cad 24.5px,#942c75 26.5px,#c4234f 28.5px,#c4234f 30.5px,#942c75 32.5px,#524bad 34.5px,#4558bb 39.5px,#475abc 46.5px,#ffffff 47.5px,#ffffff 64.5px,#4256ba 65.5px,#6c3a96 67.5px,#6c3a96 68.5px,#514cad 69.5px,#4659bc 71.5px,#606dc6 129.5px,#6b77ca 134.5px,#858ed3 135.5px,#b4b8e3 136.5px,#e8e8f7 138.5px,#ffffff 140.5px,#ffffff 220px)"></i>
<i style="background:linear-gradient(90deg,#ffffff 0px,#f7f7fc 12.5px,#e1e2f5 14.5px,#b2b6e2 16.5px,#5d6bc5 18.5px,#4454b8 22.5px,#5847a7 23.5px,#b82559 25.5px,#dd1f3b 26.5px,#e02337 31.5px,#dd1f3b 32.5px,#b82559 33.5px,#5847a7 35.5px,#4558bb 40.5px,#475abc 46.5px,#ffffff 47.5px,#ffffff 64.5px,#4355b9 65.5px,#79328b 66.5px,#ab2864 67.5px,#ab2864 68.5px,#79328b 69.5px,#4355b9 70.5px,#626fc7 130.5px,#6b77ca 134.5px,#848dd2 135.5px,#b4b8e3 136.5px,#e8e8f7 138.5px,#ffffff 140.5px,#ffffff 220px)"></i>
<i style="background:linear-gradient(90deg,#ffffff 0px,#fafafd 11.5px,#ebebf8 13.5px,#bec1e7 15.5px,#6d79ca 17.5px,#5564c2 18.5px,#4455b9 21.5px,#524cad 22.5px,#833083 23.5px,#c4234f 24.5px,#e02237 25.5px,#ea2e2a 30.5px,#e02237 33.5px,#c4234f 34.5px,#833083 35.5px,#554aaa 36.5px,#4659bc 41.5px,#475abc 46.5px,#ffffff 47.5px,#ffffff 64.5px,#4355b9 65.5px,#79328b 66.5px,#ab2864 67.5px,#ab2864 68.5px,#79328b 69.5px,#4355b9 70.5px,#6370c7 130.5px,#6b77ca 134.5px,#858ed3 135.5px,#b4b8e3 136.5px,#e8e8f7 138.5px,#ffffff 140.5px,#ffffff 220px)"></i>
<i style="background:linear-gradient(90deg,#ffffff 0px,#f9f9fd 11.5px,#e5e5f6 13.5px,#b3b7e2 15.5px,#5a68c4 17.5px,#4357ba 20.5px,#4951b4 21.5px,#703792 22.5px,#b82559 23.5px,#e02237 24.5px,#ee4026 28.5px,#ed3927 31.5px,#e02237 34.5px,#b82559 35.5px,#703792 36.5px,#554aaa 37.5px,#475abc 42.5px,#475abc 46.5px,#ffffff 47.5px,#ffffff 64.5px,#4256ba 65.5px,#6c3a96 67.5px,#6c3a96 68.5px,#514cad 69.5px,#4659bc 71.5px,#5e6bc5 126.5px,#7882ce 134.5px,#9299d7 135.5px,#b9bde5 136.5px,#eaeaf8 138.5px,#ffffff 141.5px,#ffffff 220px)"></i>
<i style="background:linear-gradient(90deg,#ffffff 0px,#f7f7fc 11.5px,#dedff3 13.5px,#a4aadd 15.5px,#747fcd 16.5px,#5665c2 17.5px,#4554b8 20.5px,#5549aa 21.5px,#942c75 22.5px,#dd1f3b 23.5px,#ef4925 27.5px,#ef5025 30.5px,#e52831 34.5px,#dd1f3b 35.5px,#942c75 36.5px,#5649a9 37.5px,#475abc 43.5px,#475abc 46.5px,#ffffff 47.5px,#ffffff 64.5px,#4256ba 65.5px,#5e6bc5 122.5px,#9098d7 132.5px,#b9bde5 135.5px,#fafafd 139.5px,#ffffff 220px)"></i>
<i style="background:linear-gradient(90deg,#ffffff 0px,#f6f6fc 11.5px,#d9daf1 13.5px,#999fd9 15.5px,#6976c9 16.5px,#4a5cbd 18.5px,#4852b5 20.5px,#663e9b 21.5px,#b2265e 22.5px,#e02337 23.5px,#f05424 27.5px,#f15a23 30.5px,#e82c2d 34.5px,#e02337 35.5px,#b2265e 36.5px,#663e9b 37.5px,#5549aa 38.5px,#475abc 43.5px,#475abc 46.5px,#ffffff 47.5px,#ffffff 64.5px,#4256ba 65.5px,#5d6bc5 117.5px,#949bd8 127.5px,#f1f1fa 137.5px,#ffffff 143.5px,#ffffff 220px)"></i>
<i style="background:linear-gradient(90deg,#ffffff 0px,#f5f5fc 11.5px,#d6d8f0 13.5px,#bcbfe6 14.5px,#6370c7 16.5px,#4357ba 19.5px,#4a51b4 20.5px,#703792 21.5px,#c4234f 22.5px,#e22534 23.5px,#f15a23 27.5px,#f15a23 31.5px,#e22534 35.5px,#c4234f 36.5px,#703792 37.5px,#5649a9 38.5px,#475abc 43.5px,#475abc 46.5px,#ffffff 47.5px,#ffffff 64.5px,#4256ba 65.5px,#5f6cc6 112.5px,#979ed9 122.5px,#f6f6fc 134.5px,#ffffff 163.5px,#ffffff 220px)"></i>
<i style="background:linear-gradient(90deg,#ffffff 0px,#fbfbfe 10.5px,#ebebf8 12.5px,#bbbee5 14.5px,#616ec6 16.5px,#4356ba 19.5px,#4a51b3 20.5px,#74358f 21.5px,#cb214a 22.5px,#e32633 23.5px,#f15c23 27.5px,#f15c23 31.5px,#e32633 35.5px,#cb214a 36.5px,#74358f 37.5px,#5649a9 38.5px,#4356ba 42.5px,#475abc 46.5px,#ffffff 47.5px,#ffffff 64.5px,#4256ba 65.5px,#5e6cc6 106.5px,#a3a9dd 118.5px,#f7f7fc 131.5px,#ffffff 220px)"></i>
<i style="background:linear-gradient(90deg,#ffffff 0px,#f5f5fc 11.5px,#d6d8f0 13.5px,#bcbfe6 14.5px,#6370c7 16.5px,#4357ba 19.5px,#4a51b4 20.5px,#703792 21.5px,#c4234f 22.5px,#e22534 23.5px,#f15a23 27.5px,#f15a23 31.5px,#e22534 35.5px,#c4234f 36.5px,#703792 37.5px,#5649a9 38.5px,#475abc 43.5px,#475abc 46.5px,#ffffff 47.5px,#ffffff 64.5px,#4256ba 65.5px,#606dc6 100.5px,#a7acde 113.5px,#f5f5fc 127.5px,#ffffff 147.5px,#ffffff 220px)"></i>
<i style="background:linear-gradient(90deg,#ffffff 0px,#f6f6fc 11.5px,#d9daf1 13.5px,#999fd9 15.5px,#6976c9 16.5px,#4a5cbd 18.5px,#4852b5 20.5px,#663e9b 21.5px,#b2265e 22.5px,#e02337 23.5px,#f05424 27.5px,#f15a23 30.5px,#e82c2d 34.5px,#e02337 35.5px,#b2265e 36.5px,#663e9b 37.5px,#5549aa 38.5px,#475abc 43.5px,#475abc 46.5px,#ffffff 47.5px,#ffffff 64.5px,#4357ba 65.5px,#5564c2 81.5px,#6471c8 94.5px,#acb0e0 108.5px,#f7f7fc 124.5px,#ffffff 167.5px,#ffffff 220px)"></i>
<i style="background:linear-gradient(90deg,#ffffff 0px,#f7f7fc 11.5px,#dedff3 13.5px,#a4aadd 15.5px,#747fcd 16.5px,#5665c2 17.5px,#4554b8 20.5px,#5549aa 21.5px,#942c75 22.5px,#dd1f3b 23.5px,#ef4925 27.5px,#ef5025 30.5px,#e52831 34.5px,#dd1f3b 35.5px,#942c75 36.5px,#5649a9 37.5px,#475abc 43.5px,#475abc 46.5px,#ffffff 47.5px,#ffffff 64.5px,#4357ba 65.5px,#5a68c4 77.5px,#7a84cf 92.5px,#f3f3fb 119.5px,#ffffff 139.5px,#ffffff 220px)"></i>
<i style="background:linear-gradient(90deg,#ffffff 0px,#f9f9fd 11.5px,#e5e5f6 13.5px,#b3b7e2 15.5px,#5a68c4 17.5px,#4357ba 20.5px,#4951b4 21.5px,#703792 22.5px,#b82559 23.5px,#e02237 24.5px,#ee4026 28.5px,#ed3927 31.5px,#e02237 34.5px,#b82559 35.5px,#703792 36.5px,#554aaa 37.5px,#475abc 42.5px,#475abc 46.5px,#ffffff 47.5px,#ffffff 64.5px,#4357ba 65.5px,#5766c3 72.5px,#707bcb 74.5px,#939ad7 90.5px,#f5f5fc 116.5px,#ffffff 148.5px,#ffffff 220px)"></i>
<i style="background:linear-gradient(90deg,#ffffff 0px,#fafafd 11.5px,#ebebf8 13.5px,#bec1e7 15.5px,#6d79ca 17.5px,#5564c2 18.5px,#4455b9 21.5px,#524cad 22.5px,#833083 23.5px,#c4234f 24.5px,#e02237 25.5px,#ea2e2a 30.5px,#e02237 33.5px,#c4234f 34.5px,#833083 35.5px,#554aaa 36.5px,#4659bc 41.5px,#475abc 46.5px,#ffffff 47.5px,#ffffff 64.5px,#4357ba 65.5px,#5a68c4 73.5px,#8e96d6 76.5px,#f4f4fb 116.5px,#ffffff 141.5px,#ffffff 220px)"></i>
<i style="background:linear-gradient(90deg,#ffffff 0px,#f7f7fc 12.5px,#e1e2f5 14.5px,#b2b6e2 16.5px,#5d6bc5 18.5px,#4454b8 22.5px,#5847a7 23.5px,#b82559 25.5px,#dd1f3b 26.5px,#e02337 31.5px,#dd1f3b 32.5px,#b82559 33.5px,#5847a7 35.5px,#4558bb 40.5px,#475abc 46.5px,#ffffff 47.5px,#ffffff 64.5px,#4357ba 65.5px,#5e6bc5 76.5px,#a6abde 96.5px,#f1f1fa 116.5px,#ffffff 133.5px,#ffffff 220px)"></i>
<i style="background:linear-gradient(90deg,#ffffff 0px,#f4f4fb 13.5px,#d8daf1 15.5px,#a3a9dd 17.5px,#5967c3 19.5px,#4355b9 23.5px,#524cad 24.5px,#942c75 26.5px,#c4234f 28.5px,#c4234f 30.5px,#942c75 32.5px,#524bad 34.5px,#4558bb 39.5px,#475abc 46.5px,#ffffff 47.5px,#ffffff 64.5px,#4256ba 65.5px,#6370c7 92.5px,#c6c8ea 107.5px,#f2f2fb 118.5px,#ffffff 144.5px,#ffffff 220px)"></i>
<i style="background:linear-gradient(90deg,#ffffff 0px,#f7f7fc 13.5px,#e6e7f7 15.5px,#bcc0e6 17.5px,#5967c3 20.5px,#4554b7 25.5px,#703792 28.5px,#703792 30.5px,#4e4eb0 33.5px,#475abc 40.5px,#475abc 46.5px,#ffffff 47.5px,#ffffff 64.5px,#4256ba 65.5px,#5967c4 94.5px,#bfc2e7 107.5px,#f5f5fc 123.5px,#ffffff 160.5px,#ffffff 220px)"></i>
<i style="background:linear-gradient(90deg,#ffffff 0px,#f5f5fc 14.5px,#d0d2ee 17.5px,#9da4db 19.5px,#5c69c5 21.5px,#4256ba 27.5px,#475abc 46.5px,#ffffff 47.5px,#ffffff 64.5px,#4256ba 65.5px,#5967c4 95.5px,#adb2e0 108.5px,#f3f3fb 126.5px,#ffffff 151.5px,#ffffff 220px)"></i>
<i style="background:linear-gradient(90deg,#ffffff 0px,#f3f3fb 15.5px,#e3e3f5 17.5px,#a6abde 20.5px,#6a76c9 22.5px,#5262c1 24.5px,#475abc 33.5px,#4b5dbe 37.5px,#475abc 46.5px,#ffffff 47.5px,#ffffff 64.5px,#4256ba 65.5px,#5a68c4 98.5px,#a9aedf 113.5px,#f3f3fb 130.5px,#ffffff 152.5px,#ffffff 220px)"></i>
<i style="background:linear-gradient(90deg,#ffffff 0px,#f3f3fb 15.5px,#e4e5f6 18.5px,#b4b8e3 21.5px,#6a76c9 24.5px,#5665c2 26.5px,#5362c1 34.5px,#475abc 43.5px,#475abc 46.5px,#ffffff 47.5px,#ffffff 64.5px,#4256ba 65.5px,#606dc6 106.5px,#ebebf8 131.5px,#ffffff 145.5px,#ffffff 220px)"></i>
<i style="background:linear-gradient(90deg,#ffffff 0px,#f5f5fc 13.5px,#ccceec 18.5px,#6672c8 28.5px,#606dc6 32.5px,#6f7acb 34.5px,#4b5dbe 37.5px,#475abc 46.5px,#ffffff 47.5px,#ffffff 64.5px,#4256ba 65.5px,#5c6ac5 111.5px,#acb1e0 124.5px,#f4f4fb 138.5px,#ffffff 158.5px,#ffffff 220px)"></i>
<i style="background:linear-gradient(90deg,#ffffff 0px,#f3f3fb 12.5px,#bec2e7 17.5px,#616ec6 23.5px,#5665c2 30.5px,#616ec6 33.5px,#6c78ca 34.5px,#475abc 38.5px,#475abc 46.5px,#ffffff 47.5px,#ffffff 64.5px,#4256ba 65.5px,#5a68c4 116.5px,#a3a9dd 128.5px,#f2f2fb 141.5px,#ffffff 155.5px,#ffffff 220px)"></i>
<i style="background:linear-gradient(90deg,#ffffff 0px,#f6f6fc 10.5px,#dedff3 13.5px,#b3b7e2 16.5px,#5d6ac5 20.5px,#4b5dbe 29.5px,#5363c1 36.5px,#475abc 40.5px,#475abc 46.5px,#ffffff 47.5px,#ffffff 64.5px,#4256ba 65.5px,#5867c3 120.5px,#8b93d5 130.5px,#efeffa 144.5px,#ffffff 155.5px,#ffffff 220px)"></i>
<i style="background:linear-gradient(90deg,#ffffff 0px,#f6f6fc 9.5px,#dbdcf2 12.5px,#a5aadd 15.5px,#5a68c4 18.5px,#4554b7 25.5px,#4b50b2 28.5px,#4a5cbd 34.5px,#4b5dbe 37.5px,#475abc 46.5px,#ffffff 47.5px,#ffffff 64.5px,#4256ba 65.5px,#5867c3 125.5px,#838cd2 134.5px,#f1f1fa 148.5px,#ffffff 158.5px,#ffffff 220px)"></i>
<i style="background:linear-gradient(90deg,#ffffff 0px,#f6f6fc 8.5px,#d9daf1 11.5px,#b7bbe4 13.5px,#626fc7 16.5px,#4659bc 21.5px,#4753b6 22.5px,#833083 26.5px,#833083 28.5px,#4753b6 32.5px,#475abc 43.5px,#475abc 46.5px,#ffffff 47.5px,#ffffff 64.5px,#4256ba 65.5px,#5967c3 130.5px,#828cd2 139.5px,#f3f3fb 152.5px,#ffffff 167.5px,#ffffff 220px)"></i>
<i style="background:linear-gradient(90deg,#ffffff 0px,#f2f2fb 8.5px,#c9cbeb 11.5px,#989fd9 13.5px,#5b69c4 15.5px,#4357ba 20.5px,#962c74 23.5px,#ca224b 25.5px,#dc1e3c 27.5px,#ca224b 29.5px,#74358f 32.5px,#4952b4 34.5px,#475abc 46.5px,#ffffff 47.5px,#ffffff 64.5px,#4256ba 65.5px,#5967c4 135.5px,#828cd2 144.5px,#f6f6fc 156.5px,#ffffff 163.5px,#ffffff 220px)"></i>
<i style="background:linear-gradient(90deg,#ffffff 0px,#f4f4fb 7.5px,#ccceec 10.5px,#9ba1da 12.5px,#5a68c4 14.5px,#4455b8 19.5px,#8b2e7d 21.5px,#dd1f3b 23.5px,#e32633 29.5px,#dd1f3b 31.5px,#643f9d 34.5px,#4c4fb1 35.5px,#475abc 42.5px,#475abc 46.5px,#ffffff 47.5px,#ffffff 64.5px,#4256ba 65.5px,#4c4fb1 70.5px,#4458bb 74.5px,#5b69c4 140.5px,#8a93d4 150.5px,#9fa5dc 152.5px,#eeeef9 156.5px,#ffffff 159.5px,#ffffff 220px)"></i>
<i style="background:linear-gradient(90deg,#ffffff 0px,#f0f0fa 7.5px,#bfc2e7 10.5px,#5e6bc5 13.5px,#4357bb 17.5px,#4654b7 18.5px,#643f9d 19.5px,#cb2149 21.5px,#e02237 22.5px,#ed3827 27.5px,#e02237 32.5px,#cb2149 33.5px,#643f9d 35.5px,#4e4eaf 36.5px,#475abc 41.5px,#475abc 46.5px,#ffffff 47.5px,#ffffff 64.5px,#4256ba 65.5px,#4c4fb1 66.5px,#823084 68.5px,#932d76 69.5px,#932d76 70.5px,#693c99 72.5px,#4c4fb1 73.5px,#4458bb 76.5px,#5e6bc5 144.5px,#7681ce 152.5px,#9098d6 153.5px,#b9bce5 154.5px,#eaeaf8 156.5px,#ffffff 159.5px,#ffffff 220px)"></i>
<i style="background:linear-gradient(90deg,#ffffff 0px,#f3f3fb 6.5px,#c7caea 9.5px,#b2b6e2 10.5px,#6874c9 12.5px,#4e5fbf 14.5px,#4654b7 17.5px,#5a46a5 18.5px,#8a2e7e 19.5px,#ca224a 20.5px,#e12336 21.5px,#ef4b25 25.5px,#f05224 28.5px,#e72a2e 32.5px,#e12336 33.5px,#ca224a 34.5px,#8a2e7e 35.5px,#5a46a5 36.5px,#4457bb 40.5px,#475abc 46.5px,#ffffff 47.5px,#ffffff 64.5px,#4256ba 65.5px,#823084 67.5px,#a52968 68.5px,#b82559 69.5px,#b82559 70.5px,#a52968 71.5px,#5f43a1 73.5px,#4458bb 74.5px,#5e6bc5 145.5px,#6b77ca 152.5px,#858ed3 153.5px,#b4b8e3 154.5px,#e8e8f7 156.5px,#ffffff 158.5px,#ffffff 220px)"></i>
<i style="background:linear-gradient(90deg,#ffffff 0px,#f0f0fa 6.5px,#bdc1e7 9.5px,#5967c3 12.5px,#4455b8 16.5px,#4a50b3 17.5px,#733691 18.5px,#b5265b 19.5px,#df2238 20.5px,#ec3428 22.5px,#f26422 25.5px,#f26b22 28.5px,#ef4825 31.5px,#e62a2f 33.5px,#df2238 34.5px,#b5265b 35.5px,#733691 36.5px,#524bac 37.5px,#4558bb 41.5px,#475abc 46.5px,#ffffff 47.5px,#ffffff 64.5px,#4256ba 65.5px,#4c4fb1 66.5px,#823084 68.5px,#932d76 69.5px,#932d76 70.5px,#693c99 72.5px,#4c4fb1 73.5px,#4458bb 76.5px,#5f6dc6 146.5px,#6b77ca 152.5px,#848dd2 153.5px,#b4b8e3 154.5px,#e8e8f7 156.5px,#ffffff 158.5px,#ffffff 220px)"></i>
<i style="background:linear-gradient(90deg,#ffffff 0px,#eeeef9 6.5px,#b5b9e3 9.5px,#6975c9 11.5px,#4d5ebf 13.5px,#4356ba 15.5px,#5947a6 17.5px,#902d79 18.5px,#da1e3e 19.5px,#eb2f29 21.5px,#f26b22 24.5px,#f48020 27.5px,#f26b22 30.5px,#eb2f29 33.5px,#da1e3e 35.5px,#902d79 36.5px,#5947a6 37.5px,#4356ba 41.5px,#475abc 46.5px,#ffffff 47.5px,#ffffff 64.5px,#4256ba 65.5px,#4c4fb1 70.5px,#4458bb 74.5px,#5e6cc5 145.5px,#6b77ca 152.5px,#858ed3 153.5px,#b4b8e3 154.5px,#e8e8f7 156.5px,#ffffff 158.5px,#ffffff 220px)"></i>
<i style="background:linear-gradient(90deg,#ffffff 0px,#f4f4fb 5.5px,#dbdcf2 7.5px,#acb1e0 9.5px,#5e6bc5 11.5px,#4455b8 15.5px,#4b50b2 16.5px,#663e9b 17.5px,#df2139 19.5px,#ed3a27 21.5px,#f47920 24.5px,#f58d1f 27.5px,#f47920 30.5px,#e72a2e 34.5px,#df2139 35.5px,#663e9b 37.5px,#534bac 38.5px,#4558bb 42.5px,#475abc 46.5px,#ffffff 47.5px,#ffffff 64.5px,#4256ba 65.5px,#5c6ac5 142.5px,#7681ce 152.5px,#9098d6 153.5px,#b9bce5 154.5px,#eaeaf8 156.5px,#ffffff 159.5px,#ffffff 220px)"></i>
<i style="background:linear-gradient(90deg,#ffffff 0px,#f3f3fb 5.5px,#d7d8f1 7.5px,#a5aadd 9.5px,#5967c4 11.5px,#4653b6 15.5px,#4d4fb1 16.5px,#6f3894 17.5px,#b7255a 18.5px,#e12336 19.5px,#ee4226 21.5px,#f48120 24.5px,#f6941f 27.5px,#f48120 30.5px,#e92d2c 34.5px,#e12336 35.5px,#b7255a 36.5px,#6f3894 37.5px,#544aab 38.5px,#475abc 43.5px,#475abc 46.5px,#ffffff 47.5px,#ffffff 64.5px,#4256ba 65.5px,#5a68c4 137.5px,#8891d4 149.5px,#a1a7dc 152.5px,#eeeef9 156.5px,#ffffff 159.5px,#ffffff 220px)"></i>
<i style="background:linear-gradient(90deg,#ffffff 0px,#f2f2fb 5.5px,#d5d7f0 7.5px,#a1a7dc 9.5px,#5867c3 11.5px,#4457bb 14.5px,#4d4eb0 16.5px,#713692 17.5px,#bc2456 18.5px,#e12436 19.5px,#ee4426 21.5px,#f58320 24.5px,#f6961f 27.5px,#f58320 30.5px,#ea2d2b 34.5px,#e12436 35.5px,#bc2456 36.5px,#713692 37.5px,#544aab 38.5px,#475abc 43.5px,#475abc 46.5px,#ffffff 47.5px,#ffffff 64.5px,#4256ba 65.5px,#5b69c4 132.5px,#929ad7 144.5px,#fcfcfe 157.5px,#ffffff 220px)"></i>
<i style="background:linear-gradient(90deg,#ffffff 0px,#f2f2fb 5.5px,#d5d7f0 7.5px,#a1a7dc 9.5px,#5867c3 11.5px,#4457bb 14.5px,#4d4eb0 16.5px,#6f3894 17.5px,#b7255a 18.5px,#e12336 19.5px,#ee4226 21.5px,#f48120 24.5px,#f6941f 27.5px,#f48120 30.5px,#e92d2c 34.5px,#e12336 35.5px,#b7255a 36.5px,#6f3894 37.5px,#544aab 38.5px,#475abc 43.5px,#475abc 46.5px,#ffffff 47.5px,#ffffff 64.5px,#4256ba 65.5px,#5c6ac5 126.5px,#9ca3db 139.5px,#f4f4fb 152.5px,#ffffff 168.5px,#ffffff 220px)"></i>
<i style="background:linear-gradient(90deg,#ffffff 0px,#f3f3fb 5.5px,#d7d8f1 7.5px,#a5aadd 9.5px,#5967c4 11.5px,#4653b6 15.5px,#4d4fb1 16.5px,#663e9b 17.5px,#df2139 19.5px,#ed3a27 21.5px,#f47920 24.5px,#f58d1f 27.5px,#f47920 30.5px,#e72a2e 34.5px,#df2139 35.5px,#663e9b 37.5px,#544aab 38.5px,#475abc 43.5px,#475abc 46.5px,#ffffff 47.5px,#ffffff 64.5px,#4256ba 65.5px,#5f6cc6 120.5px,#a6abde 134.5px,#f7f7fc 149.5px,#ffffff 220px)"></i>
<i style="background:linear-gradient(90deg,#ffffff 0px,#f4f4fb 5.5px,#dbdcf2 7.5px,#acb1e0 9.5px,#5e6bc5 11.5px,#4455b8 15.5px,#5947a6 17.5px,#902d79 18.5px,#da1e3e 19.5px,#eb2f29 21.5px,#f26b22 24.5px,#f48020 27.5px,#f26b22 30.5px,#eb2f29 33.5px,#da1e3e 35.5px,#902d79 36.5px,#5947a6 37.5px,#4558bb 42.5px,#475abc 46.5px,#ffffff 47.5px,#ffffff 64.5px,#4356ba 65.5px,#606dc6 113.5px,#a8addf 128.5px,#f7f7fc 145.5px,#ffffff 220px)"></i>
<i style="background:linear-gradient(90deg,#ffffff 0px,#eeeef9 6.5px,#b5b9e3 9.5px,#6975c9 11.5px,#4d5ebf 13.5px,#4356ba 15.5px,#4e4eb0 17.5px,#733691 18.5px,#b5265b 19.5px,#df2238 20.5px,#ec3428 22.5px,#f26422 25.5px,#f26b22 28.5px,#ef4825 31.5px,#e62a2f 33.5px,#df2238 34.5px,#b5265b 35.5px,#733691 36.5px,#544aab 37.5px,#475abc 42.5px,#475abc 46.5px,#ffffff 47.5px,#ffffff 64.5px,#4357ba 65.5px,#5161c0 86.5px,#6370c7 106.5px,#f5f5fc 140.5px,#ffffff 169.5px,#ffffff 220px)"></i>
<i style="background:linear-gradient(90deg,#ffffff 0px,#f0f0fa 6.5px,#bdc1e7 9.5px,#5967c3 12.5px,#4455b8 16.5px,#5a46a5 18.5px,#8a2e7e 19.5px,#ca224a 20.5px,#e12336 21.5px,#ef4b25 25.5px,#f05224 28.5px,#e72a2e 32.5px,#e12336 33.5px,#ca224a 34.5px,#8a2e7e 35.5px,#5a46a5 36.5px,#4558bb 41.5px,#475abc 46.5px,#ffffff 47.5px,#ffffff 64.5px,#4457bb 65.5px,#5564c2 75.5px,#6370c7 97.5px,#f4f4fb 135.5px,#ffffff 160.5px,#ffffff 220px)"></i>
<i style="background:linear-gradient(90deg,#ffffff 0px,#f3f3fb 6.5px,#c7caea 9.5px,#b2b6e2 10.5px,#6874c9 12.5px,#4e5fbf 14.5px,#4654b7 17.5px,#4b50b2 18.5px,#643f9d 19.5px,#cb2149 21.5px,#e02237 22.5px,#ed3827 27.5px,#e02237 32.5px,#cb2149 33.5px,#643f9d 35.5px,#524bac 36.5px,#475abc 42.5px,#475abc 46.5px,#ffffff 47.5px,#ffffff 64.5px,#4558bb 65.5px,#5d6bc5 74.5px,#7e88d0 96.5px,#efeffa 128.5px,#ffffff 149.5px,#ffffff 220px)"></i>
<i style="background:linear-gradient(90deg,#ffffff 0px,#f0f0fa 7.5px,#bfc2e7 10.5px,#5e6bc5 13.5px,#4357bb 17.5px,#4b50b3 19.5px,#8b2e7d 21.5px,#dd1f3b 23.5px,#e32633 29.5px,#dd1f3b 31.5px,#643f9d 34.5px,#514cad 35.5px,#475abc 41.5px,#475abc 46.5px,#ffffff 47.5px,#ffffff 64.5px,#4659bb 65.5px,#616ec6 70.5px,#7580cd 71.5px,#969dd8 93.5px,#f5f5fc 126.5px,#ffffff 163.5px,#ffffff 220px)"></i>
<i style="background:linear-gradient(90deg,#ffffff 0px,#f4f4fb 7.5px,#ccceec 10.5px,#9ba1da 12.5px,#5a68c4 14.5px,#4455b8 19.5px,#5a46a6 21.5px,#b3265d 24.5px,#d71f40 26.5px,#d71f40 28.5px,#b3265d 30.5px,#5a46a6 33.5px,#4458bb 38.5px,#475abc 46.5px,#ffffff 47.5px,#ffffff 64.5px,#4558bb 65.5px,#5867c3 70.5px,#8d95d5 73.5px,#f8f8fd 124.5px,#ffffff 220px)"></i>
<i style="background:linear-gradient(90deg,#ffffff 0px,#f2f2fb 8.5px,#c9cbeb 11.5px,#989fd9 13.5px,#5b69c4 15.5px,#4554b8 21.5px,#4952b4 22.5px,#833083 26.5px,#833083 28.5px,#4d4eb0 32.5px,#475abc 39.5px,#475abc 46.5px,#ffffff 47.5px,#ffffff 64.5px,#4457bb 65.5px,#737fcd 80.5px,#99a0da 94.5px,#c7c9ea 104.5px,#f5f5fc 118.5px,#ffffff 157.5px,#ffffff 220px)"></i>
<i style="background:linear-gradient(90deg,#ffffff 0px,#f6f6fc 8.5px,#d9daf1 11.5px,#b7bbe4 13.5px,#626fc7 16.5px,#4659bc 21.5px,#4952b4 30.5px,#495bbd 36.5px,#475abc 46.5px,#ffffff 47.5px,#ffffff 64.5px,#4357ba 65.5px,#6370c7 92.5px,#c6c8ea 107.5px,#f2f2fb 118.5px,#ffffff 131.5px,#ffffff 220px)"></i>
<i style="background:linear-gradient(90deg,#ffffff 0px,#f6f6fc 9.5px,#dbdcf2 12.5px,#a5aadd 15.5px,#5a68c4 18.5px,#4357bb 28.5px,#4b5dbe 37.5px,#475abc 46.5px,#ffffff 47.5px,#ffffff 64.5px,#4356ba 65.5px,#5967c4 94.5px,#c5c7e9 108.5px,#f4f4fb 119.5px,#ffffff 132.5px,#ffffff 220px)"></i>
<i style="background:linear-gradient(90deg,#ffffff 0px,#f6f6fc 10.5px,#dedff3 13.5px,#b3b7e2 16.5px,#5d6ac5 20.5px,#4b5dbe 29.5px,#5363c1 36.5px,#475abc 40.5px,#475abc 46.5px,#ffffff 47.5px,#ffffff 64.5px,#4256ba 65.5px,#606dc6 104.5px,#999fd9 112.5px,#f4f4fb 120.5px,#ffffff 136.5px,#ffffff 220px)"></i>
<i style="background:linear-gradient(90deg,#ffffff 0px,#f7f7fc 11.5px,#d8d9f1 15.5px,#9ea4db 19.5px,#616ec6 23.5px,#5665c2 30.5px,#616ec6 33.5px,#6c78ca 34.5px,#475abc 38.5px,#475abc 46.5px,#ffffff 47.5px,#ffffff 64.5px,#4256ba 65.5px,#616ec6 113.5px,#868fd3 120.5px,#ececf9 124.5px,#ffffff 127.5px,#ffffff 220px)"></i>
<i style="background:linear-gradient(90deg,#ffffff 0px,#f5f5fc 13.5px,#ccceec 18.5px,#818bd1 25.5px,#7c86cf 30.5px,#8991d4 32.5px,#5363c1 36.5px,#475abc 40.5px,#475abc 46.5px,#ffffff 47.5px,#ffffff 64.5px,#4256ba 65.5px,#6471c7 117.5px,#6b77ca 120.5px,#848dd2 121.5px,#b4b8e3 122.5px,#e8e8f7 124.5px,#ffffff 126.5px,#ffffff 220px)"></i>
<i style="background:linear-gradient(90deg,#ffffff 0px,#f3f3fb 15.5px,#b2b6e2 26.5px,#acb1e0 29.5px,#717dcc 34.5px,#5363c1 36.5px,#475abc 40.5px,#475abc 46.5px,#ffffff 47.5px,#ffffff 64.5px,#4256ba 65.5px,#616ec6 113.5px,#868fd3 120.5px,#ececf9 124.5px,#ffffff 127.5px,#ffffff 220px)"></i>
<i style="background:linear-gradient(90deg,#ffffff 0px,#f3f3fb 15.5px,#d3d5ef 20.5px,#9aa1da 28.5px,#959cd8 31.5px,#5363c1 36.5px,#475abc 40.5px,#475abc 46.5px,#ffffff 47.5px,#ffffff 64.5px,#4256ba 65.5px,#606dc6 104.5px,#999fd9 112.5px,#f4f4fb 120.5px,#ffffff 136.5px,#ffffff 220px)"></i>
<i style="background:linear-gradient(90deg,#ffffff 0px,#f7f7fc 13.5px,#d6d7f0 17.5px,#9ca2da 21.5px,#6672c8 25.5px,#5a68c4 30.5px,#717dcc 34.5px,#5363c1 36.5px,#475abc 40.5px,#475abc 46.5px,#ffffff 47.5px,#ffffff 64.5px,#4356ba 65.5px,#626fc7 94.5px,#9fa5dc 103.5px,#e3e3f5 112.5px,#ffffff 127.5px,#ffffff 220px)"></i>
<i style="background:linear-gradient(90deg,#ffffff 0px,#f4f4fb 12.5px,#d6d7f0 15.5px,#a1a7dc 18.5px,#5f6cc6 21.5px,#4b5dbe 29.5px,#5363c1 36.5px,#475abc 40.5px,#475abc 46.5px,#ffffff 47.5px,#ffffff 64.5px,#4357ba 65.5px,#737ecc 85.5px,#bfc2e7 98.5px,#f6f6fc 118.5px,#ffffff 150.5px,#ffffff 220px)"></i>
<i style="background:linear-gradient(90deg,#ffffff 0px,#f8f8fd 10.5px,#dddef3 13.5px,#a3a8dd 16.5px,#5867c3 19.5px,#4256ba 28.5px,#4b5dbe 37.5px,#475abc 46.5px,#ffffff 47.5px,#ffffff 64.5px,#4357ba 65.5px,#5665c2 72.5px,#727ecc 74.5px,#a3a9dd 93.5px,#f3f3fb 118.5px,#ffffff 148.5px,#ffffff 220px)"></i>
<i style="background:linear-gradient(90deg,#ffffff 0px,#f7f7fc 9.5px,#d9daf1 12.5px,#b4b7e3 14.5px,#5967c4 17.5px,#4355b9 20.5px,#78328c 23.5px,#882f7f 25.5px,#6b3b97 28.5px,#4d4fb1 30.5px,#4558bb 36.5px,#475abc 46.5px,#ffffff 47.5px,#ffffff 64.5px,#4357ba 65.5px,#5766c3 76.5px,#6975c9 91.5px,#efeffa 123.5px,#ffffff 141.5px,#ffffff 220px)"></i>
<i style="background:linear-gradient(90deg,#ffffff 0px,#f8f8fd 8.5px,#d9daf1 11.5px,#b0b4e1 13.5px,#6875c9 15.5px,#4554b8 18.5px,#872f80 20.5px,#ca224b 22.5px,#dc1e3c 23.5px,#dc1e3c 27.5px,#ad2762 29.5px,#653f9c 31.5px,#524cad 32.5px,#4558bb 38.5px,#475abc 46.5px,#ffffff 47.5px,#ffffff 64.5px,#4357ba 65.5px,#5161c0 84.5px,#606ec6 101.5px,#f3f3fb 131.5px,#ffffff 149.5px,#ffffff 220px)"></i>
<i style="background:linear-gradient(90deg,#ffffff 0px,#f4f4fb 8.5px,#c9cbeb 11.5px,#b3b7e2 12.5px,#6774c9 14.5px,#4d5ebf 16.5px,#524cad 17.5px,#78328c 18.5px,#db1e3d 20.5px,#e52831 27.5px,#db1e3d 30.5px,#78328c 32.5px,#554aaa 33.5px,#475abc 41.5px,#475abc 46.5px,#ffffff 47.5px,#ffffff 64.5px,#4356ba 65.5px,#5e6cc5 111.5px,#a7acde 124.5px,#f5f5fc 138.5px,#ffffff 161.5px,#ffffff 220px)"></i>
<i style="background:linear-gradient(90deg,#ffffff 0px,#f7f7fc 7.5px,#e4e5f6 9.5px,#babde5 11.5px,#6f7bcb 13.5px,#5665c2 14.5px,#4e4eaf 16.5px,#7b3189 17.5px,#b92558 18.5px,#de2039 19.5px,#eb2f29 26.5px,#de2039 31.5px,#b92558 32.5px,#7b3189 33.5px,#5649a9 34.5px,#475abc 41.5px,#475abc 46.5px,#ffffff 47.5px,#ffffff 64.5px,#4256ba 65.5px,#5c6ac5 120.5px,#99a0da 131.5px,#f6f6fc 144.5px,#ffffff 182.5px,#ffffff 220px)"></i>
<i style="background:linear-gradient(90deg,#ffffff 0px,#f4f4fb 7.5px,#dbdcf2 9.5px,#aaafdf 11.5px,#5a68c4 13.5px,#4558bb 15.5px,#6b3b97 16.5px,#dd1f3a 18.5px,#ed3827 24.5px,#e32634 31.5px,#dd1f3a 32.5px,#6b3b97 34.5px,#5649a9 35.5px,#475abc 43.5px,#475abc 46.5px,#ffffff 47.5px,#ffffff 64.5px,#4256ba 65.5px,#5e6cc5 129.5px,#949bd8 139.5px,#f7f7fc 150.5px,#ffffff 161.5px,#ffffff 220px)"></i>
<i style="background:linear-gradient(90deg,#ffffff 0px,#f2f2fb 7.5px,#d4d5ef 9.5px,#9aa0da 11.5px,#707bcb 12.5px,#5665c2 13.5px,#4c4fb2 15.5px,#7f3186 16.5px,#c6224e 17.5px,#e02337 18.5px,#ed3c27 24.5px,#e62930 31.5px,#e02337 32.5px,#c6224e 33.5px,#7f3186 34.5px,#5748a8 35.5px,#4256ba 41.5px,#475abc 46.5px,#ffffff 47.5px,#ffffff 64.5px,#4256ba 65.5px,#606ec6 137.5px,#858ed3 146.5px,#ececf9 150.5px,#ffffff 153.5px,#ffffff 220px)"></i>
<i style="background:linear-gradient(90deg,#ffffff 0px,#f7f7fc 6.5px,#e4e5f6 8.5px,#b8bbe4 10.5px,#6673c8 12.5px,#4c5dbe 14.5px,#524cad 15.5px,#882f7f 16.5px,#cf2146 17.5px,#e62a2f 19.5px,#ed3c27 25.5px,#e62a2f 31.5px,#cf2146 33.5px,#882f7f 34.5px,#5748a8 35.5px,#475abc 43.5px,#475abc 46.5px,#ffffff 47.5px,#ffffff 64.5px,#4256ba 65.5px,#626fc7 141.5px,#6b77ca 146.5px,#858ed3 147.5px,#b4b8e3 148.5px,#e8e8f7 150.5px,#ffffff 152.5px,#ffffff 220px)"></i>
<i style="background:linear-gradient(90deg,#ffffff 0px,#f7f7fc 6.5px,#e3e4f5 8.5px,#b6bae4 10.5px,#6370c7 12.5px,#4b5dbe 14.5px,#4c4fb2 15.5px,#7f3186 16.5px,#c6224e 17.5px,#e02337 18.5px,#ed3c27 24.5px,#e62930 31.5px,#e02337 32.5px,#c6224e 33.5px,#7f3186 34.5px,#5748a8 35.5px,#475abc 44.5px,#475abc 46.5px,#ffffff 47.5px,#ffffff 64.5px,#4256ba 65.5px,#626fc7 141.5px,#6b77ca 146.5px,#858ed3 147.5px,#b4b8e3 148.5px,#e8e8f7 150.5px,#ffffff 152.5px,#ffffff 220px)"></i>
<i style="background:linear-gradient(90deg,#ffffff 0px,#f7f7fc 6.5px,#e4e5f6 8.5px,#b8bbe4 10.5px,#6673c8 12.5px,#4c5dbe 14.5px,#4558bb 15.5px,#6b3b97 16.5px,#dd1f3a 18.5px,#ed3827 24.5px,#e32634 31.5px,#dd1f3a 32.5px,#6b3b97 34.5px,#5748a8 35.5px,#475abc 43.5px,#475abc 46.5px,#ffffff 47.5px,#ffffff 64.5px,#4256ba 65.5px,#606ec6 137.5px,#858ed3 146.5px,#ececf9 150.5px,#ffffff 153.5px,#ffffff 220px)"></i>
<i style="background:linear-gradient(90deg,#ffffff 0px,#f2f2fb 7.5px,#d4d5ef 9.5px,#9aa0da 11.5px,#707bcb 12.5px,#5665c2 13.5px,#475abc 15.5px,#4e4eaf 16.5px,#7b3189 17.5px,#b92558 18.5px,#de2039 19.5px,#eb2f29 26.5px,#de2039 31.5px,#b92558 32.5px,#7b3189 33.5px,#5748a8 34.5px,#4a51b3 40.5px,#475abc 44.5px,#475abc 46.5px,#ffffff 47.5px,#ffffff 64.5px,#4256ba 65.5px,#5e6cc5 129.5px,#949bd8 139.5px,#f7f7fc 150.5px,#ffffff 161.5px,#ffffff 220px)"></i>
<i style="background:linear-gradient(90deg,#ffffff 0px,#f4f4fb 7.5px,#dbdcf2 9.5px,#aaafdf 11.5px,#5a68c4 13.5px,#4458bb 16.5px,#524cad 17.5px,#78328c 18.5px,#db1e3d 20.5px,#e52831 27.5px,#db1e3d 30.5px,#78328c 32.5px,#5748a8 33.5px,#475abc 43.5px,#475abc 46.5px,#ffffff 47.5px,#ffffff 64.5px,#4356ba 65.5px,#5c6ac5 120.5px,#99a0da 131.5px,#f6f6fc 144.5px,#ffffff 182.5px,#ffffff 220px)"></i>
<i style="background:linear-gradient(90deg,#ffffff 0px,#f7f7fc 7.5px,#e4e5f6 9.5px,#babde5 11.5px,#6f7bcb 13.5px,#5665c2 14.5px,#4357bb 17.5px,#4753b6 18.5px,#ad2762 21.5px,#dc1e3c 23.5px,#dc1e3c 27.5px,#ad2762 29.5px,#653f9c 31.5px,#5648a9 33.5px,#475abc 42.5px,#475abc 46.5px,#ffffff 47.5px,#ffffff 64.5px,#4357bb 65.5px,#5e6cc5 111.5px,#a7acde 124.5px,#f5f5fc 138.5px,#ffffff 161.5px,#ffffff 220px)"></i>
<i style="background:linear-gradient(90deg,#ffffff 0px,#f4f4fb 8.5px,#c9cbeb 11.5px,#b3b7e2 12.5px,#6774c9 14.5px,#4e5fbf 16.5px,#4654b7 19.5px,#5947a6 21.5px,#843082 24.5px,#843082 26.5px,#5947a6 29.5px,#475abc 41.5px,#475abc 46.5px,#ffffff 47.5px,#ffffff 64.5px,#4659bc 65.5px,#606ec6 101.5px,#f3f3fb 131.5px,#ffffff 149.5px,#ffffff 220px)"></i>
<i style="background:linear-gradient(90deg,#ffffff 0px,#f8f8fd 8.5px,#d9daf1 11.5px,#b0b4e1 13.5px,#6875c9 15.5px,#4f60bf 17.5px,#4256ba 20.5px,#534aab 29.5px,#4558bb 38.5px,#475abc 46.5px,#ffffff 47.5px,#ffffff 64.5px,#4b5dbe 65.5px,#5665c3 74.5px,#6672c8 90.5px,#f2f2fb 124.5px,#ffffff 145.5px,#ffffff 220px)"></i>
<i style="background:linear-gradient(90deg,#ffffff 0px,#f7f7fc 9.5px,#d9daf1 12.5px,#b4b7e3 14.5px,#5967c4 17.5px,#4554b8 23.5px,#4852b5 33.5px,#475abc 46.5px,#ffffff 47.5px,#ffffff 64.5px,#5161c0 65.5px,#6d79cb 69.5px,#979ed9 90.5px,#f3f3fb 118.5px,#ffffff 148.5px,#ffffff 220px)"></i>
<i style="background:linear-gradient(90deg,#ffffff 0px,#f8f8fd 10.5px,#dddef3 13.5px,#a3a8dd 16.5px,#5867c3 19.5px,#4256ba 28.5px,#4b5dbe 37.5px,#475abc 46.5px,#ffffff 47.5px,#ffffff 64.5px,#5363c1 65.5px,#5a68c4 66.5px,#9aa1da 69.5px,#f9f9fd 118.5px,#ffffff 220px)"></i>
<i style="background:linear-gradient(90deg,#ffffff 0px,#f4f4fb 12.5px,#d6d7f0 15.5px,#a1a7dc 18.5px,#5f6cc6 21.5px,#4b5dbe 29.5px,#5363c1 36.5px,#475abc 40.5px,#475abc 46.5px,#ffffff 47.5px,#ffffff 64.5px,#5161c0 65.5px,#626fc7 67.5px,#959cd8 70.5px,#b8bce4 88.5px,#f8f8fd 120.5px,#ffffff 220px)"></i>
<i style="background:linear-gradient(90deg,#ffffff 0px,#f7f7fc 13.5px,#d6d7f0 17.5px,#9ca2da 21.5px,#6672c8 25.5px,#5a68c4 30.5px,#717dcc 34.5px,#5363c1 36.5px,#475abc 40.5px,#475abc 46.5px,#ffffff 47.5px,#ffffff 64.5px,#4b5dbe 65.5px,#707ccc 75.5px,#848ed2 88.5px,#acb1e0 97.5px,#ededf9 116.5px,#ffffff 146.5px,#ffffff 220px)"></i>
<i style="background:linear-gradient(90deg,#ffffff 0px,#f3f3fb 15.5px,#d3d5ef 20.5px,#9aa1da 28.5px,#959cd8 31.5px,#5363c1 36.5px,#475abc 40.5px,#475abc 46.5px,#ffffff 47.5px,#ffffff 64.5px,#4659bc 65.5px,#6370c7 92.5px,#c1c4e8 106.5px,#f5f5fc 127.5px,#ffffff 178.5px,#ffffff 220px)"></i>
<i style="background:linear-gradient(90deg,#ffffff 0px,#f3f3fb 15.5px,#acb1e0 29.5px,#717dcc 34.5px,#5363c1 36.5px,#475abc 40.5px,#475abc 46.5px,#ffffff 47.5px,#ffffff 64.5px,#4357bb 65.5px,#5967c4 94.5px,#a2a8dc 104.5px,#f2f2fb 130.5px,#ffffff 162.5px,#ffffff 220px)"></i>
<i style="background:linear-gradient(90deg,#ffffff 0px,#f3f3fb 15.5px,#acb1e0 29.5px,#717dcc 34.5px,#5363c1 36.5px,#475abc 40.5px,#475abc 46.5px,#ffffff 47.5px,#ffffff 64.5px,#4356ba 65.5px,#5967c4 95.5px,#c6c8ea 120.5px,#f5f5fc 136.5px,#ffffff 175.5px,#ffffff 220px)"></i>
<i style="background:linear-gradient(90deg,#ffffff 0px,#f3f3fb 15.5px,#acb1e0 29.5px,#717dcc 34.5px,#5363c1 36.5px,#475abc 40.5px,#475abc 46.5px,#ffffff 47.5px,#ffffff 64.5px,#4256ba 65.5px,#5d6ac5 102.5px,#e2e2f5 133.5px,#ffffff 151.5px,#ffffff 220px)"></i>
<i style="background:linear-gradient(90deg,#ffffff 0px,#f4f4fb 13.5px,#979ed9 27.5px,#959cd8 31.5px,#5363c1 36.5px,#475abc 40.5px,#475abc 46.5px,#ffffff 47.5px,#ffffff 64.5px,#4256ba 65.5px,#606dc6 110.5px,#e6e6f6 139.5px,#ffffff 156.5px,#ffffff 220px)"></i>
<i style="background:linear-gradient(90deg,#ffffff 0px,#f4f4fb 11.5px,#cacdec 16.5px,#6976c9 24.5px,#5c6ac5 29.5px,#717dcc 34.5px,#5363c1 36.5px,#475abc 40.5px,#475abc 46.5px,#ffffff 47.5px,#ffffff 64.5px,#4256ba 65.5px,#5d6bc5 116.5px,#ebebf8 145.5px,#ffffff 162.5px,#ffffff 220px)"></i>
<i style="background:linear-gradient(90deg,#ffffff 0px,#f1f1fa 10.5px,#bbbee5 15.5px,#606ec6 20.5px,#4e5fbf 28.5px,#5363c1 36.5px,#475abc 40.5px,#475abc 46.5px,#ffffff 47.5px,#ffffff 64.5px,#4256ba 65.5px,#5b69c4 122.5px,#adb2e0 137.5px,#f4f4fb 153.5px,#ffffff 178.5px,#ffffff 220px)"></i>
<i style="background:linear-gradient(90deg,#ffffff 0px,#f4f4fb 8.5px,#d9daf1 11.5px,#aaafdf 14.5px,#6471c7 17.5px,#4d5ebf 21.5px,#4a5cbe 34.5px,#4b5dbe 37.5px,#475abc 46.5px,#ffffff 47.5px,#ffffff 64.5px,#4256ba 65.5px,#5967c4 127.5px,#9aa1da 140.5px,#f1f1fa 156.5px,#ffffff 172.5px,#ffffff 220px)"></i>
<i style="background:linear-gradient(90deg,#ffffff 0px,#f3f3fb 7.5px,#d4d6ef 10.5px,#b4b8e3 12.5px,#6471c8 15.5px,#4a5cbd 19.5px,#4753b6 25.5px,#5748a8 29.5px,#4357ba 34.5px,#475abc 46.5px,#ffffff 47.5px,#ffffff 64.5px,#4256ba 65.5px,#5866c3 131.5px,#7c87d0 141.5px,#ededf9 159.5px,#ffffff 171.5px,#ffffff 220px)"></i>
<i style="background:linear-gradient(90deg,#ffffff 0px,#ededf9 7.5px,#adb2e0 11.5px,#5967c4 14.5px,#4455b9 20.5px,#514cad 23.5px,#8d2e7b 26.5px,#a3296a 28.5px,#9c2b6f 30.5px,#663e9b 33.5px,#4852b5 35.5px,#475abc 46.5px,#ffffff 47.5px,#ffffff 64.5px,#4256ba 65.5px,#5766c3 136.5px,#737ecd 145.5px,#f4f4fb 165.5px,#ffffff 182.5px,#ffffff 220px)"></i>
<i style="background:linear-gradient(90deg,#ffffff 0px,#eeeef9 6.5px,#abb0e0 10.5px,#6c78ca 12.5px,#5161c0 14.5px,#4455b8 18.5px,#4f4daf 21.5px,#b0275f 24.5px,#cf2146 25.5px,#df2138 27.5px,#dd1f3b 31.5px,#cf2146 32.5px,#693c99 35.5px,#4c4fb1 36.5px,#475abc 45.5px,#475abc 46.5px,#ffffff 47.5px,#ffffff 64.5px,#4256ba 65.5px,#4653b6 77.5px,#5766c3 141.5px,#707ccc 150.5px,#f5f5fc 169.5px,#ffffff 190.5px,#ffffff 220px)"></i>
<i style="background:linear-gradient(90deg,#ffffff 0px,#f0f0fa 5.5px,#b0b5e1 9.5px,#6d79ca 11.5px,#5766c3 12.5px,#4356ba 16.5px,#544aab 20.5px,#76338e 21.5px,#d61f41 23.5px,#e92c2c 29.5px,#d61f41 34.5px,#76338e 36.5px,#663e9b 37.5px,#5c45a4 40.5px,#475abc 42.5px,#475abc 46.5px,#ffffff 47.5px,#ffffff 64.5px,#4256ba 65.5px,#4951b4 68.5px,#723691 73.5px,#673d9b 78.5px,#4458bb 82.5px,#5b69c4 150.5px,#929ad7 161.5px,#efeffa 172.5px,#ffffff 179.5px,#ffffff 220px)"></i>
<i style="background:linear-gradient(90deg,#fefeff 0px,#ececf9 5.5px,#b7bbe4 8.5px,#5967c3 11.5px,#4256ba 15.5px,#524bac 19.5px,#77338d 20.5px,#dd1f3a 22.5px,#ed3d27 28.5px,#e22534 34.5px,#dd1f3a 35.5px,#b3265d 36.5px,#c9224b 38.5px,#b3265d 40.5px,#743590 42.5px,#5549aa 43.5px,#475abc 44.5px,#475abc 46.5px,#ffffff 47.5px,#ffffff 64.5px,#4256ba 65.5px,#4f4daf 67.5px,#892f7e 72.5px,#942c75 75.5px,#693c99 80.5px,#4357ba 83.5px,#5f6dc6 156.5px,#8e96d6 166.5px,#d4d6ef 172.5px,#fafafd 175.5px,#ffffff 220px)"></i>
<i style="background:linear-gradient(90deg,#fefeff 0px,#e6e7f7 5.5px,#a8addf 8.5px,#616fc7 10.5px,#4357bb 14.5px,#534bac 18.5px,#6b3b97 19.5px,#dd1f3b 21.5px,#ee4726 26.5px,#ef4d25 30.5px,#e12436 36.5px,#de2039 41.5px,#c9224b 42.5px,#663e9b 44.5px,#4558bb 45.5px,#475abc 46.5px,#ffffff 47.5px,#ffffff 64.5px,#4256ba 65.5px,#4f4daf 67.5px,#892f7e 72.5px,#942c75 75.5px,#693c99 80.5px,#4357ba 83.5px,#626fc7 161.5px,#838cd2 170.5px,#ebebf8 174.5px,#ffffff 177.5px,#ffffff 220px)"></i>
<i style="background:linear-gradient(90deg,#fefeff 0px,#eeeef9 4.5px,#b9bde5 7.5px,#5867c3 10.5px,#4455b9 14.5px,#544aaa 18.5px,#833083 19.5px,#c6224d 20.5px,#e12336 21.5px,#ef4b25 25.5px,#f15b23 29.5px,#ee4026 33.5px,#e72a2f 35.5px,#e62930 41.5px,#dc1e3b 43.5px,#663e9b 45.5px,#475abc 46.5px,#ffffff 47.5px,#ffffff 64.5px,#4256ba 65.5px,#4951b4 68.5px,#723691 73.5px,#673d9b 78.5px,#4458bb 82.5px,#616ec6 163.5px,#6e7acb 170.5px,#8790d4 171.5px,#b5b9e3 172.5px,#e9e9f7 174.5px,#ffffff 176.5px,#ffffff 220px)"></i>
<i style="background:linear-gradient(90deg,#fefeff 0px,#ececf9 4.5px,#b4b8e3 7.5px,#6b77ca 9.5px,#4e5fbf 11.5px,#4653b6 14.5px,#5f43a1 18.5px,#dc1e3c 20.5px,#ef4825 24.5px,#f16023 28.5px,#f05324 32.5px,#eb2e2a 35.5px,#ed3727 39.5px,#db1e3c 44.5px,#5649a9 46.5px,#ffffff 47.5px,#ffffff 64.5px,#4256ba 65.5px,#4653b6 77.5px,#5b69c4 160.5px,#6b77ca 170.5px,#848dd2 171.5px,#b4b8e3 172.5px,#e8e8f7 174.5px,#ffffff 176.5px,#ffffff 220px)"></i>
<i style="background:linear-gradient(90deg,#fefeff 0px,#ebebf8 4.5px,#b1b5e2 7.5px,#6673c8 9.5px,#4d5fbf 11.5px,#4852b5 14.5px,#544aab 17.5px,#63409e 18.5px,#dd1f3b 20.5px,#ef4a25 24.5px,#f16123 28.5px,#f05524 32.5px,#ed3627 35.5px,#ed3c27 40.5px,#e02337 44.5px,#bc2456 45.5px,#6f3894 46.5px,#ffffff 47.5px,#ffffff 64.5px,#4256ba 65.5px,#5d6bc5 161.5px,#6b77ca 170.5px,#848dd2 171.5px,#b4b8e3 172.5px,#e8e8f7 174.5px,#ffffff 176.5px,#ffffff 220px)"></i>
<i style="background:linear-gradient(90deg,#fefeff 0px,#ebebf8 4.5px,#b1b5e2 7.5px,#6673c8 9.5px,#4d5fbf 11.5px,#4852b5 14.5px,#5f43a1 18.5px,#dc1e3c 20.5px,#ef4825 24.5px,#f16023 28.5px,#f05324 32.5px,#ed3927 34.5px,#ee4026 40.5px,#e32634 44.5px,#d42042 45.5px,#813084 46.5px,#ffffff 47.5px,#ffffff 64.5px,#4256ba 65.5px,#5d6bc5 160.5px,#6e7acb 170.5px,#8790d4 171.5px,#b5b9e3 172.5px,#e9e9f7 174.5px,#ffffff 176.5px,#ffffff 220px)"></i>
<i style="background:linear-gradient(90deg,#fefeff 0px,#ececf9 4.5px,#b4b8e3 7.5px,#6b77ca 9.5px,#4e5fbf 11.5px,#4653b6 14.5px,#5549aa 18.5px,#833083 19.5px,#c6224d 20.5px,#e12336 21.5px,#ef4b25 25.5px,#f15b23 29.5px,#ee4026 33.5px,#ec3428 34.5px,#ee4226 39.5px,#e32633 44.5px,#dc1e3c 45.5px,#892f7e 46.5px,#ffffff 47.5px,#ffffff 64.5px,#4256ba 65.5px,#5d6bc5 156.5px,#848dd2 170.5px,#ebebf8 174.5px,#ffffff 177.5px,#ffffff 220px)"></i>
<i style="background:linear-gradient(90deg,#fefeff 0px,#eeeef9 4.5px,#b9bde5 7.5px,#5867c3 10.5px,#4455b9 14.5px,#544aaa 18.5px,#6b3b97 19.5px,#dd1f3b 21.5px,#ee4726 26.5px,#ef4d25 30.5px,#ec3228 33.5px,#ee4226 39.5px,#e32634 44.5px,#d42042 45.5px,#813084 46.5px,#ffffff 47.5px,#ffffff 64.5px,#4256ba 65.5px,#5c69c5 149.5px,#8f97d6 164.5px,#c3c6e9 171.5px,#fafafd 175.5px,#ffffff 220px)"></i>
<i style="background:linear-gradient(90deg,#fefeff 0px,#e6e7f7 5.5px,#a8addf 8.5px,#616fc7 10.5px,#4357bb 14.5px,#544aaa 19.5px,#77338d 20.5px,#dd1f3a 22.5px,#ed3d27 28.5px,#eb2f2a 34.5px,#ee3f26 39.5px,#e02337 44.5px,#bc2456 45.5px,#6f3894 46.5px,#ffffff 47.5px,#ffffff 64.5px,#4256ba 65.5px,#5d6ac5 142.5px,#9aa0da 158.5px,#fdfdfe 175.5px,#ffffff 220px)"></i>
<i style="background:linear-gradient(90deg,#fefeff 0px,#ececf9 5.5px,#b7bbe4 8.5px,#5967c3 11.5px,#4256ba 15.5px,#544aab 20.5px,#76338e 21.5px,#d61f41 23.5px,#e92c2c 29.5px,#e72b2e 34.5px,#ed3727 39.5px,#db1e3c 44.5px,#5649a9 46.5px,#ffffff 47.5px,#ffffff 64.5px,#4256ba 65.5px,#5d6bc5 134.5px,#9ea5db 151.5px,#f6f6fc 169.5px,#ffffff 199.5px,#ffffff 220px)"></i>
<i style="background:linear-gradient(90deg,#ffffff 0px,#f0f0fa 5.5px,#b0b5e1 9.5px,#6d79ca 11.5px,#5766c3 12.5px,#4356ba 16.5px,#534bac 21.5px,#8b2e7d 23.5px,#cf2146 25.5px,#df2138 27.5px,#dd1f3b 31.5px,#cf2146 32.5px,#e62930 35.5px,#e62930 41.5px,#dc1e3b 43.5px,#663e9b 45.5px,#475abc 46.5px,#ffffff 47.5px,#ffffff 64.5px,#4256ba 65.5px,#606dc6 126.5px,#a9aedf 145.5px,#f8f8fd 165.5px,#ffffff 220px)"></i>
<i style="background:linear-gradient(90deg,#ffffff 0px,#eeeef9 6.5px,#abb0e0 10.5px,#6c78ca 12.5px,#5161c0 14.5px,#4455b8 18.5px,#524bac 23.5px,#8d2e7b 26.5px,#a3296a 28.5px,#9c2b6f 30.5px,#78328c 32.5px,#972c73 33.5px,#c9224b 34.5px,#de2039 35.5px,#de2039 41.5px,#c9224b 42.5px,#663e9b 44.5px,#4558bb 45.5px,#475abc 46.5px,#ffffff 47.5px,#ffffff 64.5px,#4256ba 65.5px,#616fc7 117.5px,#aeb3e1 138.5px,#f8f8fd 160.5px,#ffffff 220px)"></i>
<i style="background:linear-gradient(90deg,#ffffff 0px,#ededf9 7.5px,#adb2e0 11.5px,#5967c4 14.5px,#4455b9 20.5px,#5748a8 29.5px,#4e4eb0 32.5px,#5549aa 33.5px,#972c73 35.5px,#c32350 37.5px,#c32350 39.5px,#972c73 41.5px,#5549aa 43.5px,#475abc 44.5px,#475abc 46.5px,#ffffff 47.5px,#ffffff 64.5px,#4256ba 65.5px,#5363c1 86.5px,#6471c7 107.5px,#f6f6fc 154.5px,#ffffff 200.5px,#ffffff 220px)"></i>
<i style="background:linear-gradient(90deg,#ffffff 0px,#f3f3fb 7.5px,#d4d6ef 10.5px,#b4b8e3 12.5px,#6471c8 15.5px,#4a5cbd 19.5px,#4355b9 33.5px,#4c50b2 35.5px,#6a3c98 38.5px,#475abc 42.5px,#475abc 46.5px,#ffffff 47.5px,#ffffff 64.5px,#4256ba 65.5px,#5262c1 85.5px,#6370c7 89.5px,#8d95d5 111.5px,#f3f3fb 147.5px,#ffffff 178.5px,#ffffff 220px)"></i>
<i style="background:linear-gradient(90deg,#ffffff 0px,#f4f4fb 8.5px,#d9daf1 11.5px,#aaafdf 14.5px,#6471c7 17.5px,#4d5ebf 21.5px,#4a5cbe 34.5px,#4b5dbe 37.5px,#475abc 46.5px,#ffffff 47.5px,#ffffff 64.5px,#4256ba 65.5px,#5262c1 85.5px,#606ec6 87.5px,#7781ce 88.5px,#f6f6fc 143.5px,#ffffff 199.5px,#ffffff 220px)"></i>
<i style="background:linear-gradient(90deg,#ffffff 0px,#f1f1fa 10.5px,#bbbee5 15.5px,#606ec6 20.5px,#4e5fbf 28.5px,#5363c1 36.5px,#475abc 40.5px,#475abc 46.5px,#ffffff 47.5px,#ffffff 64.5px,#4256ba 65.5px,#5363c1 86.5px,#747fcd 89.5px,#a3a8dd 93.5px,#f9f9fd 140.5px,#ffffff 220px)"></i>
<i style="background:linear-gradient(90deg,#ffffff 0px,#f4f4fb 11.5px,#cacdec 16.5px,#6976c9 24.5px,#5c6ac5 29.5px,#717dcc 34.5px,#5363c1 36.5px,#475abc 40.5px,#475abc 46.5px,#ffffff 47.5px,#ffffff 64.5px,#4256ba 65.5px,#5262c1 87.5px,#7d87d0 94.5px,#babde5 103.5px,#eaeaf8 121.5px,#ffffff 155.5px,#ffffff 220px)"></i>
<i style="background:linear-gradient(90deg,#ffffff 0px,#f4f4fb 13.5px,#979ed9 27.5px,#959cd8 31.5px,#5363c1 36.5px,#475abc 40.5px,#475abc 46.5px,#ffffff 47.5px,#ffffff 64.5px,#4256ba 65.5px,#5665c2 91.5px,#6773c8 95.5px,#9ea4db 103.5px,#f2f2fb 126.5px,#ffffff 158.5px,#ffffff 220px)"></i>
<i style="background:linear-gradient(90deg,#ffffff 0px,#f3f3fb 15.5px,#acb1e0 29.5px,#717dcc 34.5px,#5363c1 36.5px,#475abc 40.5px,#475abc 46.5px,#ffffff 47.5px,#ffffff 64.5px,#4256ba 65.5px,#5866c3 94.5px,#a8adde 112.5px,#f3f3fb 131.5px,#ffffff 154.5px,#ffffff 220px)"></i>
<i style="background:linear-gradient(90deg,#ffffff 0px,#f3f3fb 15.5px,#acb1e0 29.5px,#717dcc 34.5px,#5363c1 36.5px,#475abc 40.5px,#475abc 46.5px,#ffffff 47.5px,#ffffff 64.5px,#4256ba 65.5px,#5e6cc5 104.5px,#f1f1fa 135.5px,#ffffff 153.5px,#ffffff 220px)"></i>
<i style="background:linear-gradient(90deg,#ffffff 0px,#f0f0fa 14.5px,#acb1e0 29.5px,#717dcc 34.5px,#5363c1 36.5px,#475abc 40.5px,#475abc 46.5px,#ffffff 47.5px,#ffffff 64.5px,#4256ba 65.5px,#5c6ac5 111.5px,#a8addf 125.5px,#f3f3fb 140.5px,#ffffff 158.5px,#ffffff 220px)"></i>
<i style="background:linear-gradient(90deg,#ffffff 0px,#efeffa 11.5px,#99a0d9 24.5px,#a0a6dc 30.5px,#717dcc 34.5px,#5363c1 36.5px,#475abc 40.5px,#475abc 46.5px,#ffffff 47.5px,#ffffff 64.5px,#4256ba 65.5px,#5a68c4 117.5px,#9fa6dc 130.5px,#f5f5fc 145.5px,#ffffff 169.5px,#ffffff 220px)"></i>
<i style="background:linear-gradient(90deg,#ffffff 0px,#eeeef9 9.5px,#a6abde 16.5px,#6a76ca 21.5px,#5a68c4 26.5px,#737ecc 31.5px,#7d87d0 33.5px,#5363c1 36.5px,#475abc 40.5px,#475abc 46.5px,#ffffff 47.5px,#ffffff 64.5px,#4256ba 65.5px,#5968c4 123.5px,#979ed9 135.5px,#f5f5fc 149.5px,#ffffff 173.5px,#ffffff 220px)"></i>
<i style="background:linear-gradient(90deg,#ffffff 0px,#eeeef9 7.5px,#a5abde 13.5px,#5e6cc5 17.5px,#4d5ebf 27.5px,#5d6bc5 35.5px,#475abc 38.5px,#475abc 46.5px,#ffffff 47.5px,#ffffff 64.5px,#4256ba 65.5px,#5968c4 129.5px,#8f97d6 140.5px,#f4f4fb 153.5px,#ffffff 167.5px,#ffffff 220px)"></i>
<i style="background:linear-gradient(90deg,#fefeff 0px,#ebebf8 6.5px,#b6bae4 10.5px,#5e6cc5 14.5px,#4558bb 23.5px,#5363c1 36.5px,#475abc 40.5px,#475abc 46.5px,#ffffff 47.5px,#ffffff 64.5px,#4256ba 65.5px,#4951b4 72.5px,#63409e 78.5px,#504cae 84.5px,#4558bb 87.5px,#606ec6 137.5px,#989fd9 147.5px,#fbfbfe 157.5px,#ffffff 220px)"></i>
<i style="background:linear-gradient(90deg,#fdfdfe 0px,#e7e7f7 5.5px,#a6acde 9.5px,#5b69c4 12.5px,#4455b8 20.5px,#534aab 29.5px,#4256ba 32.5px,#475abc 38.5px,#475abc 46.5px,#ffffff 47.5px,#ffffff 64.5px,#4256ba 65.5px,#4a51b3 69.5px,#833083 76.5px,#833083 81.5px,#4357bb 89.5px,#606dc6 142.5px,#8f97d6 152.5px,#ececf9 156.5px,#ffffff 159.5px,#ffffff 220px)"></i>
<i style="background:linear-gradient(90deg,#fcfcfe 0px,#e5e6f6 4.5px,#b6bae4 7.5px,#6370c7 10.5px,#485bbd 14.5px,#4c50b2 19.5px,#504dae 22.5px,#8e2e7a 26.5px,#992b72 29.5px,#6d3995 32.5px,#4753b6 34.5px,#475abc 46.5px,#ffffff 47.5px,#ffffff 64.5px,#4256ba 65.5px,#4c4fb1 68.5px,#8f2d7a 74.5px,#a62967 79.5px,#843082 84.5px,#4357ba 90.5px,#6370c7 147.5px,#707bcb 152.5px,#8992d4 153.5px,#b6bae4 154.5px,#e9e9f8 156.5px,#ffffff 158.5px,#ffffff 220px)"></i>
<i style="background:linear-gradient(90deg,#f9f9fd 0px,#e6e7f7 3.5px,#b4b8e3 6.5px,#5c69c5 9.5px,#4356ba 14.5px,#5c45a4 21.5px,#ba2557 24.5px,#d42042 25.5px,#de2139 29.5px,#d42042 31.5px,#76338d 34.5px,#4653b6 36.5px,#475abc 46.5px,#ffffff 47.5px,#ffffff 64.5px,#4256ba 65.5px,#4c4fb1 68.5px,#8f2d7a 74.5px,#a62967 79.5px,#843082 84.5px,#4357ba 90.5px,#6370c7 148.5px,#6b77ca 152.5px,#848dd2 153.5px,#b4b8e3 154.5px,#e8e8f7 156.5px,#ffffff 158.5px,#ffffff 220px)"></i>
<i style="background:linear-gradient(90deg,#f7f7fc 0px,#dadbf2 3.5px,#b7bae4 5.5px,#5b69c4 8.5px,#4455b9 13.5px,#554aaa 19.5px,#683d9a 20.5px,#be2454 22.5px,#dd1f3a 23.5px,#e62a2f 30.5px,#dd1f3a 33.5px,#be2454 34.5px,#683d9a 36.5px,#4951b4 37.5px,#475abc 46.5px,#ffffff 47.5px,#ffffff 64.5px,#4256ba 65.5px,#4a51b3 69.5px,#833083 76.5px,#833083 81.5px,#4357bb 89.5px,#6370c7 148.5px,#6b77ca 152.5px,#848dd2 153.5px,#b4b8e3 154.5px,#e8e8f7 156.5px,#ffffff 158.5px,#ffffff 220px)"></i>
<i style="background:linear-gradient(90deg,#f4f4fb 0px,#cfd1ed 3.5px,#a3a8dd 5.5px,#616ec6 7.5px,#4458bb 11.5px,#5649a9 18.5px,#693c99 19.5px,#cf2146 21.5px,#e52831 23.5px,#ee3f26 28.5px,#e02237 34.5px,#cf2146 35.5px,#693c99 37.5px,#4a51b3 38.5px,#475abc 46.5px,#ffffff 47.5px,#ffffff 64.5px,#4256ba 65.5px,#4951b4 72.5px,#63409e 78.5px,#504cae 84.5px,#4458bb 87.5px,#616ec6 146.5px,#707bcb 152.5px,#8992d4 153.5px,#b6bae4 154.5px,#e9e9f8 156.5px,#ffffff 158.5px,#ffffff 220px)"></i>
<i style="background:linear-gradient(90deg,#f1f1fa 0px,#c6c9ea 3.5px,#b3b7e2 4.5px,#6e79cb 6.5px,#5766c3 7.5px,#4355b9 11.5px,#5f43a1 18.5px,#cb2149 20.5px,#e02337 21.5px,#ef4f25 26.5px,#ef4f25 30.5px,#e02337 35.5px,#cb2149 36.5px,#5f43a1 38.5px,#4951b4 39.5px,#475abc 46.5px,#ffffff 47.5px,#ffffff 64.5px,#4256ba 65.5px,#5b69c4 140.5px,#8790d3 151.5px,#8f97d6 152.5px,#ececf9 156.5px,#ffffff 159.5px,#ffffff 220px)"></i>
<i style="background:linear-gradient(90deg,#efeffa 0px,#bfc2e7 3.5px,#616ec6 6.5px,#4357bb 10.5px,#5748a8 17.5px,#74348f 18.5px,#b3265c 19.5px,#de2139 20.5px,#ee3e26 23.5px,#f26422 27.5px,#f05824 31.5px,#e52831 35.5px,#de2139 36.5px,#b3265c 37.5px,#74348f 38.5px,#4c4fb1 39.5px,#475abc 45.5px,#475abc 46.5px,#ffffff 47.5px,#ffffff 64.5px,#4256ba 65.5px,#5a68c4 135.5px,#8f97d6 146.5px,#fbfbfe 157.5px,#ffffff 220px)"></i>
<i style="background:linear-gradient(90deg,#ededf9 0px,#bbbee6 3.5px,#5a68c4 6.5px,#4256ba 10.5px,#5847a7 17.5px,#8a2e7e 18.5px,#cd2148 19.5px,#e82c2d 21.5px,#f26a22 26.5px,#f26a22 30.5px,#ef4925 33.5px,#e12435 36.5px,#cd2148 37.5px,#8a2e7e 38.5px,#5847a7 39.5px,#4256ba 41.5px,#475abc 46.5px,#ffffff 47.5px,#ffffff 64.5px,#4256ba 65.5px,#5968c4 129.5px,#8f97d6 140.5px,#f4f4fb 153.5px,#ffffff 167.5px,#ffffff 220px)"></i>
<i style="background:linear-gradient(90deg,#ededf9 0px,#babde5 3.5px,#5967c4 6.5px,#4256ba 10.5px,#5f43a1 17.5px,#962c74 18.5px,#da1e3d 19.5px,#ed3d27 22.5px,#f26822 25.5px,#f37321 29.5px,#f15e23 32.5px,#e32633 36.5px,#da1e3d 37.5px,#962c74 38.5px,#5f43a1 39.5px,#4951b4 40.5px,#475abc 46.5px,#ffffff 47.5px,#ffffff 64.5px,#4256ba 65.5px,#5968c4 123.5px,#979ed9 135.5px,#f5f5fc 149.5px,#ffffff 173.5px,#ffffff 220px)"></i>
<i style="background:linear-gradient(90deg,#ededf9 0px,#bbbee6 3.5px,#5a68c4 6.5px,#4256ba 10.5px,#5f43a1 17.5px,#962c74 18.5px,#da1e3d 19.5px,#ed3d27 22.5px,#f26822 25.5px,#f37321 29.5px,#f15e23 32.5px,#e32633 36.5px,#da1e3d 37.5px,#962c74 38.5px,#5f43a1 39.5px,#4952b4 40.5px,#475abc 46.5px,#ffffff 47.5px,#ffffff 64.5px,#4256ba 65.5px,#5a68c4 117.5px,#9fa6dc 130.5px,#f5f5fc 145.5px,#ffffff 169.5px,#ffffff 220px)"></i>
<i style="background:linear-gradient(90deg,#efeffa 0px,#bfc2e7 3.5px,#616ec6 6.5px,#4357bb 10.5px,#5847a7 17.5px,#8a2e7e 18.5px,#cd2148 19.5px,#e82c2d 21.5px,#f26a22 26.5px,#f26a22 30.5px,#ef4925 33.5px,#e12435 36.5px,#cd2148 37.5px,#8a2e7e 38.5px,#5847a7 39.5px,#4753b6 40.5px,#475abc 46.5px,#ffffff 47.5px,#ffffff 64.5px,#4256ba 65.5px,#5c6ac5 111.5px,#a8addf 125.5px,#f3f3fb 140.5px,#ffffff 158.5px,#ffffff 220px)"></i>
<i style="background:linear-gradient(90deg,#f1f1fa 0px,#c6c9ea 3.5px,#b3b7e2 4.5px,#6e79cb 6.5px,#5766c3 7.5px,#4355b9 11.5px,#5649a9 17.5px,#74348f 18.5px,#b3265c 19.5px,#de2139 20.5px,#ee3e26 23.5px,#f26422 27.5px,#f05824 31.5px,#e52831 35.5px,#de2139 36.5px,#b3265c 37.5px,#74348f 38.5px,#4b50b2 39.5px,#4559bb 41.5px,#475abc 46.5px,#ffffff 47.5px,#ffffff 64.5px,#4256ba 65.5px,#626fc7 105.5px,#efeffa 134.5px,#ffffff 150.5px,#ffffff 220px)"></i>
<i style="background:linear-gradient(90deg,#f4f4fb 0px,#cfd1ed 3.5px,#a3a8dd 5.5px,#616ec6 7.5px,#4458bb 11.5px,#5f43a1 18.5px,#cb2149 20.5px,#e02337 21.5px,#ef4f25 26.5px,#ef4f25 30.5px,#e02337 35.5px,#cb2149 36.5px,#5f43a1 38.5px,#4455b8 39.5px,#475abc 46.5px,#ffffff 47.5px,#ffffff 64.5px,#4357ba 65.5px,#5463c1 82.5px,#626fc7 97.5px,#eeeef9 129.5px,#ffffff 147.5px,#ffffff 220px)"></i>
<i style="background:linear-gradient(90deg,#f7f7fc 0px,#dadbf2 3.5px,#b7bae4 5.5px,#5b69c4 8.5px,#4455b9 13.5px,#544aab 18.5px,#693c99 19.5px,#cf2146 21.5px,#e52831 23.5px,#ee3f26 28.5px,#e02237 34.5px,#cf2146 35.5px,#693c99 37.5px,#4554b8 38.5px,#475abc 46.5px,#ffffff 47.5px,#ffffff 64.5px,#4357ba 65.5px,#5967c3 77.5px,#7782ce 94.5px,#e9e9f8 122.5px,#ffffff 141.5px,#ffffff 220px)"></i>
<i style="background:linear-gradient(90deg,#f9f9fd 0px,#e6e7f7 3.5px,#b4b8e3 6.5px,#5c69c5 9.5px,#4356ba 14.5px,#524cad 19.5px,#683d9a 20.5px,#be2454 22.5px,#dd1f3a 23.5px,#e62a2f 30.5px,#dd1f3a 33.5px,#be2454 34.5px,#683d9a 36.5px,#4852b5 37.5px,#475abc 46.5px,#ffffff 47.5px,#ffffff 64.5px,#4357ba 65.5px,#5766c3 72.5px,#6d79cb 75.5px,#9ba1da 94.5px,#f4f4fb 122.5px,#ffffff 154.5px,#ffffff 220px)"></i>
<i style="background:linear-gradient(90deg,#fcfcfe 0px,#e5e6f6 4.5px,#b6bae4 7.5px,#6370c7 10.5px,#485bbd 14.5px,#4c50b2 19.5px,#5c45a4 21.5px,#ba2557 24.5px,#d42042 25.5px,#de2139 29.5px,#d42042 31.5px,#76338d 34.5px,#4357ba 36.5px,#475abc 46.5px,#ffffff 47.5px,#ffffff 64.5px,#4357ba 65.5px,#5a68c4 73.5px,#8e96d6 76.5px,#f6f6fc 119.5px,#ffffff 200.5px,#ffffff 220px)"></i>
<i style="background:linear-gradient(90deg,#fdfdfe 0px,#e7e7f7 5.5px,#a6acde 9.5px,#5b69c4 12.5px,#4455b8 20.5px,#4852b5 22.5px,#8e2e7a 26.5px,#992b72 29.5px,#6d3995 32.5px,#4753b6 34.5px,#4b5dbe 37.5px,#475abc 46.5px,#ffffff 47.5px,#ffffff 64.5px,#4357ba 65.5px,#5e6bc5 76.5px,#a6abde 96.5px,#f1f1fa 116.5px,#ffffff 132.5px,#ffffff 220px)"></i>
<i style="background:linear-gradient(90deg,#fefeff 0px,#ebebf8 6.5px,#b6bae4 10.5px,#5e6cc5 14.5px,#4558bb 23.5px,#4e4eb0 26.5px,#534aab 29.5px,#4659bc 32.5px,#5363c1 36.5px,#475abc 40.5px,#475abc 46.5px,#ffffff 47.5px,#ffffff 64.5px,#4256ba 65.5px,#6370c7 92.5px,#c6c8ea 107.5px,#f2f2fb 118.5px,#ffffff 131.5px,#ffffff 220px)"></i>
<i style="background:linear-gradient(90deg,#ffffff 0px,#eeeef9 7.5px,#a5abde 13.5px,#5e6cc5 17.5px,#4d5ebf 27.5px,#5d6bc5 35.5px,#475abc 38.5px,#475abc 46.5px,#ffffff 47.5px,#ffffff 64.5px,#4256ba 65.5px,#5967c4 94.5px,#c5c7e9 108.5px,#f4f4fb 119.5px,#ffffff 132.5px,#ffffff 220px)"></i>
<i style="background:linear-gradient(90deg,#ffffff 0px,#eeeef9 9.5px,#a6abde 16.5px,#6a76ca 21.5px,#5a68c4 26.5px,#737ecc 31.5px,#7d87d0 33.5px,#5363c1 36.5px,#475abc 40.5px,#475abc 46.5px,#ffffff 47.5px,#ffffff 64.5px,#4256ba 65.5px,#5967c4 95.5px,#bdc0e6 107.5px,#f3f3fb 119.5px,#ffffff 131.5px,#ffffff 220px)"></i>
<i style="background:linear-gradient(90deg,#ffffff 0px,#efeffa 11.5px,#99a0d9 24.5px,#a0a6dc 30.5px,#717dcc 34.5px,#5363c1 36.5px,#475abc 40.5px,#475abc 46.5px,#ffffff 47.5px,#ffffff 64.5px,#4256ba 65.5px,#5c69c5 102.5px,#929ad7 111.5px,#f3f3fb 121.5px,#ffffff 131.5px,#ffffff 220px)"></i>
<i style="background:linear-gradient(90deg,#ffffff 0px,#f0f0fa 14.5px,#acb1e0 29.5px,#717dcc 34.5px,#5363c1 36.5px,#475abc 40.5px,#475abc 46.5px,#ffffff 47.5px,#ffffff 64.5px,#4256ba 65.5px,#5f6dc6 112.5px,#858fd3 119.5px,#f2f2fb 127.5px,#ffffff 131.5px,#ffffff 220px)"></i>
<i style="background:linear-gradient(90deg,#ffffff 0px,#f3f3fb 15.5px,#acb1e0 29.5px,#717dcc 34.5px,#5363c1 36.5px,#475abc 40.5px,#475abc 46.5px,#ffffff 47.5px,#ffffff 64.5px,#4256ba 65.5px,#6370c7 119.5px,#6c78ca 123.5px,#868fd3 124.5px,#b4b8e3 125.5px,#e8e8f7 127.5px,#fdfdfe 129.5px,#ffffff 220px)"></i>
<i style="background:linear-gradient(90deg,#ffffff 0px,#f3f3fb 15.5px,#acb1e0 29.5px,#717dcc 34.5px,#5363c1 36.5px,#475abc 40.5px,#475abc 46.5px,#ffffff 47.5px,#ffffff 64.5px,#4256ba 65.5px,#6370c7 119.5px,#6c78ca 123.5px,#868fd3 124.5px,#b4b8e3 125.5px,#e8e8f7 127.5px,#f9f9fd 129.5px,#ffffff 220px)"></i>
<i style="background:linear-gradient(90deg,#ffffff 0px,#f3f3fb 15.5px,#acb1e0 29.5px,#717dcc 34.5px,#5363c1 36.5px,#475abc 40.5px,#475abc 46.5px,#ffffff 47.5px,#ffffff 64.5px,#4256ba 65.5px,#5f6dc6 112.5px,#858fd3 119.5px,#efeffa 127.5px,#ffffff 154.5px,#ffffff 220px)"></i>
<i style="background:linear-gradient(90deg,#ffffff 0px,#f3f3fb 15.5px,#c6c9ea 23.5px,#9aa1da 29.5px,#8992d4 32.5px,#5363c1 36.5px,#475abc 40.5px,#475abc 46.5px,#ffffff 47.5px,#ffffff 64.5px,#4256ba 65.5px,#5c69c5 102.5px,#929ad7 111.5px,#b9bce5 115.5px,#f5f5fc 136.5px,#ffffff 176.5px,#ffffff 220px)"></i>
<i style="background:linear-gradient(90deg,#ffffff 0px,#f3f3fb 15.5px,#e4e4f6 18.5px,#6975c9 26.5px,#5968c4 30.5px,#717dcc 34.5px,#5363c1 36.5px,#475abc 40.5px,#475abc 46.5px,#ffffff 47.5px,#ffffff 64.5px,#4256ba 65.5px,#5b69c4 99.5px,#aaafdf 119.5px,#f4f4fb 141.5px,#ffffff 174.5px,#ffffff 220px)"></i>
<i style="background:linear-gradient(90deg,#ffffff 0px,#f5f5fc 14.5px,#d9daf1 17.5px,#9fa5db 20.5px,#5a68c4 23.5px,#4d5ebf 32.5px,#5363c1 36.5px,#475abc 40.5px,#475abc 46.5px,#ffffff 47.5px,#ffffff 64.5px,#4256ba 65.5px,#606dc6 110.5px,#f0f0fa 144.5px,#ffffff 163.5px,#ffffff 220px)"></i>
<i style="background:linear-gradient(90deg,#ffffff 0px,#f6f6fc 13.5px,#d2d3ee 16.5px,#a6abde 18.5px,#6874c9 20.5px,#5162c0 22.5px,#4256ba 27.5px,#475abc 38.5px,#475abc 46.5px,#ffffff 47.5px,#ffffff 64.5px,#4256ba 65.5px,#5f6cc6 118.5px,#adb1e0 134.5px,#f5f5fc 151.5px,#ffffff 177.5px,#ffffff 220px)"></i>
<i style="background:linear-gradient(90deg,#ffffff 0px,#f6f6fc 12.5px,#ced0ed 15.5px,#99a0da 17.5px,#5967c4 19.5px,#4654b7 24.5px,#76348e 26.5px,#962c74 28.5px,#8b2e7d 30.5px,#4a51b4 33.5px,#475abc 46.5px,#ffffff 47.5px,#ffffff 64.5px,#4256ba 65.5px,#5c6ac5 125.5px,#a7acde 140.5px,#f5f5fc 156.5px,#ffffff 183.5px,#ffffff 220px)"></i>
<i style="background:linear-gradient(90deg,#ffffff 0px,#f7f7fc 11.5px,#e4e4f6 13.5px,#b9bde5 15.5px,#6f7bcb 17.5px,#5765c3 18.5px,#4455b9 22.5px,#5b45a5 23.5px,#b0275f 25.5px,#d32043 26.5px,#df2139 29.5px,#d32043 31.5px,#823084 33.5px,#5b45a5 34.5px,#4455b9 37.5px,#475abc 46.5px,#ffffff 47.5px,#ffffff 64.5px,#4256ba 65.5px,#5b69c4 132.5px,#9aa1da 145.5px,#f4f4fb 160.5px,#ffffff 177.5px,#ffffff 220px)"></i>
<i style="background:linear-gradient(90deg,#ffffff 0px,#f9f9fd 10.5px,#eaeaf8 12.5px,#bec1e7 14.5px,#727dcc 16.5px,#5765c3 17.5px,#4357bb 20.5px,#4753b6 21.5px,#61419f 22.5px,#d12045 24.5px,#e42733 26.5px,#e02237 32.5px,#d12045 33.5px,#61419f 35.5px,#4c4fb1 37.5px,#475abc 42.5px,#475abc 46.5px,#ffffff 47.5px,#ffffff 64.5px,#4256ba 65.5px,#5a68c4 138.5px,#949cd8 151.5px,#f4f4fb 165.5px,#ffffff 179.5px,#ffffff 220px)"></i>
<i style="background:linear-gradient(90deg,#ffffff 0px,#f6f6fc 10.5px,#dedff3 12.5px,#abb0e0 14.5px,#5967c4 16.5px,#4357bb 19.5px,#5748a8 21.5px,#d71f40 23.5px,#ec3128 27.5px,#e72a2f 32.5px,#d71f40 34.5px,#5748a8 36.5px,#475abc 41.5px,#475abc 46.5px,#ffffff 47.5px,#ffffff 64.5px,#4256ba 65.5px,#5b69c4 145.5px,#8e97d6 157.5px,#e1e1f4 166.5px,#ffffff 170.5px,#ffffff 220px)"></i>
<i style="background:linear-gradient(90deg,#ffffff 0px,#fafafd 9.5px,#eaeaf8 11.5px,#bcbfe6 13.5px,#6875c9 15.5px,#4b5dbe 17.5px,#4d4fb1 20.5px,#743590 21.5px,#c12352 22.5px,#e12336 23.5px,#ee4126 28.5px,#e72a2f 33.5px,#e12336 34.5px,#c12352 35.5px,#743590 36.5px,#544aab 37.5px,#475abc 42.5px,#475abc 46.5px,#ffffff 47.5px,#ffffff 64.5px,#4256ba 65.5px,#5a68c4 150.5px,#8891d4 163.5px,#8f97d6 164.5px,#ececf9 168.5px,#ffffff 171.5px,#ffffff 220px)"></i>
<i style="background:linear-gradient(90deg,#ffffff 0px,#f8f8fd 9.5px,#e4e5f6 11.5px,#b3b7e2 13.5px,#5a68c4 15.5px,#4356ba 18.5px,#4f4daf 20.5px,#902d79 21.5px,#dd1f3b 22.5px,#ee4026 26.5px,#ee4026 31.5px,#dd1f3b 35.5px,#902d79 36.5px,#5549aa 37.5px,#4356ba 41.5px,#475abc 46.5px,#ffffff 47.5px,#ffffff 64.5px,#4256ba 65.5px,#5c69c5 154.5px,#707bcb 164.5px,#8992d4 165.5px,#b6bae4 166.5px,#e9e9f8 168.5px,#ffffff 170.5px,#ffffff 220px)"></i>
<i style="background:linear-gradient(90deg,#ffffff 0px,#f7f7fc 9.5px,#e0e1f4 11.5px,#aaafdf 13.5px,#5766c3 15.5px,#4455b9 18.5px,#5947a7 20.5px,#a02a6c 21.5px,#de2139 22.5px,#ee4426 26.5px,#ee4426 31.5px,#de2139 35.5px,#a02a6c 36.5px,#5947a7 37.5px,#4759bc 42.5px,#475abc 46.5px,#ffffff 47.5px,#ffffff 64.5px,#4256ba 65.5px,#5c6ac5 155.5px,#6b77ca 164.5px,#848dd2 165.5px,#b4b8e3 166.5px,#e8e8f7 168.5px,#ffffff 170.5px,#ffffff 220px)"></i>
<i style="background:linear-gradient(90deg,#ffffff 0px,#f7f7fc 9.5px,#dfe0f4 11.5px,#a7acde 13.5px,#7782ce 14.5px,#5665c3 15.5px,#4554b8 18.5px,#5947a7 20.5px,#a02a6c 21.5px,#de2139 22.5px,#ee4426 26.5px,#ee4426 31.5px,#de2139 35.5px,#a02a6c 36.5px,#5947a7 37.5px,#4659bc 42.5px,#475abc 46.5px,#ffffff 47.5px,#ffffff 64.5px,#4256ba 65.5px,#5c6ac5 155.5px,#6b77ca 164.5px,#848dd2 165.5px,#b4b8e3 166.5px,#e8e8f7 168.5px,#ffffff 170.5px,#ffffff 220px)"></i>
<i style="background:linear-gradient(90deg,#ffffff 0px,#f7f7fc 9.5px,#e0e1f4 11.5px,#aaafdf 13.5px,#5766c3 15.5px,#4455b9 18.5px,#514cad 20.5px,#902d79 21.5px,#dd1f3b 22.5px,#ee4026 26.5px,#ee4026 31.5px,#dd1f3b 35.5px,#902d79 36.5px,#5649a9 37.5px,#4759bc 42.5px,#475abc 46.5px,#ffffff 47.5px,#ffffff 64.5px,#4256ba 65.5px,#5c69c5 154.5px,#707bcb 164.5px,#8992d4 165.5px,#b6bae4 166.5px,#e9e9f8 168.5px,#ffffff 170.5px,#ffffff 220px)"></i>
<i style="background:linear-gradient(90deg,#ffffff 0px,#f8f8fd 9.5px,#e4e5f6 11.5px,#b3b7e2 13.5px,#5a68c4 15.5px,#4356ba 18.5px,#4f4daf 20.5px,#743590 21.5px,#c12352 22.5px,#e12336 23.5px,#ee4126 28.5px,#e72a2f 33.5px,#e12336 34.5px,#c12352 35.5px,#743590 36.5px,#5549aa 37.5px,#4356ba 41.5px,#475abc 46.5px,#ffffff 47.5px,#ffffff 64.5px,#4256ba 65.5px,#5a68c4 150.5px,#8891d4 163.5px,#8f97d6 164.5px,#ececf9 168.5px,#ffffff 171.5px,#ffffff 220px)"></i>
<i style="background:linear-gradient(90deg,#ffffff 0px,#fafafd 9.5px,#eaeaf8 11.5px,#bcbfe6 13.5px,#6875c9 15.5px,#4b5dbe 17.5px,#4d4fb1 20.5px,#5748a8 21.5px,#d71f40 23.5px,#ec3128 27.5px,#e72a2f 32.5px,#d71f40 34.5px,#5748a8 36.5px,#475abc 42.5px,#475abc 46.5px,#ffffff 47.5px,#ffffff 64.5px,#4256ba 65.5px,#5b69c4 145.5px,#8e97d6 157.5px,#e1e1f4 166.5px,#ffffff 170.5px,#ffffff 220px)"></i>
<i style="background:linear-gradient(90deg,#ffffff 0px,#f6f6fc 10.5px,#dedff3 12.5px,#abb0e0 14.5px,#5967c4 16.5px,#4357bb 19.5px,#4d4eb0 21.5px,#61419f 22.5px,#d12045 24.5px,#e42733 26.5px,#e02237 32.5px,#d12045 33.5px,#61419f 35.5px,#4d4eb0 38.5px,#475abc 42.5px,#475abc 46.5px,#ffffff 47.5px,#ffffff 64.5px,#4256ba 65.5px,#514cad 67.5px,#6c3a96 68.5px,#6c3a96 69.5px,#514cad 70.5px,#4558bb 72.5px,#5a68c4 138.5px,#949cd8 151.5px,#f4f4fb 165.5px,#ffffff 179.5px,#ffffff 220px)"></i>
<i style="background:linear-gradient(90deg,#ffffff 0px,#f9f9fd 10.5px,#eaeaf8 12.5px,#bec1e7 14.5px,#727dcc 16.5px,#5765c3 17.5px,#4357bb 20.5px,#4c4fb1 22.5px,#5b45a5 23.5px,#b0275f 25.5px,#d32043 26.5px,#df2139 29.5px,#d32043 31.5px,#823084 33.5px,#5b45a5 34.5px,#475abc 40.5px,#475abc 46.5px,#ffffff 47.5px,#ffffff 64.5px,#4256ba 65.5px,#4355b9 66.5px,#79328b 67.5px,#ab2864 68.5px,#ab2864 69.5px,#79328b 70.5px,#4355b9 71.5px,#5b69c4 132.5px,#9aa1da 145.5px,#f4f4fb 160.5px,#ffffff 177.5px,#ffffff 220px)"></i>
<i style="background:linear-gradient(90deg,#ffffff 0px,#f7f7fc 11.5px,#e4e4f6 13.5px,#b9bde5 15.5px,#6f7bcb 17.5px,#5765c3 18.5px,#4455b9 22.5px,#4d4fb1 24.5px,#8b2e7d 27.5px,#962c74 29.5px,#6042a0 32.5px,#514cad 34.5px,#4558bb 38.5px,#475abc 46.5px,#ffffff 47.5px,#ffffff 64.5px,#4256ba 65.5px,#4355b9 66.5px,#79328b 67.5px,#ab2864 68.5px,#ab2864 69.5px,#79328b 70.5px,#4355b9 71.5px,#5c6ac5 125.5px,#a7acde 140.5px,#f5f5fc 156.5px,#ffffff 183.5px,#ffffff 220px)"></i>
<i style="background:linear-gradient(90deg,#ffffff 0px,#f6f6fc 12.5px,#ced0ed 15.5px,#99a0da 17.5px,#5967c4 19.5px,#4356ba 24.5px,#5748a8 31.5px,#4951b4 38.5px,#475abc 46.5px,#ffffff 47.5px,#ffffff 64.5px,#4256ba 65.5px,#514cad 67.5px,#6c3a96 68.5px,#6c3a96 69.5px,#514cad 70.5px,#4659bc 71.5px,#5f6cc6 118.5px,#adb1e0 134.5px,#f5f5fc 151.5px,#ffffff 177.5px,#ffffff 220px)"></i>
<i style="background:linear-gradient(90deg,#ffffff 0px,#f6f6fc 13.5px,#d2d3ee 16.5px,#a6abde 18.5px,#6874c9 20.5px,#5162c0 22.5px,#4952b4 25.5px,#5748a8 30.5px,#514cad 38.5px,#475abc 42.5px,#475abc 46.5px,#ffffff 47.5px,#ffffff 64.5px,#4256ba 65.5px,#606dc6 110.5px,#f0f0fa 144.5px,#ffffff 163.5px,#ffffff 220px)"></i>
<i style="background:linear-gradient(90deg,#ffffff 0px,#f5f5fc 14.5px,#d9daf1 17.5px,#9fa5db 20.5px,#848dd2 21.5px,#5a68c4 22.5px,#4356ba 24.5px,#5748a8 28.5px,#534bab 38.5px,#4356ba 40.5px,#475abc 46.5px,#ffffff 47.5px,#ffffff 64.5px,#4256ba 65.5px,#616ec6 101.5px,#efeffa 138.5px,#ffffff 159.5px,#ffffff 220px)"></i>
<i style="background:linear-gradient(90deg,#ffffff 0px,#f3f3fb 15.5px,#e4e4f6 18.5px,#c8caeb 20.5px,#9da3db 21.5px,#5a68c4 22.5px,#4356ba 24.5px,#5748a8 28.5px,#534bab 38.5px,#4356ba 40.5px,#475abc 46.5px,#ffffff 47.5px,#ffffff 64.5px,#4256ba 65.5px,#5363c1 86.5px,#6875c9 92.5px,#abafdf 111.5px,#f3f3fb 135.5px,#ffffff 166.5px,#ffffff 220px)"></i>
<i style="background:linear-gradient(90deg,#ffffff 0px,#f3f3fb 15.5px,#d6d8f0 20.5px,#b1b5e2 21.5px,#6d78ca 22.5px,#5061c0 23.5px,#4952b4 25.5px,#5748a8 30.5px,#514cad 38.5px,#475abc 42.5px,#475abc 46.5px,#ffffff 47.5px,#ffffff 64.5px,#4256ba 65.5px,#5262c1 87.5px,#7d87d0 94.5px,#a6abde 101.5px,#f4f4fb 130.5px,#ffffff 168.5px,#ffffff 220px)"></i>
<i style="background:linear-gradient(90deg,#ffffff 0px,#f3f3fb 15.5px,#dadcf2 20.5px,#c6c8ea 21.5px,#5968c4 23.5px,#4458bb 25.5px,#5748a8 31.5px,#4951b4 38.5px,#475abc 46.5px,#ffffff 47.5px,#ffffff 64.5px,#4256ba 65.5px,#5665c2 91.5px,#6773c8 95.5px,#bdc0e6 106.5px,#e9e9f8 117.5px,#ffffff 145.5px,#ffffff 220px)"></i>
<i style="background:linear-gradient(90deg,#ffffff 0px,#f3f3fb 15.5px,#d5d6f0 21.5px,#c2c4e8 22.5px,#5c6ac5 24.5px,#4355b9 27.5px,#534bac 33.5px,#475abc 38.5px,#475abc 46.5px,#ffffff 47.5px,#ffffff 64.5px,#4256ba 65.5px,#5866c3 94.5px,#c3c6e9 108.5px,#f3f3fb 119.5px,#ffffff 160.5px,#ffffff 220px)"></i>
<i style="background:linear-gradient(90deg,#ffffff 0px,#f3f3fb 15.5px,#cacdec 23.5px,#aaafdf 24.5px,#7a84cf 25.5px,#5866c3 26.5px,#4256ba 31.5px,#475abc 46.5px,#ffffff 47.5px,#ffffff 64.5px,#4256ba 65.5px,#5967c4 95.5px,#c2c5e8 108.5px,#efeffa 118.5px,#ffffff 142.5px,#ffffff 220px)"></i>
<i style="background:linear-gradient(90deg,#ffffff 0px,#f3f3fb 15.5px,#c2c5e8 25.5px,#b3b7e2 26.5px,#727dcc 28.5px,#5c6ac5 29.5px,#5765c3 34.5px,#5c6ac5 35.5px,#475abc 39.5px,#475abc 46.5px,#ffffff 47.5px,#ffffff 64.5px,#4256ba 65.5px,#5967c4 95.5px,#b5b9e3 106.5px,#f5f5fc 126.5px,#ffffff 168.5px,#ffffff 220px)"></i>
<i style="background:linear-gradient(90deg,#ffffff 0px,#f3f3fb 15.5px,#acb1e0 29.5px,#717dcc 34.5px,#5363c1 36.5px,#475abc 40.5px,#475abc 46.5px,#ffffff 47.5px,#ffffff 64.5px,#4256ba 65.5px,#5967c4 95.5px,#c8caeb 117.5px,#f5f5fc 130.5px,#ffffff 166.5px,#ffffff 220px)"></i>
<i style="background:linear-gradient(90deg,#ffffff 0px,#f2f2fb 15.5px,#b7bae4 26.5px,#acb1e0 29.5px,#717dcc 34.5px,#5363c1 36.5px,#475abc 40.5px,#475abc 46.5px,#ffffff 47.5px,#ffffff 64.5px,#4256ba 65.5px,#5c6ac5 101.5px,#ebebf8 130.5px,#ffffff 146.5px,#ffffff 220px)"></i>
<i style="background:linear-gradient(90deg,#ffffff 0px,#f5f5fc 12.5px,#c4c7e9 18.5px,#7e88d0 25.5px,#7e88d0 30.5px,#8992d4 32.5px,#5363c1 36.5px,#475abc 40.5px,#475abc 46.5px,#ffffff 47.5px,#ffffff 64.5px,#4256ba 65.5px,#5e6cc5 108.5px,#ededf9 135.5px,#ffffff 150.5px,#ffffff 220px)"></i>
<i style="background:linear-gradient(90deg,#ffffff 0px,#f6f6fc 10.5px,#d6d7f0 14.5px,#9aa1da 18.5px,#5c6ac5 22.5px,#5665c2 31.5px,#6875c9 34.5px,#475abc 38.5px,#475abc 46.5px,#ffffff 47.5px,#ffffff 64.5px,#4256ba 65.5px,#5a68c4 113.5px,#a3a9dd 126.5px,#f3f3fb 141.5px,#ffffff 159.5px,#ffffff 220px)"></i>
<i style="background:linear-gradient(90deg,#ffffff 0px,#f4f4fb 9.5px,#d9daf1 12.5px,#a9aedf 15.5px,#6471c8 18.5px,#4e5fbf 22.5px,#4e5fbf 33.5px,#5363c1 36.5px,#475abc 40.5px,#475abc 46.5px,#ffffff 47.5px,#ffffff 64.5px,#4256ba 65.5px,#5a68c4 119.5px,#a0a6dc 131.5px,#f4f4fb 145.5px,#ffffff 163.5px,#ffffff 220px)"></i>
<i style="background:linear-gradient(90deg,#ffffff 0px,#f3f3fb 8.5px,#c2c5e8 12.5px,#939bd8 14.5px,#606dc6 16.5px,#4357bb 23.5px,#4a5cbd 35.5px,#475abc 46.5px,#ffffff 47.5px,#ffffff 64.5px,#4256ba 65.5px,#5968c4 124.5px,#969dd9 135.5px,#f1f1fa 148.5px,#ffffff 160.5px,#ffffff 220px)"></i>
<i style="background:linear-gradient(90deg,#ffffff 0px,#f3f3fb 7.5px,#ced0ed 10.5px,#a5aade 12.5px,#6875c9 14.5px,#5161c0 16.5px,#4554b8 21.5px,#4a50b3 32.5px,#475abc 45.5px,#475abc 46.5px,#ffffff 47.5px,#ffffff 64.5px,#4256ba 65.5px,#5867c3 128.5px,#858ed3 138.5px,#f3f3fb 152.5px,#ffffff 168.5px,#ffffff 220px)"></i>
<i style="background:linear-gradient(90deg,#ffffff 0px,#f4f4fb 6.5px,#ced0ed 9.5px,#a0a6dc 11.5px,#606ec6 13.5px,#4256ba 18.5px,#5c44a4 31.5px,#4559bb 38.5px,#475abc 46.5px,#ffffff 47.5px,#ffffff 64.5px,#4256ba 65.5px,#5968c4 134.5px,#8a93d4 144.5px,#eeeef9 155.5px,#ffffff 163.5px,#ffffff 220px)"></i>
<i style="background:linear-gradient(90deg,#ffffff 0px,#efeffa 6.5px,#bec1e7 9.5px,#5f6dc6 12.5px,#4458bb 16.5px,#5b45a4 24.5px,#a32969 27.5px,#c02452 29.5px,#c02452 31.5px,#8b2e7d 34.5px,#4a51b3 37.5px,#475abc 46.5px,#ffffff 47.5px,#ffffff 64.5px,#4256ba 65.5px,#5a68c4 139.5px,#8891d4 149.5px,#d8d9f1 156.5px,#ffffff 160.5px,#ffffff 220px)"></i>
<i style="background:linear-gradient(90deg,#ffffff 0px,#f2f2fb 5.5px,#d8daf1 7.5px,#aeb3e1 9.5px,#6572c8 11.5px,#485bbd 14.5px,#5549aa 21.5px,#5f43a1 22.5px,#d61f41 25.5px,#e62930 31.5px,#d61f41 35.5px,#5f43a1 38.5px,#4654b7 39.5px,#475abc 46.5px,#ffffff 47.5px,#ffffff 64.5px,#4256ba 65.5px,#5b69c4 143.5px,#868fd3 154.5px,#ececf9 158.5px,#ffffff 161.5px,#ffffff 220px)"></i>
<i style="background:linear-gradient(90deg,#ffffff 0px,#eeeef9 5.5px,#b9bde5 8.5px,#5866c3 11.5px,#4554b8 15.5px,#5649a9 20.5px,#6f3893 21.5px,#db1e3d 23.5px,#ee4026 28.5px,#ee4526 31.5px,#e12435 36.5px,#db1e3d 37.5px,#6f3893 39.5px,#4b50b3 40.5px,#475abc 46.5px,#ffffff 47.5px,#ffffff 64.5px,#4256ba 65.5px,#5b69c4 145.5px,#6e7acb 154.5px,#8891d4 155.5px,#b5b9e3 156.5px,#e9e9f8 158.5px,#ffffff 160.5px,#ffffff 220px)"></i>
<i style="background:linear-gradient(90deg,#ffffff 0px,#ebebf8 5.5px,#b0b4e1 8.5px,#6370c7 10.5px,#4759bc 13.5px,#4e4eb0 16.5px,#5649a9 19.5px,#733690 20.5px,#b1275f 21.5px,#de2139 22.5px,#ee3f26 25.5px,#f26522 28.5px,#f26b22 31.5px,#ef5025 34.5px,#e52831 37.5px,#de2139 38.5px,#b1275f 39.5px,#733690 40.5px,#4a51b3 41.5px,#475abc 46.5px,#ffffff 47.5px,#ffffff 64.5px,#4256ba 65.5px,#5c6ac5 146.5px,#6b77ca 154.5px,#848dd2 155.5px,#b4b8e3 156.5px,#e8e8f7 158.5px,#ffffff 160.5px,#ffffff 220px)"></i>
<i style="background:linear-gradient(90deg,#ffffff 0px,#e9e9f8 5.5px,#a5abde 8.5px,#5a68c4 10.5px,#4554b8 14.5px,#5549aa 18.5px,#693c99 19.5px,#de203a 21.5px,#ec3228 23.5px,#f47a20 27.5px,#f58720 31.5px,#f36d21 34.5px,#ec3228 37.5px,#de203a 39.5px,#693c99 41.5px,#4457bb 42.5px,#475abc 46.5px,#ffffff 47.5px,#ffffff 64.5px,#4256ba 65.5px,#5c6ac5 146.5px,#6b77ca 154.5px,#848dd2 155.5px,#b4b8e3 156.5px,#e8e8f7 158.5px,#ffffff 160.5px,#ffffff 220px)"></i>
<i style="background:linear-gradient(90deg,#fefeff 0px,#e7e7f7 5.5px,#a0a6dc 8.5px,#5867c3 10.5px,#4653b6 14.5px,#5549a9 18.5px,#852f81 19.5px,#d02045 20.5px,#eb2f2a 22.5px,#f58220 26.5px,#f69b1f 30.5px,#f58220 34.5px,#eb2f2a 38.5px,#d02045 40.5px,#852f81 41.5px,#524bac 42.5px,#475abc 43.5px,#475abc 46.5px,#ffffff 47.5px,#ffffff 64.5px,#4256ba 65.5px,#4357ba 68.5px,#4d4fb0 70.5px,#4458bb 72.5px,#5c6ac5 145.5px,#6e7acb 154.5px,#8891d4 155.5px,#b5b9e3 156.5px,#e9e9f8 158.5px,#ffffff 160.5px,#ffffff 220px)"></i>
<i style="background:linear-gradient(90deg,#fefeff 0px,#e7e7f7 5.5px,#a0a6dc 8.5px,#5867c3 10.5px,#4653b6 14.5px,#5f42a1 18.5px,#de203a 20.5px,#ed3727 22.5px,#f47e20 25.5px,#f79f1f 28.5px,#f79f1f 32.5px,#f47e20 35.5px,#e62930 39.5px,#de203a 40.5px,#5f42a1 42.5px,#475abc 43.5px,#475abc 46.5px,#ffffff 47.5px,#ffffff 64.5px,#4256ba 65.5px,#4357ba 66.5px,#75348f 68.5px,#8d2e7b 69.5px,#8d2e7b 70.5px,#75348f 71.5px,#5549aa 72.5px,#4558bb 73.5px,#5c69c5 142.5px,#868fd3 154.5px,#ececf9 158.5px,#ffffff 161.5px,#ffffff 220px)"></i>
<i style="background:linear-gradient(90deg,#ffffff 0px,#e9e9f8 5.5px,#a5abde 8.5px,#5a68c4 10.5px,#4554b8 14.5px,#534bac 17.5px,#643f9d 18.5px,#a52968 19.5px,#df2139 20.5px,#ed3b27 22.5px,#f58220 25.5px,#f7a21f 28.5px,#f7a21f 32.5px,#f58220 35.5px,#e72a2e 39.5px,#df2139 40.5px,#a52968 41.5px,#643f9d 42.5px,#475abc 43.5px,#475abc 46.5px,#ffffff 47.5px,#ffffff 64.5px,#4256ba 65.5px,#4455b8 66.5px,#713792 67.5px,#a3296a 68.5px,#c12352 69.5px,#c12352 70.5px,#a3296a 71.5px,#713792 72.5px,#4455b8 73.5px,#5b69c4 137.5px,#9098d7 149.5px,#c8caeb 155.5px,#fbfbfe 159.5px,#ffffff 220px)"></i>
<i style="background:linear-gradient(90deg,#ffffff 0px,#ebebf8 5.5px,#b0b4e1 8.5px,#6370c7 10.5px,#4759bc 13.5px,#4e4eb0 16.5px,#5f42a1 18.5px,#de203a 20.5px,#ed3727 22.5px,#f47e20 25.5px,#f79f1f 28.5px,#f79f1f 32.5px,#f47e20 35.5px,#e62930 39.5px,#de203a 40.5px,#5f42a1 42.5px,#475abc 43.5px,#475abc 46.5px,#ffffff 47.5px,#ffffff 64.5px,#4256ba 65.5px,#4455b8 66.5px,#713792 67.5px,#a3296a 68.5px,#c12352 69.5px,#c12352 70.5px,#a3296a 71.5px,#713792 72.5px,#4455b8 73.5px,#5b69c4 131.5px,#939ad7 143.5px,#f2f2fb 156.5px,#ffffff 164.5px,#ffffff 220px)"></i>
<i style="background:linear-gradient(90deg,#ffffff 0px,#eeeef9 5.5px,#b9bde5 8.5px,#5866c3 11.5px,#4554b8 15.5px,#524bac 18.5px,#852f81 19.5px,#d02045 20.5px,#eb2f2a 22.5px,#f58220 26.5px,#f69b1f 30.5px,#f58220 34.5px,#eb2f2a 38.5px,#d02045 40.5px,#852f81 41.5px,#524bac 42.5px,#475abc 43.5px,#475abc 46.5px,#ffffff 47.5px,#ffffff 64.5px,#4256ba 65.5px,#4357ba 66.5px,#75348f 68.5px,#8d2e7b 69.5px,#8d2e7b 70.5px,#75348f 71.5px,#5549aa 72.5px,#475abc 73.5px,#5c6ac5 125.5px,#9ca2da 138.5px,#f7f7fc 153.5px,#ffffff 220px)"></i>
<i style="background:linear-gradient(90deg,#ffffff 0px,#f2f2fb 5.5px,#d8daf1 7.5px,#aeb3e1 9.5px,#6572c8 11.5px,#485bbd 14.5px,#4f4daf 18.5px,#693c99 19.5px,#de203a 21.5px,#ec3228 23.5px,#f47a20 27.5px,#f58720 31.5px,#f36d21 34.5px,#ec3228 37.5px,#de203a 39.5px,#693c99 41.5px,#4457bb 42.5px,#475abc 46.5px,#ffffff 47.5px,#ffffff 64.5px,#4256ba 65.5px,#4357ba 68.5px,#4d4fb0 70.5px,#475abc 72.5px,#5b69c4 118.5px,#a5aadd 133.5px,#f4f4fb 148.5px,#ffffff 167.5px,#ffffff 220px)"></i>
<i style="background:linear-gradient(90deg,#ffffff 0px,#efeffa 6.5px,#bec1e7 9.5px,#5f6dc6 12.5px,#4458bb 16.5px,#4e4eb0 19.5px,#733690 20.5px,#b1275f 21.5px,#de2139 22.5px,#ee3f26 25.5px,#f26522 28.5px,#f26b22 31.5px,#ef5025 34.5px,#e52831 37.5px,#de2139 38.5px,#b1275f 39.5px,#733690 40.5px,#4a51b3 41.5px,#475abc 45.5px,#475abc 46.5px,#ffffff 47.5px,#ffffff 64.5px,#4256ba 65.5px,#606dc6 112.5px,#aeb3e1 128.5px,#f7f7fc 145.5px,#ffffff 220px)"></i>
<i style="background:linear-gradient(90deg,#ffffff 0px,#f4f4fb 6.5px,#ced0ed 9.5px,#a0a6dc 11.5px,#606ec6 13.5px,#4256ba 18.5px,#4b50b3 20.5px,#6f3893 21.5px,#db1e3d 23.5px,#ee4026 28.5px,#ee4526 31.5px,#e12435 36.5px,#db1e3d 37.5px,#6f3893 39.5px,#4b50b3 40.5px,#475abc 44.5px,#475abc 46.5px,#ffffff 47.5px,#ffffff 64.5px,#4256ba 65.5px,#6370c7 105.5px,#f3f3fb 139.5px,#ffffff 161.5px,#ffffff 220px)"></i>
<i style="background:linear-gradient(90deg,#ffffff 0px,#f3f3fb 7.5px,#ced0ed 10.5px,#a5aade 12.5px,#6875c9 14.5px,#5161c0 16.5px,#4554b8 21.5px,#813085 23.5px,#d61f41 25.5px,#e62930 31.5px,#d61f41 35.5px,#5f43a1 38.5px,#4357ba 39.5px,#475abc 46.5px,#ffffff 47.5px,#ffffff 64.5px,#4256ba 65.5px,#5866c3 86.5px,#6975c9 98.5px,#f2f2fb 134.5px,#ffffff 157.5px,#ffffff 220px)"></i>
<i style="background:linear-gradient(90deg,#ffffff 0px,#f3f3fb 8.5px,#c2c5e8 12.5px,#939bd8 14.5px,#606dc6 16.5px,#4355b9 23.5px,#8b2e7d 26.5px,#c02452 29.5px,#c02452 31.5px,#8b2e7d 34.5px,#4355b9 37.5px,#475abc 46.5px,#ffffff 47.5px,#ffffff 64.5px,#4256ba 65.5px,#5866c3 77.5px,#6773c8 83.5px,#8f97d6 100.5px,#eeeef9 127.5px,#ffffff 148.5px,#ffffff 220px)"></i>
<i style="background:linear-gradient(90deg,#ffffff 0px,#f4f4fb 9.5px,#d9daf1 12.5px,#a9aedf 15.5px,#6471c8 18.5px,#4e5fbf 22.5px,#4356ba 26.5px,#5e43a2 30.5px,#4356ba 34.5px,#5161c0 36.5px,#475abc 42.5px,#475abc 46.5px,#ffffff 47.5px,#ffffff 64.5px,#4256ba 65.5px,#5564c2 77.5px,#6f7acb 79.5px,#7f89d1 80.5px,#abb0e0 98.5px,#f6f6fc 127.5px,#ffffff 199.5px,#ffffff 220px)"></i>
<i style="background:linear-gradient(90deg,#ffffff 0px,#f4f4fb 7.5px,#d1d3ee 10.5px,#abb0e0 12.5px,#5867c3 15.5px,#4554b7 21.5px,#4f4eaf 32.5px,#475abc 39.5px,#475abc 46.5px,#ffffff 47.5px,#ffffff 64.5px,#4256ba 65.5px,#5967c4 80.5px,#8e96d6 91.5px,#e3e3f5 111.5px,#ffffff 135.5px,#ffffff 220px)"></i>
<i style="background:linear-gradient(90deg,#ffffff 0px,#ededf9 6.5px,#b8bbe4 9.5px,#5867c3 12.5px,#4256ba 16.5px,#5748a8 24.5px,#4d4eb0 39.5px,#4659bc 42.5px,#475abc 46.5px,#ffffff 47.5px,#ffffff 64.5px,#4256ba 65.5px,#6370c7 92.5px,#c6c8ea 107.5px,#f2f2fb 118.5px,#ffffff 141.5px,#ffffff 220px)"></i>
<i style="background:linear-gradient(90deg,#ffffff 0px,#ededf9 5.5px,#b5b9e3 8.5px,#6a77ca 10.5px,#4e5fbf 12.5px,#4752b5 15.5px,#5848a8 24.5px,#4d4fb1 41.5px,#475abc 45.5px,#475abc 46.5px,#ffffff 47.5px,#ffffff 64.5px,#4256ba 65.5px,#5967c4 94.5px,#c5c7e9 108.5px,#f4f4fb 119.5px,#ffffff 157.5px,#ffffff 220px)"></i>
<i style="background:linear-gradient(90deg,#ffffff 0px,#ededf9 5.5px,#b5b9e3 8.5px,#6a77ca 10.5px,#4e5fbf 12.5px,#4752b5 15.5px,#5848a8 24.5px,#4d4fb1 41.5px,#475abc 45.5px,#475abc 46.5px,#ffffff 47.5px,#ffffff 64.5px,#4256ba 65.5px,#5a68c4 97.5px,#8d95d5 105.5px,#dedff3 113.5px,#f7f7fc 123.5px,#ffffff 186.5px,#ffffff 220px)"></i>
<i style="background:linear-gradient(90deg,#ffffff 0px,#ededf9 6.5px,#b8bbe4 9.5px,#5867c3 12.5px,#4256ba 16.5px,#5748a8 24.5px,#4d4eb0 39.5px,#4659bc 42.5px,#475abc 46.5px,#ffffff 47.5px,#ffffff 64.5px,#4256ba 65.5px,#626fc7 107.5px,#8b93d5 113.5px,#e8e8f7 119.5px,#ffffff 139.5px,#ffffff 220px)"></i>
<i style="background:linear-gradient(90deg,#ffffff 0px,#f4f4fb 7.5px,#d1d3ee 10.5px,#abb0e0 12.5px,#5867c3 15.5px,#4554b7 21.5px,#4d4fb0 24.5px,#982c73 27.5px,#dc1e3c 30.5px,#dc1e3c 39.5px,#982c73 42.5px,#4952b4 45.5px,#475abc 46.5px,#ffffff 47.5px,#ffffff 64.5px,#524bac 65.5px,#4558bb 73.5px,#6471c7 113.5px,#6c78ca 116.5px,#868fd3 117.5px,#b4b8e3 118.5px,#dcddf2 120.5px,#ffffff 136.5px,#ffffff 220px)"></i>
<i style="background:linear-gradient(90deg,#ffffff 0px,#f6f6fc 10.5px,#d3d5ef 14.5px,#a7acde 17.5px,#8790d3 18.5px,#5866c3 19.5px,#485bbd 20.5px,#5649a9 21.5px,#a42969 23.5px,#ce2147 24.5px,#e22535 26.5px,#eb2f29 38.5px,#de2139 44.5px,#ce2147 45.5px,#a42969 46.5px,#ffffff 47.5px,#ffffff 64.5px,#dc1e3c 65.5px,#6b3a97 82.5px,#4355b9 88.5px,#5665c2 102.5px,#6c78ca 116.5px,#868fd3 117.5px,#b4b8e3 118.5px,#f1f1fa 129.5px,#ffffff 139.5px,#ffffff 220px)"></i>
<i style="background:linear-gradient(90deg,#ffffff 0px,#f8f8fd 11.5px,#dcddf2 14.5px,#a6abde 16.5px,#6e7acb 17.5px,#4f60bf 18.5px,#4b50b2 19.5px,#a32969 21.5px,#d51f42 22.5px,#eb2f29 27.5px,#ed3a27 38.5px,#e02237 46.5px,#ffffff 47.5px,#ffffff 64.5px,#ed3827 65.5px,#da1e3d 83.5px,#703793 91.5px,#4355b9 96.5px,#6471c7 110.5px,#9aa0da 119.5px,#cacceb 124.5px,#fdfdfe 133.5px,#ffffff 220px)"></i>
<i style="background:linear-gradient(90deg,#ffffff 0px,#f6f6fc 11.5px,#e7e7f7 13.5px,#bbbee6 15.5px,#5866c3 17.5px,#4659bc 18.5px,#6042a1 19.5px,#c32350 21.5px,#de2139 22.5px,#ed3a27 29.5px,#ec3428 42.5px,#e32633 46.5px,#ffffff 47.5px,#ffffff 64.5px,#f37221 65.5px,#e52831 85.5px,#d81f3f 90.5px,#693c99 97.5px,#4653b7 103.5px,#616ec6 118.5px,#babde5 124.5px,#f7f7fc 132.5px,#ffffff 158.5px,#ffffff 220px)"></i>
<i style="background:linear-gradient(90deg,#ffffff 0px,#f8f8fd 11.5px,#dcddf2 14.5px,#a6abde 16.5px,#6e7acb 17.5px,#4f60bf 18.5px,#4b50b2 19.5px,#a32969 21.5px,#d51f42 22.5px,#eb2f29 27.5px,#ed3a27 38.5px,#e02237 46.5px,#ffffff 47.5px,#ffffff 64.5px,#f6971f 65.5px,#ef5025 81.5px,#e92c2c 87.5px,#dd1f3b 93.5px,#75348e 99.5px,#4458bb 111.5px,#5f6dc6 120.5px,#b9bde5 125.5px,#f6f6fc 132.5px,#ffffff 142.5px,#ffffff 220px)"></i>
<i style="background:linear-gradient(90deg,#ffffff 0px,#f4f4fb 13.5px,#cdcfec 16.5px,#b6b9e3 17.5px,#5866c3 19.5px,#485bbd 20.5px,#5649a9 21.5px,#a42969 23.5px,#ce2147 24.5px,#e22535 26.5px,#eb2f29 38.5px,#de2139 44.5px,#ce2147 45.5px,#a42969 46.5px,#ffffff 47.5px,#ffffff 64.5px,#f7a51e 65.5px,#f15b23 81.5px,#ea2d2b 88.5px,#dd1f3b 94.5px,#852f82 99.5px,#4256ba 112.5px,#5967c3 120.5px,#c0c3e8 126.5px,#f6f6fc 132.5px,#ffffff 141.5px,#ffffff 220px)"></i>
</div>
<svg id="ov" width="520" height="391" viewBox="0 0 520 391" font-family='"Liberation Sans",Arial,sans-serif'>
<rect x="50.5" y="4" width="220.5" height="350" fill="none" stroke="#7d7d7d" stroke-width="1"/>
<line x1="47.5" y1="4" x2="50.5" y2="4" stroke="#7d7d7d" stroke-width="1"/>
<line x1="48.5" y1="25.75" x2="50.5" y2="25.75" stroke="#7d7d7d" stroke-width="1"/>
<line x1="47.5" y1="47.5" x2="50.5" y2="47.5" stroke="#7d7d7d" stroke-width="1"/>
<line x1="48.5" y1="69.25" x2="50.5" y2="69.25" stroke="#7d7d7d" stroke-width="1"/>
<line x1="47.5" y1="91" x2="50.5" y2="91" stroke="#7d7d7d" stroke-width="1"/>
<line x1="48.5" y1="112.75" x2="50.5" y2="112.75" stroke="#7d7d7d" stroke-width="1"/>
<line x1="47.5" y1="134.5" x2="50.5" y2="134.5" stroke="#7d7d7d" stroke-width="1"/>
<line x1="48.5" y1="156.25" x2="50.5" y2="156.25" stroke="#7d7d7d" stroke-width="1"/>
<line x1="47.5" y1="178" x2="50.5" y2="178" stroke="#7d7d7d" stroke-width="1"/>
<line x1="48.5" y1="199.75" x2="50.5" y2="199.75" stroke="#7d7d7d" stroke-width="1"/>
<line x1="47.5" y1="221.5" x2="50.5" y2="221.5" stroke="#7d7d7d" stroke-width="1"/>
<line x1="48.5" y1="243.25" x2="50.5" y2="243.25" stroke="#7d7d7d" stroke-width="1"/>
<line x1="47.5" y1="265" x2="50.5" y2="265" stroke="#7d7d7d" stroke-width="1"/>
<line x1="48.5" y1="286.75" x2="50.5" y2="286.75" stroke="#7d7d7d" stroke-width="1"/>
<line x1="47.5" y1="308.5" x2="50.5" y2="308.5" stroke="#7d7d7d" stroke-width="1"/>
<line x1="48.5" y1="330.25" x2="50.5" y2="330.25" stroke="#7d7d7d" stroke-width="1"/>
<line x1="47.5" y1="352" x2="50.5" y2="352" stroke="#7d7d7d" stroke-width="1"/>
<text x="42" y="7.6" font-size="12" text-anchor="end" fill="#1e1e1e" stroke="#1e1e1e" stroke-width="0.4">+100</text>
<text x="42" y="51.1" font-size="12" text-anchor="end" fill="#1e1e1e" stroke="#1e1e1e" stroke-width="0.4">0</text>
<text x="42" y="94.6" font-size="12" text-anchor="end" fill="#1e1e1e" stroke="#1e1e1e" stroke-width="0.4">-100</text>
<text x="42" y="138.1" font-size="12" text-anchor="end" fill="#1e1e1e" stroke="#1e1e1e" stroke-width="0.4">-200</text>
<text x="42" y="181.6" font-size="12" text-anchor="end" fill="#1e1e1e" stroke="#1e1e1e" stroke-width="0.4">-300</text>
<text x="42" y="225.1" font-size="12" text-anchor="end" fill="#1e1e1e" stroke="#1e1e1e" stroke-width="0.4">-400</text>
<text x="42" y="268.6" font-size="12" text-anchor="end" fill="#1e1e1e" stroke="#1e1e1e" stroke-width="0.4">-500</text>
<text x="42" y="312.1" font-size="12" text-anchor="end" fill="#1e1e1e" stroke="#1e1e1e" stroke-width="0.4">-600</text>
<text x="42" y="355.6" font-size="12" text-anchor="end" fill="#1e1e1e" stroke="#1e1e1e" stroke-width="0.4">-700</text>
<line x1="51" y1="354" x2="51" y2="357" stroke="#7d7d7d" stroke-width="1"/>
<line x1="73" y1="354" x2="73" y2="357" stroke="#7d7d7d" stroke-width="1"/>
<line x1="95" y1="354" x2="95" y2="357" stroke="#7d7d7d" stroke-width="1"/>
<line x1="117" y1="354" x2="117" y2="357" stroke="#7d7d7d" stroke-width="1"/>
<line x1="139" y1="354" x2="139" y2="357" stroke="#7d7d7d" stroke-width="1"/>
<line x1="161" y1="354" x2="161" y2="357" stroke="#7d7d7d" stroke-width="1"/>
<line x1="183" y1="354" x2="183" y2="357" stroke="#7d7d7d" stroke-width="1"/>
<line x1="205" y1="354" x2="205" y2="357" stroke="#7d7d7d" stroke-width="1"/>
<line x1="227" y1="354" x2="227" y2="357" stroke="#7d7d7d" stroke-width="1"/>
<line x1="249" y1="354" x2="249" y2="357" stroke="#7d7d7d" stroke-width="1"/>
<line x1="271" y1="354" x2="271" y2="357" stroke="#7d7d7d" stroke-width="1"/>
<text x="51" y="368.6" font-size="12" text-anchor="middle" fill="#1e1e1e" stroke="#1e1e1e" stroke-width="0.4">20</text>
<text x="95" y="368.6" font-size="12" text-anchor="middle" fill="#1e1e1e" stroke="#1e1e1e" stroke-width="0.4">40</text>
<text x="139" y="368.6" font-size="12" text-anchor="middle" fill="#1e1e1e" stroke="#1e1e1e" stroke-width="0.4">60</text>
<text x="183" y="368.6" font-size="12" text-anchor="middle" fill="#1e1e1e" stroke="#1e1e1e" stroke-width="0.4">80</text>
<text x="227" y="368.6" font-size="12" text-anchor="middle" fill="#1e1e1e" stroke="#1e1e1e" stroke-width="0.4">100</text>
<text x="271" y="368.6" font-size="12" text-anchor="middle" fill="#1e1e1e" stroke="#1e1e1e" stroke-width="0.4">120</text>
<text x="171" y="387.7" font-size="14" text-anchor="middle" fill="#1e1e1e" stroke="#1e1e1e" stroke-width="0.3">energy / MeV</text>
<text transform="translate(10.6,174.4) rotate(-90)" font-size="15" text-anchor="middle" fill="#1e1e1e" stroke="#1e1e1e" stroke-width="0.3">delay / fs</text>
<text x="66" y="21.8" font-size="15" fill="#000" textLength="19.5" lengthAdjust="spacingAndGlyphs">(a)</text>
<defs><linearGradient id="cb" x1="0" y1="1" x2="0" y2="0">
<stop offset="0" stop-color="rgb(255,255,255)"/>
<stop offset="0.04" stop-color="rgb(234,234,248)"/>
<stop offset="0.1" stop-color="rgb(178,182,226)"/>
<stop offset="0.15" stop-color="rgb(90,104,196)"/>
<stop offset="0.2" stop-color="rgb(66,86,186)"/>
<stop offset="0.25" stop-color="rgb(120,50,140)"/>
<stop offset="0.31" stop-color="rgb(220,30,60)"/>
<stop offset="0.4" stop-color="rgb(236,48,40)"/>
<stop offset="0.52" stop-color="rgb(244,122,32)"/>
<stop offset="0.62" stop-color="rgb(248,178,30)"/>
<stop offset="0.72" stop-color="rgb(242,238,28)"/>
<stop offset="0.82" stop-color="rgb(252,248,120)"/>
<stop offset="0.9" stop-color="rgb(255,255,210)"/>
<stop offset="1" stop-color="rgb(255,255,255)"/>
</linearGradient></defs>
<rect x="228" y="12" width="10" height="76" fill="url(#cb)"/>
<line x1="227.5" y1="12" x2="238" y2="12" stroke="#777" stroke-width="1.5"/>
<line x1="227.5" y1="88" x2="238" y2="88" stroke="#777" stroke-width="1.5"/>
<text x="241" y="16.1" font-size="9.5" text-anchor="start" fill="#262626" stroke="#262626" stroke-width="0.22">0.045</text>
<text x="241" y="36.1" font-size="9.5" text-anchor="start" fill="#262626" stroke="#262626" stroke-width="0.22">0.035</text>
<text x="241" y="68.6" font-size="9.5" text-anchor="start" fill="#262626" stroke="#262626" stroke-width="0.22">0.015</text>
<text x="241" y="79.9" font-size="9.5" text-anchor="start" fill="#262626" stroke="#262626" stroke-width="0.22">0.01</text>
<text x="241" y="90.1" font-size="9.5" text-anchor="start" fill="#262626" stroke="#262626" stroke-width="0.22">0</text>
<text transform="translate(223.4,49.3) rotate(-90)" font-size="9.3" text-anchor="middle" fill="#262626" stroke="#262626" stroke-width="0.2">charge nC / MeV</text>
<rect x="312.9" y="3.7" width="200.1" height="99.3" fill="none" stroke="#555" stroke-width="1"/>
<line x1="312.9" y1="89.45" x2="314.7" y2="89.45" stroke="#555" stroke-width="1"/>
<line x1="513" y1="89.45" x2="511.2" y2="89.45" stroke="#555" stroke-width="1"/>
<line x1="312.9" y1="75.4" x2="315.4" y2="75.4" stroke="#555" stroke-width="1"/>
<line x1="513" y1="75.4" x2="510.5" y2="75.4" stroke="#555" stroke-width="1"/>
<line x1="312.9" y1="61.35" x2="314.7" y2="61.35" stroke="#555" stroke-width="1"/>
<line x1="513" y1="61.35" x2="511.2" y2="61.35" stroke="#555" stroke-width="1"/>
<line x1="312.9" y1="47.3" x2="315.4" y2="47.3" stroke="#555" stroke-width="1"/>
<line x1="513" y1="47.3" x2="510.5" y2="47.3" stroke="#555" stroke-width="1"/>
<line x1="312.9" y1="33.25" x2="314.7" y2="33.25" stroke="#555" stroke-width="1"/>
<line x1="513" y1="33.25" x2="511.2" y2="33.25" stroke="#555" stroke-width="1"/>
<line x1="312.9" y1="19.2" x2="315.4" y2="19.2" stroke="#555" stroke-width="1"/>
<line x1="513" y1="19.2" x2="510.5" y2="19.2" stroke="#555" stroke-width="1"/>
<line x1="334.2" y1="103" x2="334.2" y2="100.5" stroke="#555" stroke-width="1"/>
<line x1="334.2" y1="3.7" x2="334.2" y2="6.2" stroke="#555" stroke-width="1"/>
<line x1="370.15" y1="103" x2="370.15" y2="101.2" stroke="#555" stroke-width="1"/>
<line x1="370.15" y1="3.7" x2="370.15" y2="5.5" stroke="#555" stroke-width="1"/>
<line x1="406.1" y1="103" x2="406.1" y2="100.5" stroke="#555" stroke-width="1"/>
<line x1="406.1" y1="3.7" x2="406.1" y2="6.2" stroke="#555" stroke-width="1"/>
<line x1="442.05" y1="103" x2="442.05" y2="101.2" stroke="#555" stroke-width="1"/>
<line x1="442.05" y1="3.7" x2="442.05" y2="5.5" stroke="#555" stroke-width="1"/>
<line x1="478" y1="103" x2="478" y2="100.5" stroke="#555" stroke-width="1"/>
<line x1="478" y1="3.7" x2="478" y2="6.2" stroke="#555" stroke-width="1"/>
<text x="309" y="78.4" font-size="8.4" text-anchor="end" fill="#262626" stroke="#262626" stroke-width="0.22">0.05</text>
<text x="309" y="50.3" font-size="8.4" text-anchor="end" fill="#262626" stroke="#262626" stroke-width="0.22">0.10</text>
<text x="309" y="22.2" font-size="8.4" text-anchor="end" fill="#262626" stroke="#262626" stroke-width="0.22">0.15</text>
<text x="334.2" y="113.4" font-size="8.4" text-anchor="middle" fill="#262626" stroke="#262626" stroke-width="0.22">50</text>
<text x="406.1" y="113.4" font-size="8.4" text-anchor="middle" fill="#262626" stroke="#262626" stroke-width="0.22">100</text>
<text x="478" y="113.4" font-size="8.4" text-anchor="middle" fill="#262626" stroke="#262626" stroke-width="0.22">150</text>
<text x="439.3" y="121.8" font-size="9.3" text-anchor="middle" fill="#262626" stroke="#262626" stroke-width="0.22">energy / MeV</text>
<text transform="translate(289.8,49.2) rotate(-90)" font-size="9.1" text-anchor="middle" fill="#262626" stroke="#262626" stroke-width="0.2">charge arb. units</text>
<text x="315.4" y="21.7" font-size="15" fill="#000" textLength="21" lengthAdjust="spacingAndGlyphs">(b)</text>
<defs><clipPath id="cpb"><rect x="312.9" y="3.7" width="200.1" height="98.8"/></clipPath></defs>
<g clip-path="url(#cpb)">
<path d="M323.5,37.5 L323.7,36.8 L323.9,35.7 L324.3,34.6 L324.8,33.7 L325.5,33.1 L326.5,32.6 L327.5,32.2 L328.6,31.9 L329.8,31.6 L331.1,31.4 L332.5,31.2 L333.7,31.2 L334.7,31.4 L335.6,31.7 L336.6,32.1 L337.6,32.4 L338.8,32.6 L340.2,32.8 L341.5,32.9 L342.7,32.9 L343.7,32.6 L344.5,32.2 L345.4,31.6 L346.5,31.2 L347.9,30.9 L349.6,30.8 L351.3,30.5 L352.9,29.9 L354.3,28.9 L355.5,27.7 L356.8,26.3 L358.0,24.8 L359.3,23.3 L360.6,21.6 L361.9,19.9 L363.1,18.4 L364.2,16.9 L365.2,15.5 L366.2,14.2 L367.0,13.2 L367.7,12.5 L368.2,12.0 L368.7,11.9 L369.5,12.0 L370.6,12.6 L371.9,13.6 L373.3,14.8 L374.6,15.8 L375.7,16.6 L376.8,17.4 L377.9,18.2 L379.2,19.2 L380.8,20.5 L382.7,21.9 L384.6,23.6 L386.4,24.7 L388.0,26.5 L389.5,28.4 L391.0,30.5 L392.5,32.9 L394.0,35.7 L395.6,38.9 L397.1,42.1 L398.6,45.2 L399.9,48.1 L401.1,50.9 L402.4,53.6 L403.7,56.4 L405.2,59.3 L406.7,62.2 L408.3,65.0 L409.9,67.7 L411.6,70.2 L413.3,72.6 L415.1,76.0 L417.0,78.1 L419.0,80.0 L421.0,81.7 L423.1,83.3 L425.2,84.8 L427.2,86.1 L429.3,87.3 L431.3,88.3 L433.4,89.3 L435.4,90.2 L437.5,91.0 L439.6,91.7 L441.6,92.4 L443.7,93.1 L445.7,93.9 L447.8,94.5 L449.8,95.1 L451.8,95.6 L453.7,95.9 L455.7,96.2 L457.9,96.5 L460.3,96.8 L462.8,97.0 L465.5,97.1 L468.2,97.3 L471.3,97.4 L474.7,97.5 L477.8,97.6 L480.0,97.6 L480.0,108.0 L477.8,108.0 L474.7,107.9 L471.3,107.8 L468.2,107.7 L465.5,107.5 L462.8,107.4 L460.3,107.2 L457.9,106.9 L455.7,106.6 L453.7,106.3 L451.8,106.0 L449.8,105.5 L447.8,104.9 L445.7,104.3 L443.7,103.5 L441.6,102.8 L439.6,102.1 L437.5,101.4 L435.4,100.6 L433.4,99.7 L431.3,98.7 L429.3,97.7 L427.2,96.5 L425.2,95.2 L423.1,93.7 L421.0,92.1 L419.0,90.4 L417.0,88.5 L415.1,86.4 L413.3,85.4 L411.6,83.0 L409.9,80.5 L408.3,77.8 L406.7,75.0 L405.2,72.1 L403.7,69.2 L402.4,66.4 L401.1,63.7 L399.9,60.9 L398.6,58.0 L397.1,54.9 L395.6,51.7 L394.0,48.5 L392.5,45.7 L391.0,43.3 L389.5,41.2 L388.0,39.3 L386.4,37.5 L384.6,35.2 L382.7,33.5 L380.8,32.1 L379.2,30.8 L377.9,29.8 L376.8,29.0 L375.7,28.2 L374.6,27.4 L373.3,26.4 L371.9,25.2 L370.6,24.2 L369.5,23.6 L368.7,23.5 L368.2,23.6 L367.7,24.1 L367.0,24.8 L366.2,25.8 L365.2,27.1 L364.2,28.5 L363.1,30.0 L361.9,31.5 L360.6,33.2 L359.3,34.9 L358.0,36.4 L356.8,37.9 L355.5,39.3 L354.3,40.5 L352.9,41.5 L351.3,42.1 L349.6,42.4 L347.9,42.5 L346.5,42.8 L345.4,43.2 L344.5,43.8 L343.7,44.2 L342.7,44.5 L341.5,44.5 L340.2,44.4 L338.8,44.2 L337.6,44.0 L336.6,43.7 L335.6,43.3 L334.7,43.0 L333.7,42.8 L332.5,42.8 L331.1,43.0 L329.8,43.2 L328.6,43.5 L327.5,43.8 L326.5,44.2 L325.5,44.7 L324.8,45.3 L324.3,46.2 L323.9,47.3 L323.7,48.4 L323.5,49.1Z" fill="#b4b4b4" fill-opacity="0.85"/>
<path d="M312.9,92.0 L313.6,91.7 L314.6,91.2 L315.8,90.7 L317.1,90.2 L318.5,89.8 L320.2,89.3 L321.8,89.0 L323.5,88.9 L325.1,89.2 L326.6,89.7 L328.2,90.3 L329.9,90.9 L331.7,91.4 L333.7,91.9 L335.7,92.3 L337.6,92.7 L339.5,93.0 L341.4,93.2 L343.3,93.3 L345.2,93.5 L347.1,93.7 L349.0,93.8 L351.0,93.9 L352.9,94.0 L354.9,93.8 L356.8,93.6 L358.8,93.2 L360.6,92.6 L362.3,91.8 L363.9,90.8 L365.4,89.7 L367.0,88.7 L368.5,87.9 L370.1,87.3 L371.6,87.0 L373.3,87.1 L375.1,87.7 L377.1,88.7 L379.0,89.9 L381.0,91.0 L382.8,91.9 L384.6,92.6 L386.5,93.2 L388.7,93.9 L391.2,94.7 L394.0,95.6 L397.1,96.6 L400.7,97.3 L404.8,97.8 L409.2,98.0 L414.3,98.3 L420.0,98.5 L427.5,98.8 L436.2,99.1 L444.4,99.3 L450.0,99.5 L450.0,105.5 L444.4,105.3 L436.2,105.1 L427.5,104.8 L420.0,104.5 L414.3,104.3 L409.2,104.0 L404.8,103.8 L400.7,103.3 L397.1,102.6 L394.0,101.7 L391.2,100.8 L388.7,100.1 L386.5,99.9 L384.6,99.9 L382.8,100.0 L381.0,100.4 L379.0,100.8 L377.1,101.3 L375.1,101.7 L373.3,101.9 L371.6,102.0 L370.1,101.9 L368.5,101.6 L367.0,101.3 L365.4,101.0 L363.9,100.7 L362.3,100.6 L360.6,100.4 L358.8,100.2 L356.8,100.1 L354.9,100.1 L352.9,100.0 L351.0,100.0 L349.0,99.8 L347.1,99.7 L345.2,99.5 L343.3,99.3 L341.4,99.2 L339.5,99.0 L337.6,98.7 L335.7,98.3 L333.7,97.9 L331.7,97.4 L329.9,96.9 L328.2,96.3 L326.6,95.7 L325.1,95.2 L323.5,94.9 L321.8,95.0 L320.2,95.3 L318.5,95.8 L317.1,96.2 L315.8,96.7 L314.6,97.2 L313.6,97.7 L312.9,98.0Z" fill="#9aa0d8" fill-opacity="0.75"/>
<path d="M322.5,66.9 L323.4,67.5 L324.6,68.3 L326.0,69.3 L327.3,70.5 L328.6,72.0 L329.8,73.7 L331.1,75.4 L332.4,76.9 L333.7,78.1 L335.0,79.0 L336.3,79.9 L337.6,80.7 L338.9,81.4 L340.2,82.1 L341.4,82.7 L342.7,83.3 L344.0,83.9 L345.2,84.5 L346.5,85.2 L347.8,85.8 L349.1,86.4 L350.4,87.0 L351.6,87.7 L352.9,88.4 L354.2,89.3 L355.5,90.3 L356.8,91.3 L358.0,92.2 L359.0,92.9 L360.0,93.6 L360.9,94.2 L361.8,94.8 L362.8,95.4 L363.8,96.0 L364.8,96.5 L366.0,97.0 L367.5,97.5 L369.3,97.9 L370.9,98.2 L372.0,98.5 L372.0,105.5 L370.9,105.2 L369.3,104.9 L367.5,104.5 L366.0,104.0 L364.8,103.5 L363.8,103.0 L362.8,102.4 L361.8,101.8 L360.9,101.2 L360.0,100.6 L359.0,99.9 L358.0,99.2 L356.8,98.3 L355.5,97.3 L354.2,96.3 L352.9,95.4 L351.6,94.7 L350.4,94.0 L349.1,93.4 L347.8,92.8 L346.5,92.2 L345.2,91.5 L344.0,90.9 L342.7,90.3 L341.4,89.7 L340.2,89.1 L338.9,88.4 L337.6,87.7 L336.3,86.9 L335.0,86.0 L333.7,85.1 L332.4,83.9 L331.1,82.4 L329.8,80.7 L328.6,79.0 L327.3,77.5 L326.0,76.3 L324.6,75.3 L323.4,74.5 L322.5,73.9Z" fill="#d4d4d4" fill-opacity="0.7"/>
<path d="M322.5,64.2 L323.4,63.6 L324.6,62.7 L326.0,61.8 L327.3,61.4 L328.6,61.6 L329.8,62.2 L331.1,62.8 L332.4,63.2 L333.7,63.2 L335.0,63.0 L336.3,62.8 L337.6,62.7 L338.9,62.9 L340.2,63.3 L341.4,63.7 L342.7,64.0 L344.0,64.3 L345.2,64.5 L346.5,64.7 L347.8,64.8 L349.1,64.7 L350.4,64.5 L351.6,64.2 L352.9,64.0 L354.2,63.6 L355.4,63.3 L356.7,62.8 L358.0,62.4 L359.3,61.9 L360.6,61.4 L361.9,60.8 L363.1,60.2 L364.2,59.5 L365.2,58.7 L366.1,58.0 L367.0,57.6 L367.8,57.7 L368.5,58.1 L369.2,58.7 L370.0,59.4 L370.9,60.2 L372.0,61.2 L373.0,62.5 L374.1,63.9 L375.1,65.6 L376.2,67.5 L377.2,69.6 L378.2,71.6 L379.2,73.8 L380.1,75.9 L381.1,78.1 L382.3,80.2 L383.7,82.3 L385.2,84.4 L386.8,86.2 L388.4,87.8 L389.9,89.0 L391.3,90.5 L392.8,91.4 L394.5,92.3 L396.4,93.0 L398.5,93.7 L400.6,94.3 L402.7,94.9 L404.7,95.5 L406.5,96.0 L408.6,96.5 L410.9,97.0 L410.9,103.0 L408.6,103.0 L406.5,103.0 L404.7,103.1 L402.7,103.1 L400.6,103.1 L398.5,103.2 L396.4,103.1 L394.5,102.9 L392.8,102.6 L391.3,102.1 L389.9,102.0 L388.4,101.2 L386.8,100.2 L385.2,99.0 L383.7,97.8 L382.3,96.6 L381.1,95.3 L380.1,93.8 L379.2,92.3 L378.2,90.8 L377.2,89.2 L376.2,87.5 L375.1,85.9 L374.1,84.3 L373.0,82.8 L372.0,81.3 L370.9,79.9 L370.0,78.6 L369.2,77.4 L368.5,76.4 L367.8,75.6 L367.0,75.0 L366.1,74.7 L365.2,74.7 L364.2,74.9 L363.1,75.0 L361.9,75.1 L360.6,75.1 L359.3,75.2 L358.0,75.4 L356.7,75.6 L355.4,75.9 L354.2,76.2 L352.9,76.4 L351.6,76.7 L350.4,76.9 L349.1,77.1 L347.8,77.2 L346.5,77.1 L345.2,76.9 L344.0,76.7 L342.7,76.4 L341.4,76.1 L340.2,75.7 L338.9,75.3 L337.6,75.1 L336.3,75.2 L335.0,75.4 L333.7,75.6 L332.4,75.6 L331.1,75.2 L329.8,74.6 L328.6,74.0 L327.3,73.8 L326.0,74.2 L324.6,75.1 L323.4,76.0 L322.5,76.6Z" fill="#f2a6ab" fill-opacity="0.8"/>
<polyline points="312.9,95.0 317.1,93.2 323.5,91.9 329.9,93.9 337.6,95.7 345.2,96.5 352.9,97.0 360.6,96.5 367.0,95.0 373.3,94.5 381.0,95.7 388.7,97.0 400.7,100.3 420.0,101.5 450.0,102.5" fill="none" stroke="#3a4aa0" stroke-width="1.3" stroke-linejoin="round"/>
<polyline points="312.9,82.0 321.5,86.0 322.5,70.4 323.4,71.0 324.6,71.8 326.0,72.8 327.3,74.0 328.6,75.5 329.8,77.2 331.1,78.9 332.4,80.4 333.7,81.6 335.0,82.5 336.3,83.4 337.6,84.2 338.9,84.9 340.2,85.6 341.4,86.2 342.7,86.8 344.0,87.4 345.2,88.0 346.5,88.7 347.8,89.3 349.1,89.9 350.4,90.5 351.6,91.2 352.9,91.9 354.2,92.8 355.5,93.8 356.8,94.8 358.0,95.7 359.0,96.4 360.0,97.1 360.9,97.7 361.8,98.3 362.8,98.9 363.8,99.5 364.8,100.0 366.0,100.5 367.5,101.0 369.3,101.4 370.9,101.7 372.0,102.0" fill="none" stroke="#8a8a8a" stroke-width="1" stroke-linejoin="round"/>
<polyline points="312.9,88.8 321.5,85.0 322.5,70.4 323.4,69.8 324.6,68.9 326.0,68.0 327.3,67.6 328.6,67.8 329.8,68.4 331.1,69.0 332.4,69.4 333.7,69.4 335.0,69.2 336.3,69.0 337.6,68.9 338.9,69.1 340.2,69.5 341.4,69.9 342.7,70.2 344.0,70.5 345.2,70.7 346.5,70.9 347.8,71.0 349.1,70.9 350.4,70.7 351.6,70.5 352.9,70.2 354.2,69.9 355.4,69.6 356.7,69.2 358.0,68.9 359.3,68.6 360.6,68.2 361.9,67.9 363.1,67.6 364.2,67.2 365.2,66.7 366.1,66.3 367.0,66.3 367.8,66.6 368.5,67.2 369.2,68.1 370.0,69.0 370.9,70.1 372.0,71.3 373.0,72.6 374.1,74.1 375.1,75.7 376.2,77.5 377.2,79.4 378.2,81.2 379.2,83.0 380.1,84.9 381.1,86.7 382.3,88.4 383.7,90.1 385.2,91.7 386.8,93.2 388.4,94.5 389.9,95.5 391.3,96.3 392.8,97.0 394.5,97.6 396.4,98.1 398.5,98.4 400.6,98.7 402.7,99.0 404.7,99.3 406.5,99.5 408.6,99.8 410.9,100.0 413.6,100.3 416.5,100.6 419.7,100.8 423.2,101.1 427.0,101.3 431.1,101.6 435.5,101.8 440.0,102.0 445.2,102.2 451.1,102.3 456.3,102.4 460.0,102.5" fill="none" stroke="#d8303a" stroke-width="1.3" stroke-linejoin="round"/>
<polyline points="322.0,87.0 323.5,43.3 323.7,42.6 323.9,41.5 324.3,40.4 324.8,39.5 325.5,38.9 326.5,38.4 327.5,38.0 328.6,37.7 329.8,37.4 331.1,37.2 332.5,37.0 333.7,37.0 334.7,37.2 335.6,37.5 336.6,37.9 337.6,38.2 338.8,38.4 340.2,38.6 341.5,38.7 342.7,38.7 343.7,38.4 344.5,38.0 345.4,37.4 346.5,37.0 347.9,36.7 349.6,36.6 351.3,36.3 352.9,35.7 354.3,34.7 355.5,33.5 356.8,32.1 358.0,30.6 359.3,29.1 360.6,27.4 361.9,25.7 363.1,24.2 364.2,22.7 365.2,21.3 366.2,20.0 367.0,19.0 367.7,18.3 368.2,17.8 368.7,17.7 369.5,17.8 370.6,18.4 371.9,19.4 373.3,20.6 374.6,21.6 375.7,22.4 376.8,23.2 377.9,24.0 379.2,25.0 380.8,26.3 382.7,27.8 384.6,29.4 386.4,31.1 388.0,32.9 389.5,34.8 391.0,36.9 392.5,39.3 394.0,42.1 395.6,45.3 397.1,48.5 398.6,51.6 399.9,54.5 401.1,57.3 402.4,60.0 403.7,62.8 405.2,65.7 406.7,68.6 408.3,71.4 409.9,74.1 411.6,76.6 413.3,79.0 415.1,81.2 417.0,83.3 419.0,85.2 421.0,86.9 423.1,88.5 425.2,90.0 427.2,91.3 429.3,92.5 431.3,93.5 433.4,94.5 435.4,95.4 437.5,96.2 439.6,96.9 441.6,97.6 443.7,98.3 445.7,99.1 447.8,99.7 449.8,100.3 451.8,100.8 453.7,101.1 455.7,101.4 457.9,101.7 460.3,102.0 462.8,102.2 465.5,102.3 468.2,102.5 471.3,102.6 474.7,102.7 477.8,102.8 480.0,102.8" fill="none" stroke="#111" stroke-width="1.5" stroke-linejoin="round" stroke-dasharray="5,1.8,1.2,1.8"/>
</g>
<line x1="447.9" y1="13.8" x2="465.3" y2="13.8" stroke="#111" stroke-width="1.7" stroke-dasharray="5,1.8,1.2,1.8"/>
<line x1="447.9" y1="22.5" x2="465.3" y2="22.5" stroke="#8c998c" stroke-width="1.7"/>
<line x1="447.9" y1="31.4" x2="465.3" y2="31.4" stroke="#d8303a" stroke-width="1.7"/>
<line x1="447.9" y1="40.4" x2="465.3" y2="40.4" stroke="#4a5ab0" stroke-width="1.7"/>
<text x="466.7" y="16.4" font-size="8.4" font-family='"Liberation Serif","Times New Roman",serif' fill="#222" textLength="39" lengthAdjust="spacingAndGlyphs">Input e-beam</text>
<text x="466.7" y="25.1" font-size="8.4" font-family='"Liberation Serif","Times New Roman",serif' fill="#222" textLength="34" lengthAdjust="spacingAndGlyphs">delay +50fs</text>
<text x="466.7" y="34" font-size="8.4" font-family='"Liberation Serif","Times New Roman",serif' fill="#222" textLength="36" lengthAdjust="spacingAndGlyphs">dalay -125fs</text>
<text x="466.7" y="43" font-size="8.4" font-family='"Liberation Serif","Times New Roman",serif' fill="#222" textLength="36.8" lengthAdjust="spacingAndGlyphs">delay -350fs</text>
<rect x="312.9" y="128.5" width="200.1" height="98.8" fill="none" stroke="#555" stroke-width="1"/>
<line x1="312.9" y1="210.8" x2="314.7" y2="210.8" stroke="#555" stroke-width="1"/>
<line x1="513" y1="210.8" x2="511.2" y2="210.8" stroke="#555" stroke-width="1"/>
<line x1="312.9" y1="194.3" x2="315.4" y2="194.3" stroke="#555" stroke-width="1"/>
<line x1="513" y1="194.3" x2="510.5" y2="194.3" stroke="#555" stroke-width="1"/>
<line x1="312.9" y1="177.8" x2="314.7" y2="177.8" stroke="#555" stroke-width="1"/>
<line x1="513" y1="177.8" x2="511.2" y2="177.8" stroke="#555" stroke-width="1"/>
<line x1="312.9" y1="161.3" x2="315.4" y2="161.3" stroke="#555" stroke-width="1"/>
<line x1="513" y1="161.3" x2="510.5" y2="161.3" stroke="#555" stroke-width="1"/>
<line x1="312.9" y1="144.8" x2="314.7" y2="144.8" stroke="#555" stroke-width="1"/>
<line x1="513" y1="144.8" x2="511.2" y2="144.8" stroke="#555" stroke-width="1"/>
<line x1="324.1" y1="227.3" x2="324.1" y2="224.8" stroke="#555" stroke-width="1"/>
<line x1="324.1" y1="128.5" x2="324.1" y2="131" stroke="#555" stroke-width="1"/>
<line x1="351.75" y1="227.3" x2="351.75" y2="225.5" stroke="#555" stroke-width="1"/>
<line x1="351.75" y1="128.5" x2="351.75" y2="130.3" stroke="#555" stroke-width="1"/>
<line x1="379.4" y1="227.3" x2="379.4" y2="224.8" stroke="#555" stroke-width="1"/>
<line x1="379.4" y1="128.5" x2="379.4" y2="131" stroke="#555" stroke-width="1"/>
<line x1="407.05" y1="227.3" x2="407.05" y2="225.5" stroke="#555" stroke-width="1"/>
<line x1="407.05" y1="128.5" x2="407.05" y2="130.3" stroke="#555" stroke-width="1"/>
<line x1="434.7" y1="227.3" x2="434.7" y2="224.8" stroke="#555" stroke-width="1"/>
<line x1="434.7" y1="128.5" x2="434.7" y2="131" stroke="#555" stroke-width="1"/>
<line x1="462.35" y1="227.3" x2="462.35" y2="225.5" stroke="#555" stroke-width="1"/>
<line x1="462.35" y1="128.5" x2="462.35" y2="130.3" stroke="#555" stroke-width="1"/>
<line x1="490" y1="227.3" x2="490" y2="224.8" stroke="#555" stroke-width="1"/>
<line x1="490" y1="128.5" x2="490" y2="131" stroke="#555" stroke-width="1"/>
<text x="309.5" y="230.2" font-size="8.2" text-anchor="end" fill="#262626" stroke="#262626" stroke-width="0.22">0.0</text>
<text x="309.5" y="197.2" font-size="8.2" text-anchor="end" fill="#262626" stroke="#262626" stroke-width="0.22">0.5</text>
<text x="309.5" y="164.2" font-size="8.2" text-anchor="end" fill="#262626" stroke="#262626" stroke-width="0.22">1.0</text>
<text x="309.5" y="131.2" font-size="8.2" text-anchor="end" fill="#262626" stroke="#262626" stroke-width="0.22">1.5</text>
<text x="324.1" y="237.2" font-size="8" text-anchor="middle" fill="#262626" stroke="#262626" stroke-width="0.22">-750</text>
<text x="379.4" y="237.2" font-size="8" text-anchor="middle" fill="#262626" stroke="#262626" stroke-width="0.22">-500</text>
<text x="434.7" y="237.2" font-size="8" text-anchor="middle" fill="#262626" stroke="#262626" stroke-width="0.22">-250</text>
<text x="490" y="237.2" font-size="8" text-anchor="middle" fill="#262626" stroke="#262626" stroke-width="0.22">0</text>
<text x="463.5" y="243.5" font-size="8.6" text-anchor="middle" fill="#262626" stroke="#262626" stroke-width="0.2">delay / fs</text>
<text transform="translate(295.6,183.7) rotate(-90)" font-size="8.8" text-anchor="middle" fill="#262626" stroke="#262626" stroke-width="0.25" textLength="44.6" lengthAdjust="spacingAndGlyphs">charge / pC</text>
<text x="316.2" y="147.7" font-size="15" fill="#000" textLength="18.6" lengthAdjust="spacingAndGlyphs">(c)</text>
<defs><clipPath id="cpc"><rect x="312.9" y="128.5" width="200.1" height="98.8"/></clipPath></defs>
<g clip-path="url(#cpc)">
<path d="M314.5,178.0V202.0M313.0,178.0H316.0M313.0,202.0H316.0M317.6,184.5V211.3M316.1,184.5H319.1M316.1,211.3H319.1M320.8,171.4V190.6M319.3,171.4H322.3M319.3,190.6H322.3M323.5,164.4V187.6M322.0,164.4H325.0M322.0,187.6H325.0M326.3,183.5V213.5M324.8,183.5H327.8M324.8,213.5H327.8M329.4,184.7V214.9M327.9,184.7H330.9M327.9,214.9H330.9M332.5,167.9V184.1M331.0,167.9H334.0M331.0,184.1H334.0M335.5,162.1V179.9M334.0,162.1H337.0M334.0,179.9H337.0M338.0,135.0V227.3M336.5,135.0H339.5M336.5,227.3H339.5M341.5,199.3V214.3M340.0,199.3H343.0M340.0,214.3H343.0M344.3,191.2V213.2M342.8,191.2H345.8M342.8,213.2H345.8M347.5,176.7V191.3M346.0,176.7H349.0M346.0,191.3H349.0M350.2,179.7V201.9M348.7,179.7H351.7M348.7,201.9H351.7M352.8,191.0V216.6M351.3,191.0H354.3M351.3,216.6H354.3M355.8,197.5V216.5M354.3,197.5H357.3M354.3,216.5H357.3M359.0,186.9V213.1M357.5,186.9H360.5M357.5,213.1H360.5M362.0,180.5V205.1M360.5,180.5H363.5M360.5,205.1H363.5M365.0,185.6V200.0M363.5,185.6H366.5M363.5,200.0H366.5M368.0,201.7V225.7M366.5,201.7H369.5M366.5,225.7H369.5M371.0,204.4V223.0M369.5,204.4H372.5M369.5,223.0H372.5M374.0,197.1V218.5M372.5,197.1H375.5M372.5,218.5H375.5M377.0,188.2V207.4M375.5,188.2H378.5M375.5,207.4H378.5M379.5,176.6V203.0M378.0,176.6H381.0M378.0,203.0H381.0M382.5,186.8V208.8M381.0,186.8H384.0M381.0,208.8H384.0M385.5,209.3V226.1M384.0,209.3H387.0M384.0,226.1H387.0M388.5,195.9V219.7M387.0,195.9H390.0M387.0,219.7H390.0M391.5,165.0V193.0M390.0,165.0H393.0M390.0,193.0H393.0M394.4,176.2V195.8M392.9,176.2H395.9M392.9,195.8H395.9M397.4,192.8V210.8M395.9,192.8H398.9M395.9,210.8H398.9M400.4,199.3V220.3M398.9,199.3H401.9M398.9,220.3H401.9M403.5,202.6V233.4M402.0,202.6H405.0M402.0,233.4H405.0M407.0,166.4V205.0M405.5,166.4H408.5M405.5,205.0H408.5M410.0,194.6V226.2M408.5,194.6H411.5M408.5,226.2H411.5M413.8,202.3V228.5M412.3,202.3H415.3M412.3,228.5H415.3M417.6,183.9V214.1M416.1,183.9H419.1M416.1,214.1H419.1M421.4,171.5V196.0M419.9,171.5H422.9M419.9,196.0H422.9M424.4,187.0V216.2M422.9,187.0H425.9M422.9,216.2H425.9M427.6,203.8V224.6M426.1,203.8H429.1M426.1,224.6H429.1M431.4,197.6V213.2M429.9,197.6H432.9M429.9,213.2H432.9M434.7,182.8V210.0M433.2,182.8H436.2M433.2,210.0H436.2M438.2,201.3V227.1M436.7,201.3H439.7M436.7,227.1H439.7M441.5,190.9V214.9M440.0,190.9H443.0M440.0,214.9H443.0M444.7,178.0V198.6M443.2,178.0H446.2M443.2,198.6H446.2M447.7,140.0V192.0M446.2,140.0H449.2M446.2,192.0H449.2M451.0,186.3V204.3M449.5,186.3H452.5M449.5,204.3H452.5M454.8,192.3V213.7M453.3,192.3H456.3M453.3,213.7H456.3M457.5,200.8V223.2M456.0,200.8H459.0M456.0,223.2H459.0M459.5,186.6V205.4M458.0,186.6H461.0M458.0,205.4H461.0M462.4,126.0V168.0M460.9,126.0H463.9M460.9,168.0H463.9M465.5,158.8V178.0M464.0,158.8H467.0M464.0,178.0H467.0M468.2,173.1V195.3M466.7,173.1H469.7M466.7,195.3H469.7M471.3,185.3V214.7M469.8,185.3H472.8M469.8,214.7H472.8M474.7,185.1V209.7M473.2,185.1H476.2M473.2,209.7H476.2M477.4,182.4V201.6M475.9,182.4H478.9M475.9,201.6H478.9M480.0,143.0V193.0M478.5,143.0H481.5M478.5,193.0H481.5M483.4,164.2V183.2M481.9,164.2H484.9M481.9,183.2H484.9M486.0,134.0V168.0M484.5,134.0H487.5M484.5,168.0H487.5M489.2,134.9V157.1M487.7,134.9H490.7M487.7,157.1H490.7M492.4,148.2V165.8M490.9,148.2H493.9M490.9,165.8H493.9M495.3,128.2V145.8M493.8,128.2H496.8M493.8,145.8H496.8M498.4,123.9V147.1M496.9,123.9H499.9M496.9,147.1H499.9M501.8,121.2V136.8M500.3,121.2H503.3M500.3,136.8H503.3M505.0,117.6V140.4M503.5,117.6H506.5M503.5,140.4H506.5M509.0,119.7V140.3M507.5,119.7H510.5M507.5,140.3H510.5" stroke="#e2787e" stroke-width="1" fill="none"/>
<polyline points="314.5,190.0 317.6,197.9 320.8,181.0 323.5,176.0 326.3,198.5 329.4,199.8 332.5,176.0 335.5,171.0 338.0,184.0 341.5,206.8 344.3,202.2 347.5,184.0 350.2,190.8 352.8,203.8 355.8,207.0 359.0,200.0 362.0,192.8 365.0,192.8 368.0,213.7 371.0,213.7 374.0,207.8 377.0,197.8 379.5,189.8 382.5,197.8 385.5,217.7 388.5,207.8 391.5,179.0 394.4,186.0 397.4,201.8 400.4,209.8 403.5,218.0 407.0,186.5 410.0,210.4 413.8,215.4 417.6,199.0 421.4,183.3 424.4,201.6 427.6,214.2 431.4,205.4 434.7,196.6 438.2,214.2 441.5,202.9 444.7,188.3 447.7,166.4 451.0,195.3 454.8,203.0 457.5,212.0 459.5,196.0 462.4,137.0 465.5,168.4 468.2,184.2 471.3,200.0 474.7,197.4 477.4,192.0 480.0,164.5 483.4,173.7 486.0,151.3 489.2,146.0 492.4,157.0 495.3,137.0 498.4,135.5 501.8,129.0 505.0,129.0 509.0,130.0" fill="none" stroke="#55529f" stroke-width="1.15" stroke-linejoin="round"/>
<circle cx="314.5" cy="190.0" r="1.9" fill="#fff" stroke="#8f8cb8" stroke-width="0.9"/>
<circle cx="317.6" cy="197.9" r="1.9" fill="#fff" stroke="#8f8cb8" stroke-width="0.9"/>
<circle cx="320.8" cy="181.0" r="1.9" fill="#fff" stroke="#8f8cb8" stroke-width="0.9"/>
<circle cx="323.5" cy="176.0" r="1.9" fill="#fff" stroke="#8f8cb8" stroke-width="0.9"/>
<circle cx="326.3" cy="198.5" r="1.9" fill="#fff" stroke="#8f8cb8" stroke-width="0.9"/>
<circle cx="329.4" cy="199.8" r="1.9" fill="#fff" stroke="#8f8cb8" stroke-width="0.9"/>
<circle cx="332.5" cy="176.0" r="1.9" fill="#fff" stroke="#8f8cb8" stroke-width="0.9"/>
<circle cx="335.5" cy="171.0" r="1.9" fill="#fff" stroke="#8f8cb8" stroke-width="0.9"/>
<circle cx="338.0" cy="184.0" r="1.9" fill="#fff" stroke="#8f8cb8" stroke-width="0.9"/>
<circle cx="341.5" cy="206.8" r="1.9" fill="#fff" stroke="#8f8cb8" stroke-width="0.9"/>
<circle cx="344.3" cy="202.2" r="1.9" fill="#fff" stroke="#8f8cb8" stroke-width="0.9"/>
<circle cx="347.5" cy="184.0" r="1.9" fill="#fff" stroke="#8f8cb8" stroke-width="0.9"/>
<circle cx="350.2" cy="190.8" r="1.9" fill="#fff" stroke="#8f8cb8" stroke-width="0.9"/>
<circle cx="352.8" cy="203.8" r="1.9" fill="#fff" stroke="#8f8cb8" stroke-width="0.9"/>
<circle cx="355.8" cy="207.0" r="1.9" fill="#fff" stroke="#8f8cb8" stroke-width="0.9"/>
<circle cx="359.0" cy="200.0" r="1.9" fill="#fff" stroke="#8f8cb8" stroke-width="0.9"/>
<circle cx="362.0" cy="192.8" r="1.9" fill="#fff" stroke="#8f8cb8" stroke-width="0.9"/>
<circle cx="365.0" cy="192.8" r="1.9" fill="#fff" stroke="#8f8cb8" stroke-width="0.9"/>
<circle cx="368.0" cy="213.7" r="1.9" fill="#fff" stroke="#8f8cb8" stroke-width="0.9"/>
<circle cx="371.0" cy="213.7" r="1.9" fill="#fff" stroke="#8f8cb8" stroke-width="0.9"/>
<circle cx="374.0" cy="207.8" r="1.9" fill="#fff" stroke="#8f8cb8" stroke-width="0.9"/>
<circle cx="377.0" cy="197.8" r="1.9" fill="#fff" stroke="#8f8cb8" stroke-width="0.9"/>
<circle cx="379.5" cy="189.8" r="1.9" fill="#fff" stroke="#8f8cb8" stroke-width="0.9"/>
<circle cx="382.5" cy="197.8" r="1.9" fill="#fff" stroke="#8f8cb8" stroke-width="0.9"/>
<circle cx="385.5" cy="217.7" r="1.9" fill="#fff" stroke="#8f8cb8" stroke-width="0.9"/>
<circle cx="388.5" cy="207.8" r="1.9" fill="#fff" stroke="#8f8cb8" stroke-width="0.9"/>
<circle cx="391.5" cy="179.0" r="1.9" fill="#fff" stroke="#8f8cb8" stroke-width="0.9"/>
<circle cx="394.4" cy="186.0" r="1.9" fill="#fff" stroke="#8f8cb8" stroke-width="0.9"/>
<circle cx="397.4" cy="201.8" r="1.9" fill="#fff" stroke="#8f8cb8" stroke-width="0.9"/>
<circle cx="400.4" cy="209.8" r="1.9" fill="#fff" stroke="#8f8cb8" stroke-width="0.9"/>
<circle cx="403.5" cy="218.0" r="1.9" fill="#fff" stroke="#8f8cb8" stroke-width="0.9"/>
<circle cx="407.0" cy="186.5" r="1.9" fill="#fff" stroke="#8f8cb8" stroke-width="0.9"/>
<circle cx="410.0" cy="210.4" r="1.9" fill="#fff" stroke="#8f8cb8" stroke-width="0.9"/>
<circle cx="413.8" cy="215.4" r="1.9" fill="#fff" stroke="#8f8cb8" stroke-width="0.9"/>
<circle cx="417.6" cy="199.0" r="1.9" fill="#fff" stroke="#8f8cb8" stroke-width="0.9"/>
<circle cx="421.4" cy="183.3" r="1.9" fill="#fff" stroke="#8f8cb8" stroke-width="0.9"/>
<circle cx="424.4" cy="201.6" r="1.9" fill="#fff" stroke="#8f8cb8" stroke-width="0.9"/>
<circle cx="427.6" cy="214.2" r="1.9" fill="#fff" stroke="#8f8cb8" stroke-width="0.9"/>
<circle cx="431.4" cy="205.4" r="1.9" fill="#fff" stroke="#8f8cb8" stroke-width="0.9"/>
<circle cx="434.7" cy="196.6" r="1.9" fill="#fff" stroke="#8f8cb8" stroke-width="0.9"/>
<circle cx="438.2" cy="214.2" r="1.9" fill="#fff" stroke="#8f8cb8" stroke-width="0.9"/>
<circle cx="441.5" cy="202.9" r="1.9" fill="#fff" stroke="#8f8cb8" stroke-width="0.9"/>
<circle cx="444.7" cy="188.3" r="1.9" fill="#fff" stroke="#8f8cb8" stroke-width="0.9"/>
<circle cx="447.7" cy="166.4" r="1.9" fill="#fff" stroke="#8f8cb8" stroke-width="0.9"/>
<circle cx="451.0" cy="195.3" r="1.9" fill="#fff" stroke="#8f8cb8" stroke-width="0.9"/>
<circle cx="454.8" cy="203.0" r="1.9" fill="#fff" stroke="#8f8cb8" stroke-width="0.9"/>
<circle cx="457.5" cy="212.0" r="1.9" fill="#fff" stroke="#8f8cb8" stroke-width="0.9"/>
<circle cx="459.5" cy="196.0" r="1.9" fill="#fff" stroke="#8f8cb8" stroke-width="0.9"/>
<circle cx="462.4" cy="137.0" r="1.9" fill="#fff" stroke="#8f8cb8" stroke-width="0.9"/>
<circle cx="465.5" cy="168.4" r="1.9" fill="#fff" stroke="#8f8cb8" stroke-width="0.9"/>
<circle cx="468.2" cy="184.2" r="1.9" fill="#fff" stroke="#8f8cb8" stroke-width="0.9"/>
<circle cx="471.3" cy="200.0" r="1.9" fill="#fff" stroke="#8f8cb8" stroke-width="0.9"/>
<circle cx="474.7" cy="197.4" r="1.9" fill="#fff" stroke="#8f8cb8" stroke-width="0.9"/>
<circle cx="477.4" cy="192.0" r="1.9" fill="#fff" stroke="#8f8cb8" stroke-width="0.9"/>
<circle cx="480.0" cy="164.5" r="1.9" fill="#fff" stroke="#8f8cb8" stroke-width="0.9"/>
<circle cx="483.4" cy="173.7" r="1.9" fill="#fff" stroke="#8f8cb8" stroke-width="0.9"/>
<circle cx="486.0" cy="151.3" r="1.9" fill="#fff" stroke="#8f8cb8" stroke-width="0.9"/>
<circle cx="489.2" cy="146.0" r="1.9" fill="#fff" stroke="#8f8cb8" stroke-width="0.9"/>
<circle cx="492.4" cy="157.0" r="1.9" fill="#fff" stroke="#8f8cb8" stroke-width="0.9"/>
<circle cx="495.3" cy="137.0" r="1.9" fill="#fff" stroke="#8f8cb8" stroke-width="0.9"/>
<circle cx="498.4" cy="135.5" r="1.9" fill="#fff" stroke="#8f8cb8" stroke-width="0.9"/>
<circle cx="501.8" cy="129.0" r="1.9" fill="#fff" stroke="#8f8cb8" stroke-width="0.9"/>
<circle cx="505.0" cy="129.0" r="1.9" fill="#fff" stroke="#8f8cb8" stroke-width="0.9"/>
<circle cx="509.0" cy="130.0" r="1.9" fill="#fff" stroke="#8f8cb8" stroke-width="0.9"/>
</g>
<rect x="313.4" y="254.2" width="199.6" height="99.6" fill="none" stroke="#555" stroke-width="1"/>
<line x1="313.4" y1="328.9" x2="315.2" y2="328.9" stroke="#555" stroke-width="1"/>
<line x1="513" y1="328.9" x2="511.2" y2="328.9" stroke="#555" stroke-width="1"/>
<line x1="313.4" y1="304" x2="315.9" y2="304" stroke="#555" stroke-width="1"/>
<line x1="513" y1="304" x2="510.5" y2="304" stroke="#555" stroke-width="1"/>
<line x1="313.4" y1="279.1" x2="315.2" y2="279.1" stroke="#555" stroke-width="1"/>
<line x1="513" y1="279.1" x2="511.2" y2="279.1" stroke="#555" stroke-width="1"/>
<line x1="338.35" y1="353.8" x2="338.35" y2="352" stroke="#555" stroke-width="1"/>
<line x1="338.35" y1="254.2" x2="338.35" y2="256" stroke="#555" stroke-width="1"/>
<line x1="363.3" y1="353.8" x2="363.3" y2="351.3" stroke="#555" stroke-width="1"/>
<line x1="363.3" y1="254.2" x2="363.3" y2="256.7" stroke="#555" stroke-width="1"/>
<line x1="388.25" y1="353.8" x2="388.25" y2="352" stroke="#555" stroke-width="1"/>
<line x1="388.25" y1="254.2" x2="388.25" y2="256" stroke="#555" stroke-width="1"/>
<line x1="413.2" y1="353.8" x2="413.2" y2="351.3" stroke="#555" stroke-width="1"/>
<line x1="413.2" y1="254.2" x2="413.2" y2="256.7" stroke="#555" stroke-width="1"/>
<line x1="438.15" y1="353.8" x2="438.15" y2="352" stroke="#555" stroke-width="1"/>
<line x1="438.15" y1="254.2" x2="438.15" y2="256" stroke="#555" stroke-width="1"/>
<line x1="463.1" y1="353.8" x2="463.1" y2="351.3" stroke="#555" stroke-width="1"/>
<line x1="463.1" y1="254.2" x2="463.1" y2="256.7" stroke="#555" stroke-width="1"/>
<line x1="488.05" y1="353.8" x2="488.05" y2="352" stroke="#555" stroke-width="1"/>
<line x1="488.05" y1="254.2" x2="488.05" y2="256" stroke="#555" stroke-width="1"/>
<text x="308.7" y="356.6" font-size="7.7" text-anchor="end" fill="#262626" stroke="#262626" stroke-width="0.22">0.00</text>
<text x="308.7" y="306.8" font-size="7.7" text-anchor="end" fill="#262626" stroke="#262626" stroke-width="0.22">0.05</text>
<text x="308.7" y="257" font-size="7.7" text-anchor="end" fill="#262626" stroke="#262626" stroke-width="0.22">0.10</text>
<text x="313.4" y="364.6" font-size="7.6" text-anchor="middle" fill="#262626" stroke="#262626" stroke-width="0.22">0.00</text>
<text x="363.3" y="364.6" font-size="7.6" text-anchor="middle" fill="#262626" stroke="#262626" stroke-width="0.22">0.01</text>
<text x="413.2" y="364.6" font-size="7.6" text-anchor="middle" fill="#262626" stroke="#262626" stroke-width="0.22">0.02</text>
<text x="463.1" y="364.6" font-size="7.6" text-anchor="middle" fill="#262626" stroke="#262626" stroke-width="0.22">0.03</text>
<text x="513" y="364.6" font-size="7.6" text-anchor="middle" fill="#262626" stroke="#262626" stroke-width="0.22">0.04</text>
<text x="436.3" y="374" font-size="8.5" fill="#262626" stroke="#262626" stroke-width="0.2" textLength="50" lengthAdjust="spacingAndGlyphs">frequency / fs</text>
<text x="487.8" y="370" font-size="5.5" fill="#333">-1</text>
<text transform="translate(291.6,304.5) rotate(-90)" font-size="8.9" text-anchor="middle" fill="#262626" stroke="#262626" stroke-width="0.2" textLength="38.4" lengthAdjust="spacingAndGlyphs">amplitude</text>
<text x="316.2" y="273" font-size="15" fill="#000" textLength="21" lengthAdjust="spacingAndGlyphs">(d)</text>
<defs><clipPath id="cpd"><rect x="313.4" y="254.2" width="199.6" height="99.6"/></clipPath></defs>
<g clip-path="url(#cpd)">
<polyline points="314.2,250.0 315.0,306.3 318.4,323.0 321.8,344.2 324.6,334.4 328.3,342.8 333.0,339.5 338.0,340.0 342.3,349.0 345.2,327.4 348.0,345.6 351.6,342.8 354.2,338.6 357.3,347.9 360.6,344.2 364.9,344.2 368.5,339.5 371.9,345.0 374.7,344.2 378.0,352.7 380.9,333.0 383.7,340.0 387.4,326.0 391.6,275.3 394.4,334.4 398.6,342.8 402.3,342.8 407.0,335.8 410.7,335.8 413.0,342.4 415.7,346.4 418.1,344.8 421.1,352.1 424.1,344.4 426.6,340.0 429.2,345.4 431.8,348.5 435.2,345.4 438.3,349.0 441.3,347.5 444.3,348.5 447.4,340.0 450.4,344.4 453.4,350.5 456.4,347.5 459.5,342.0 462.1,348.5 464.5,345.4 467.6,341.0 470.6,344.0 474.2,344.8 476.6,348.5 479.7,342.4 482.7,349.5 485.1,345.4 487.7,345.4 490.4,342.0 493.2,340.4 495.8,343.4 498.5,351.5 500.5,356.0" fill="none" stroke="#cc3b47" stroke-width="1.1" stroke-linejoin="round"/>
</g>
</svg>
</body></html>
